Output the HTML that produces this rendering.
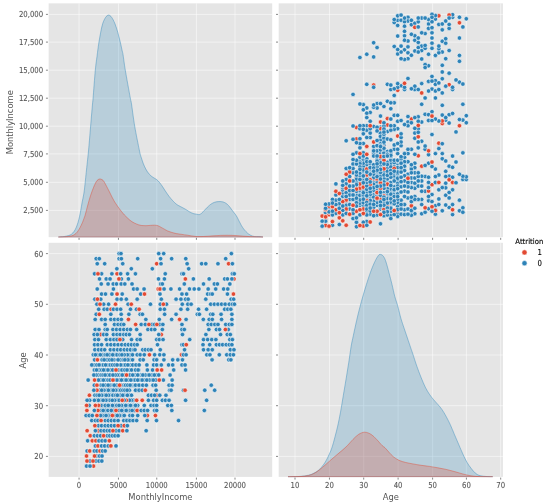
<!DOCTYPE html>
<html lang="en"><head><meta charset="utf-8"><title>Pairplot: MonthlyIncome vs Age by Attrition</title>
<style>html,body{margin:0;padding:0;background:#fff}svg{display:block}</style></head>
<body>
<svg width="550" height="504" viewBox="0 0 550 504" font-family="'DejaVu Sans', 'Liberation Sans', sans-serif">
<rect width="550" height="504" fill="#ffffff"/>
<rect x="48.65" y="3.35" width="223.55" height="233.80" fill="#E5E5E5"/>
<rect x="278.7" y="3.35" width="224.20" height="233.80" fill="#E5E5E5"/>
<rect x="48.65" y="242.8" width="223.55" height="234.10" fill="#E5E5E5"/>
<rect x="278.7" y="242.8" width="224.20" height="234.10" fill="#E5E5E5"/>
<path d="M79.05,3.35V237.15M118.45,3.35V237.15M156.75,3.35V237.15M196.40,3.35V237.15M235.00,3.35V237.15M48.65,210.40H272.2M48.65,182.30H272.2M48.65,153.90H272.2M48.65,126.20H272.2M48.65,98.20H272.2M48.65,70.20H272.2M48.65,42.10H272.2M48.65,14.40H272.2M295.00,3.35V237.15M329.45,3.35V237.15M363.70,3.35V237.15M398.10,3.35V237.15M432.60,3.35V237.15M466.40,3.35V237.15M500.70,3.35V237.15M278.7,210.40H502.9M278.7,182.30H502.9M278.7,153.90H502.9M278.7,126.20H502.9M278.7,98.20H502.9M278.7,70.20H502.9M278.7,42.10H502.9M278.7,14.40H502.9M79.05,242.8V476.9M118.45,242.8V476.9M156.75,242.8V476.9M196.40,242.8V476.9M235.00,242.8V476.9M48.65,456.40H272.2M48.65,405.70H272.2M48.65,355.00H272.2M48.65,304.30H272.2M48.65,253.60H272.2M295.00,242.8V476.9M329.45,242.8V476.9M363.70,242.8V476.9M398.10,242.8V476.9M432.60,242.8V476.9M466.40,242.8V476.9M500.70,242.8V476.9M278.7,456.40H502.9M278.7,405.70H502.9M278.7,355.00H502.9M278.7,304.30H502.9M278.7,253.60H502.9" stroke="#ffffff" stroke-width="0.52" fill="none"/>
<path d="M79.05,237.85v2.0M118.45,237.85v2.0M156.75,237.85v2.0M196.40,237.85v2.0M235.00,237.85v2.0M47.949999999999996,210.40h-2.0M47.949999999999996,182.30h-2.0M47.949999999999996,153.90h-2.0M47.949999999999996,126.20h-2.0M47.949999999999996,98.20h-2.0M47.949999999999996,70.20h-2.0M47.949999999999996,42.10h-2.0M47.949999999999996,14.40h-2.0M295.00,237.85v2.0M329.45,237.85v2.0M363.70,237.85v2.0M398.10,237.85v2.0M432.60,237.85v2.0M466.40,237.85v2.0M500.70,237.85v2.0M278.0,210.40h-2.0M278.0,182.30h-2.0M278.0,153.90h-2.0M278.0,126.20h-2.0M278.0,98.20h-2.0M278.0,70.20h-2.0M278.0,42.10h-2.0M278.0,14.40h-2.0M79.05,477.59999999999997v2.0M118.45,477.59999999999997v2.0M156.75,477.59999999999997v2.0M196.40,477.59999999999997v2.0M235.00,477.59999999999997v2.0M47.949999999999996,456.40h-2.0M47.949999999999996,405.70h-2.0M47.949999999999996,355.00h-2.0M47.949999999999996,304.30h-2.0M47.949999999999996,253.60h-2.0M295.00,477.59999999999997v2.0M329.45,477.59999999999997v2.0M363.70,477.59999999999997v2.0M398.10,477.59999999999997v2.0M432.60,477.59999999999997v2.0M466.40,477.59999999999997v2.0M500.70,477.59999999999997v2.0M278.0,456.40h-2.0M278.0,405.70h-2.0M278.0,355.00h-2.0M278.0,304.30h-2.0M278.0,253.60h-2.0" stroke="#555555" stroke-width="0.7" fill="none"/>
<clipPath id="ctl"><rect x="48.65" y="3.35" width="223.55" height="234.25"/></clipPath>
<clipPath id="cbr"><rect x="278.7" y="242.8" width="224.20" height="234.55"/></clipPath>
<g clip-path="url(#ctl)"><path d="M58.40,237.10C59.37,237.00 62.52,236.75 64.20,236.50C65.88,236.25 67.28,235.98 68.50,235.60C69.72,235.22 70.55,234.92 71.50,234.20C72.45,233.48 73.42,232.42 74.20,231.30C74.98,230.18 75.57,228.97 76.20,227.50C76.83,226.03 77.45,224.32 78.00,222.50C78.55,220.68 79.05,218.57 79.50,216.60C79.95,214.63 80.25,213.13 80.70,210.70C81.15,208.27 81.72,204.62 82.20,202.00C82.68,199.38 83.20,197.33 83.60,195.00C84.00,192.67 84.17,191.72 84.60,188.00C85.03,184.28 85.53,179.03 86.20,172.70C86.87,166.37 87.92,157.12 88.60,150.00C89.28,142.88 89.65,137.67 90.30,130.00C90.95,122.33 92.03,109.33 92.50,104.00C92.97,98.67 92.63,103.63 93.10,98.00C93.57,92.37 94.62,77.37 95.30,70.20C95.98,63.03 96.80,58.22 97.20,55.00C97.60,51.78 97.40,53.10 97.70,50.90C98.00,48.70 98.52,44.83 99.00,41.80C99.48,38.77 99.98,35.73 100.60,32.70C101.22,29.67 101.87,26.15 102.70,23.60C103.53,21.05 104.62,18.82 105.60,17.40C106.58,15.98 107.60,15.12 108.60,15.10C109.60,15.08 110.55,15.88 111.60,17.30C112.65,18.72 113.85,21.03 114.90,23.60C115.95,26.17 117.02,29.67 117.90,32.70C118.78,35.73 119.48,38.77 120.20,41.80C120.92,44.83 121.72,48.70 122.20,50.90C122.68,53.10 122.58,51.78 123.10,55.00C123.62,58.22 124.10,63.03 125.30,70.20C126.50,77.37 129.27,92.37 130.30,98.00C131.33,103.63 130.77,99.30 131.50,104.00C132.23,108.70 133.40,118.53 134.70,126.20C136.00,133.87 138.27,144.95 139.30,150.00C140.33,155.05 140.27,154.32 140.90,156.50C141.53,158.68 142.28,161.00 143.10,163.10C143.92,165.20 144.80,167.28 145.80,169.10C146.80,170.92 147.92,172.63 149.10,174.00C150.28,175.37 151.63,176.37 152.90,177.30C154.17,178.23 155.57,178.70 156.70,179.60C157.83,180.50 158.73,181.53 159.70,182.70C160.67,183.87 161.58,185.25 162.50,186.60C163.42,187.95 164.30,189.43 165.20,190.80C166.10,192.17 166.97,193.52 167.90,194.80C168.83,196.08 169.92,197.43 170.80,198.50C171.68,199.57 172.35,200.32 173.20,201.20C174.05,202.08 175.00,203.07 175.90,203.80C176.80,204.53 177.53,204.98 178.60,205.60C179.67,206.22 181.08,206.85 182.30,207.50C183.52,208.15 184.70,208.78 185.90,209.50C187.10,210.22 188.28,211.13 189.50,211.80C190.72,212.47 192.02,213.10 193.20,213.50C194.38,213.90 195.50,214.03 196.60,214.20C197.70,214.37 198.73,214.88 199.80,214.50C200.87,214.12 201.75,213.10 203.00,211.90C204.25,210.70 205.98,208.58 207.30,207.30C208.62,206.02 209.70,205.03 210.90,204.20C212.10,203.37 213.28,202.73 214.50,202.30C215.72,201.87 216.98,201.70 218.20,201.60C219.42,201.50 220.75,201.55 221.80,201.70C222.85,201.85 223.58,202.07 224.50,202.50C225.42,202.93 226.38,203.50 227.30,204.30C228.22,205.10 229.10,206.18 230.00,207.30C230.90,208.42 231.82,209.83 232.70,211.00C233.58,212.17 234.55,213.25 235.30,214.30C236.05,215.35 236.52,216.07 237.20,217.30C237.88,218.53 238.68,220.30 239.40,221.70C240.12,223.10 240.78,224.48 241.50,225.70C242.22,226.92 242.97,228.03 243.70,229.00C244.43,229.97 245.17,230.72 245.90,231.50C246.63,232.28 247.25,233.03 248.10,233.70C248.95,234.37 249.92,235.02 251.00,235.50C252.08,235.98 253.27,236.42 254.60,236.60C255.93,236.78 257.60,236.52 259.00,236.60C260.40,236.68 262.33,237.02 263.00,237.10L263.00,237.15L58.40,237.15Z" fill="#348ABD" fill-opacity="0.25" stroke="#348ABD" stroke-opacity="1" stroke-width="0.45" stroke-linejoin="round"/><path d="M58.40,237.10C59.67,237.05 63.82,237.00 66.00,236.80C68.18,236.60 70.08,236.27 71.50,235.90C72.92,235.53 73.53,235.25 74.50,234.60C75.47,233.95 76.42,233.10 77.30,232.00C78.18,230.90 78.92,229.63 79.80,228.00C80.68,226.37 81.75,224.20 82.60,222.20C83.45,220.20 84.23,218.12 84.90,216.00C85.57,213.88 85.90,212.10 86.60,209.50C87.30,206.90 88.35,202.98 89.10,200.40C89.85,197.82 90.35,196.18 91.10,194.00C91.85,191.82 92.75,189.33 93.60,187.30C94.45,185.27 95.43,183.08 96.20,181.80C96.97,180.52 97.57,180.07 98.20,179.60C98.83,179.13 99.38,179.00 100.00,179.00C100.62,179.00 101.27,179.22 101.90,179.60C102.53,179.98 103.03,180.20 103.80,181.30C104.57,182.40 105.58,184.48 106.50,186.20C107.42,187.92 108.38,189.78 109.30,191.60C110.22,193.42 111.10,195.37 112.00,197.10C112.90,198.83 113.70,200.37 114.70,202.00C115.70,203.63 116.90,205.35 118.00,206.90C119.10,208.45 120.22,209.93 121.30,211.30C122.38,212.67 123.42,213.93 124.50,215.10C125.58,216.27 126.70,217.30 127.80,218.30C128.90,219.30 130.02,220.32 131.10,221.10C132.18,221.88 133.10,222.40 134.30,223.00C135.50,223.60 137.05,224.28 138.30,224.70C139.55,225.12 140.53,225.33 141.80,225.50C143.07,225.67 144.48,225.72 145.90,225.70C147.32,225.68 148.85,225.48 150.30,225.40C151.75,225.32 153.33,225.15 154.60,225.20C155.87,225.25 156.80,225.33 157.90,225.70C159.00,226.07 160.12,226.82 161.20,227.40C162.28,227.98 163.32,228.60 164.40,229.20C165.48,229.80 166.42,230.45 167.70,231.00C168.98,231.55 170.65,232.07 172.10,232.50C173.55,232.93 174.77,233.28 176.40,233.60C178.03,233.92 180.08,234.13 181.90,234.40C183.72,234.67 185.12,234.87 187.30,235.20C189.48,235.53 192.88,236.17 195.00,236.40C197.12,236.63 198.00,236.62 200.00,236.60C202.00,236.58 204.73,236.43 207.00,236.30C209.27,236.17 211.35,235.95 213.60,235.80C215.85,235.65 218.22,235.48 220.50,235.40C222.78,235.32 224.88,235.28 227.30,235.30C229.72,235.32 232.50,235.37 235.00,235.50C237.50,235.63 239.88,235.92 242.30,236.10C244.72,236.28 247.22,236.47 249.50,236.60C251.78,236.73 253.75,236.82 256.00,236.90C258.25,236.98 261.83,237.07 263.00,237.10L263.00,237.15L58.40,237.15Z" fill="#E24A33" fill-opacity="0.25" stroke="#E24A33" stroke-opacity="1" stroke-width="0.45" stroke-linejoin="round"/></g>
<g clip-path="url(#cbr)"><path d="M288.00,476.95C288.65,476.93 289.87,476.93 291.90,476.84C293.93,476.75 297.42,476.67 300.20,476.40C302.98,476.12 306.28,475.74 308.60,475.18C310.92,474.63 312.25,474.09 314.10,473.09C315.95,472.09 317.85,471.01 319.70,469.20C321.55,467.39 323.58,464.75 325.20,462.20C326.82,459.65 328.23,456.45 329.40,453.90C330.57,451.35 331.28,449.68 332.20,446.90C333.12,444.12 333.98,440.67 334.90,437.20C335.82,433.73 336.77,430.27 337.70,426.10C338.63,421.93 339.57,417.28 340.50,412.20C341.43,407.12 342.37,401.15 343.30,395.60C344.23,390.05 345.18,384.47 346.10,378.90C347.02,373.33 347.95,367.68 348.80,362.20C349.65,356.72 350.45,350.40 351.20,346.00C351.95,341.60 352.40,340.03 353.30,335.80C354.20,331.57 355.52,325.32 356.60,320.60C357.68,315.88 358.72,311.68 359.80,307.50C360.88,303.32 362.00,299.33 363.10,295.50C364.20,291.67 365.32,287.97 366.40,284.50C367.48,281.03 368.52,277.78 369.60,274.70C370.68,271.62 371.80,268.62 372.90,266.00C374.00,263.38 375.28,260.75 376.20,259.00C377.12,257.25 377.78,256.27 378.40,255.50C379.02,254.73 379.18,254.40 379.90,254.40C380.62,254.40 381.77,254.48 382.70,255.50C383.63,256.52 384.48,257.75 385.50,260.50C386.52,263.25 387.72,268.00 388.80,272.00C389.88,276.00 391.00,280.42 392.00,284.50C393.00,288.58 393.87,293.00 394.80,296.50C395.73,300.00 396.58,301.85 397.60,305.50C398.62,309.15 399.82,314.62 400.90,318.40C401.98,322.18 403.02,324.93 404.10,328.20C405.18,331.47 406.30,334.73 407.40,338.00C408.50,341.27 409.80,345.15 410.70,347.80C411.60,350.45 411.77,350.80 412.80,353.90C413.83,357.00 415.52,362.47 416.90,366.40C418.28,370.33 419.70,374.03 421.10,377.50C422.50,380.97 423.92,384.42 425.30,387.20C426.68,389.98 428.02,392.12 429.40,394.20C430.78,396.28 432.20,398.00 433.60,399.70C435.00,401.40 436.42,402.78 437.80,404.40C439.18,406.02 440.52,407.40 441.90,409.40C443.28,411.40 444.70,413.85 446.10,416.40C447.50,418.95 448.92,421.70 450.30,424.70C451.68,427.70 453.02,431.15 454.40,434.40C455.78,437.65 457.20,440.95 458.60,444.20C460.00,447.45 461.42,450.90 462.80,453.90C464.18,456.90 465.52,459.80 466.90,462.20C468.28,464.60 469.70,466.49 471.10,468.30C472.50,470.11 473.68,471.83 475.30,473.09C476.92,474.35 477.90,475.20 480.80,475.85C483.70,476.49 490.72,476.77 492.70,476.95L492.70,476.9L288.00,476.9Z" fill="#348ABD" fill-opacity="0.25" stroke="#348ABD" stroke-opacity="1" stroke-width="0.45" stroke-linejoin="round"/><path d="M288.00,476.95C288.67,476.93 289.97,476.89 292.00,476.84C294.03,476.78 297.43,476.84 300.20,476.62C302.97,476.40 306.28,476.05 308.60,475.52C310.92,474.98 312.25,474.39 314.10,473.42C315.95,472.45 317.85,471.10 319.70,469.70C321.55,468.30 323.35,466.62 325.20,465.00C327.05,463.38 328.95,461.62 330.80,460.00C332.65,458.38 334.45,456.87 336.30,455.30C338.15,453.73 340.05,452.22 341.90,450.60C343.75,448.98 345.55,447.47 347.40,445.60C349.25,443.73 351.13,441.27 353.00,439.40C354.87,437.53 356.65,435.60 358.60,434.40C360.55,433.20 362.62,432.20 364.70,432.20C366.78,432.20 369.12,433.20 371.10,434.40C373.08,435.60 374.75,437.53 376.60,439.40C378.45,441.27 380.80,444.20 382.20,445.60C383.60,447.00 383.83,446.65 385.00,447.80C386.17,448.95 387.82,451.02 389.20,452.50C390.58,453.98 391.68,455.40 393.30,456.70C394.92,458.00 396.82,459.33 398.90,460.30C400.98,461.27 403.48,461.90 405.80,462.50C408.12,463.10 410.25,463.43 412.80,463.90C415.35,464.37 418.33,464.88 421.10,465.30C423.87,465.72 426.62,465.98 429.40,466.40C432.18,466.82 435.02,467.30 437.80,467.80C440.58,468.30 443.33,468.78 446.10,469.40C448.87,470.02 451.62,470.78 454.40,471.54C457.18,472.31 460.02,473.25 462.80,473.97C465.58,474.69 468.10,475.39 471.10,475.85C474.10,476.31 477.20,476.55 480.80,476.73C484.40,476.91 490.72,476.91 492.70,476.95L492.70,476.9L288.00,476.9Z" fill="#E24A33" fill-opacity="0.25" stroke="#E24A33" stroke-opacity="1" stroke-width="0.45" stroke-linejoin="round"/></g>
<g stroke="#ffffff" stroke-width="0.55"><circle cx="107.63" cy="364.92" r="2.25" fill="#2E83B8"/><circle cx="161.32" cy="334.56" r="2.25" fill="#E24A33"/><circle cx="118.40" cy="385.16" r="2.25" fill="#2E83B8"/><circle cx="106.35" cy="375.04" r="2.25" fill="#2E83B8"/><circle cx="108.95" cy="364.92" r="2.25" fill="#2E83B8"/><circle cx="124.82" cy="425.64" r="2.25" fill="#2E83B8"/><circle cx="87.13" cy="450.94" r="2.25" fill="#2E83B8"/><circle cx="125.17" cy="385.16" r="2.25" fill="#2E83B8"/><circle cx="131.20" cy="344.68" r="2.25" fill="#2E83B8"/><circle cx="113.27" cy="410.46" r="2.25" fill="#E24A33"/><circle cx="102.67" cy="380.10" r="2.25" fill="#2E83B8"/><circle cx="120.53" cy="354.80" r="2.25" fill="#2E83B8"/><circle cx="133.82" cy="364.92" r="2.25" fill="#E24A33"/><circle cx="125.44" cy="369.98" r="2.25" fill="#2E83B8"/><circle cx="150.63" cy="380.10" r="2.25" fill="#2E83B8"/><circle cx="96.89" cy="461.06" r="2.25" fill="#E24A33"/><circle cx="120.57" cy="339.62" r="2.25" fill="#2E83B8"/><circle cx="104.85" cy="410.46" r="2.25" fill="#2E83B8"/><circle cx="102.67" cy="364.92" r="2.25" fill="#2E83B8"/><circle cx="97.79" cy="450.94" r="2.25" fill="#E24A33"/><circle cx="116.50" cy="375.04" r="2.25" fill="#2E83B8"/><circle cx="100.22" cy="380.10" r="2.25" fill="#E24A33"/><circle cx="137.70" cy="415.52" r="2.25" fill="#2E83B8"/><circle cx="100.18" cy="450.94" r="2.25" fill="#E24A33"/><circle cx="130.65" cy="344.68" r="2.25" fill="#2E83B8"/><circle cx="209.19" cy="278.90" r="2.25" fill="#2E83B8"/><circle cx="102.08" cy="390.22" r="2.25" fill="#E24A33"/><circle cx="114.11" cy="354.80" r="2.25" fill="#E24A33"/><circle cx="116.76" cy="395.28" r="2.25" fill="#2E83B8"/><circle cx="136.46" cy="309.26" r="2.25" fill="#2E83B8"/><circle cx="120.94" cy="359.86" r="2.25" fill="#2E83B8"/><circle cx="112.49" cy="430.70" r="2.25" fill="#E24A33"/><circle cx="214.35" cy="283.96" r="2.25" fill="#2E83B8"/><circle cx="104.61" cy="395.28" r="2.25" fill="#2E83B8"/><circle cx="109.53" cy="390.22" r="2.25" fill="#2E83B8"/><circle cx="113.90" cy="385.16" r="2.25" fill="#2E83B8"/><circle cx="117.26" cy="339.62" r="2.25" fill="#2E83B8"/><circle cx="110.64" cy="425.64" r="2.25" fill="#2E83B8"/><circle cx="104.49" cy="405.40" r="2.25" fill="#2E83B8"/><circle cx="127.66" cy="369.98" r="2.25" fill="#2E83B8"/><circle cx="113.63" cy="369.98" r="2.25" fill="#2E83B8"/><circle cx="130.27" cy="410.46" r="2.25" fill="#2E83B8"/><circle cx="102.84" cy="359.86" r="2.25" fill="#2E83B8"/><circle cx="104.67" cy="400.34" r="2.25" fill="#2E83B8"/><circle cx="116.79" cy="354.80" r="2.25" fill="#2E83B8"/><circle cx="126.91" cy="359.86" r="2.25" fill="#2E83B8"/><circle cx="95.38" cy="445.88" r="2.25" fill="#2E83B8"/><circle cx="118.63" cy="375.04" r="2.25" fill="#2E83B8"/><circle cx="97.53" cy="354.80" r="2.25" fill="#E24A33"/><circle cx="99.98" cy="334.56" r="2.25" fill="#E24A33"/><circle cx="128.20" cy="390.22" r="2.25" fill="#2E83B8"/><circle cx="89.77" cy="461.06" r="2.25" fill="#E24A33"/><circle cx="118.70" cy="359.86" r="2.25" fill="#2E83B8"/><circle cx="105.51" cy="380.10" r="2.25" fill="#E24A33"/><circle cx="138.64" cy="369.98" r="2.25" fill="#2E83B8"/><circle cx="111.49" cy="390.22" r="2.25" fill="#2E83B8"/><circle cx="107.25" cy="390.22" r="2.25" fill="#E24A33"/><circle cx="112.72" cy="354.80" r="2.25" fill="#2E83B8"/><circle cx="149.85" cy="380.10" r="2.25" fill="#2E83B8"/><circle cx="113.11" cy="354.80" r="2.25" fill="#2E83B8"/><circle cx="115.43" cy="354.80" r="2.25" fill="#2E83B8"/><circle cx="134.86" cy="364.92" r="2.25" fill="#2E83B8"/><circle cx="124.66" cy="380.10" r="2.25" fill="#2E83B8"/><circle cx="111.78" cy="435.76" r="2.25" fill="#2E83B8"/><circle cx="117.52" cy="415.52" r="2.25" fill="#2E83B8"/><circle cx="215.69" cy="289.02" r="2.25" fill="#2E83B8"/><circle cx="138.73" cy="380.10" r="2.25" fill="#2E83B8"/><circle cx="231.89" cy="319.38" r="2.25" fill="#2E83B8"/><circle cx="97.96" cy="400.34" r="2.25" fill="#E24A33"/><circle cx="112.93" cy="329.50" r="2.25" fill="#2E83B8"/><circle cx="90.84" cy="461.06" r="2.25" fill="#E24A33"/><circle cx="107.09" cy="354.80" r="2.25" fill="#2E83B8"/><circle cx="118.83" cy="395.28" r="2.25" fill="#2E83B8"/><circle cx="136.57" cy="405.40" r="2.25" fill="#2E83B8"/><circle cx="121.53" cy="380.10" r="2.25" fill="#E24A33"/><circle cx="130.37" cy="380.10" r="2.25" fill="#2E83B8"/><circle cx="131.85" cy="400.34" r="2.25" fill="#2E83B8"/><circle cx="104.43" cy="369.98" r="2.25" fill="#2E83B8"/><circle cx="132.75" cy="375.04" r="2.25" fill="#2E83B8"/><circle cx="138.72" cy="390.22" r="2.25" fill="#2E83B8"/><circle cx="124.72" cy="385.16" r="2.25" fill="#2E83B8"/><circle cx="109.57" cy="369.98" r="2.25" fill="#2E83B8"/><circle cx="125.39" cy="359.86" r="2.25" fill="#2E83B8"/><circle cx="121.97" cy="395.28" r="2.25" fill="#2E83B8"/><circle cx="130.12" cy="410.46" r="2.25" fill="#2E83B8"/><circle cx="187.12" cy="263.72" r="2.25" fill="#2E83B8"/><circle cx="106.90" cy="375.04" r="2.25" fill="#E24A33"/><circle cx="122.73" cy="339.62" r="2.25" fill="#2E83B8"/><circle cx="101.19" cy="405.40" r="2.25" fill="#E24A33"/><circle cx="104.30" cy="334.56" r="2.25" fill="#2E83B8"/><circle cx="107.01" cy="395.28" r="2.25" fill="#2E83B8"/><circle cx="102.37" cy="380.10" r="2.25" fill="#2E83B8"/><circle cx="102.93" cy="405.40" r="2.25" fill="#2E83B8"/><circle cx="100.92" cy="430.70" r="2.25" fill="#E24A33"/><circle cx="122.62" cy="385.16" r="2.25" fill="#2E83B8"/><circle cx="101.43" cy="395.28" r="2.25" fill="#2E83B8"/><circle cx="89.06" cy="415.52" r="2.25" fill="#E24A33"/><circle cx="101.88" cy="405.40" r="2.25" fill="#E24A33"/><circle cx="126.42" cy="385.16" r="2.25" fill="#2E83B8"/><circle cx="112.18" cy="390.22" r="2.25" fill="#2E83B8"/><circle cx="106.34" cy="430.70" r="2.25" fill="#E24A33"/><circle cx="164.62" cy="314.32" r="2.25" fill="#2E83B8"/><circle cx="108.86" cy="364.92" r="2.25" fill="#2E83B8"/><circle cx="159.77" cy="324.44" r="2.25" fill="#2E83B8"/><circle cx="188.66" cy="268.78" r="2.25" fill="#2E83B8"/><circle cx="126.66" cy="410.46" r="2.25" fill="#E24A33"/><circle cx="140.68" cy="294.08" r="2.25" fill="#2E83B8"/><circle cx="122.63" cy="375.04" r="2.25" fill="#E24A33"/><circle cx="104.66" cy="415.52" r="2.25" fill="#2E83B8"/><circle cx="106.53" cy="359.86" r="2.25" fill="#E24A33"/><circle cx="160.28" cy="309.26" r="2.25" fill="#2E83B8"/><circle cx="179.58" cy="319.38" r="2.25" fill="#E24A33"/><circle cx="128.41" cy="319.38" r="2.25" fill="#E24A33"/><circle cx="135.24" cy="364.92" r="2.25" fill="#2E83B8"/><circle cx="181.96" cy="364.92" r="2.25" fill="#2E83B8"/><circle cx="122.51" cy="395.28" r="2.25" fill="#2E83B8"/><circle cx="126.44" cy="390.22" r="2.25" fill="#2E83B8"/><circle cx="148.27" cy="375.04" r="2.25" fill="#2E83B8"/><circle cx="114.51" cy="395.28" r="2.25" fill="#E24A33"/><circle cx="97.79" cy="420.58" r="2.25" fill="#E24A33"/><circle cx="173.70" cy="369.98" r="2.25" fill="#2E83B8"/><circle cx="96.82" cy="400.34" r="2.25" fill="#E24A33"/><circle cx="109.66" cy="435.76" r="2.25" fill="#2E83B8"/><circle cx="114.37" cy="375.04" r="2.25" fill="#E24A33"/><circle cx="121.08" cy="390.22" r="2.25" fill="#2E83B8"/><circle cx="114.91" cy="385.16" r="2.25" fill="#2E83B8"/><circle cx="134.54" cy="349.74" r="2.25" fill="#2E83B8"/><circle cx="98.48" cy="425.64" r="2.25" fill="#2E83B8"/><circle cx="97.38" cy="395.28" r="2.25" fill="#2E83B8"/><circle cx="98.46" cy="461.06" r="2.25" fill="#E24A33"/><circle cx="117.84" cy="385.16" r="2.25" fill="#2E83B8"/><circle cx="103.78" cy="430.70" r="2.25" fill="#E24A33"/><circle cx="124.47" cy="390.22" r="2.25" fill="#2E83B8"/><circle cx="127.05" cy="349.74" r="2.25" fill="#2E83B8"/><circle cx="104.36" cy="415.52" r="2.25" fill="#E24A33"/><circle cx="92.28" cy="364.92" r="2.25" fill="#2E83B8"/><circle cx="177.83" cy="359.86" r="2.25" fill="#2E83B8"/><circle cx="111.14" cy="405.40" r="2.25" fill="#2E83B8"/><circle cx="117.86" cy="400.34" r="2.25" fill="#2E83B8"/><circle cx="107.02" cy="369.98" r="2.25" fill="#E24A33"/><circle cx="120.12" cy="354.80" r="2.25" fill="#2E83B8"/><circle cx="123.86" cy="364.92" r="2.25" fill="#2E83B8"/><circle cx="126.15" cy="385.16" r="2.25" fill="#2E83B8"/><circle cx="136.32" cy="369.98" r="2.25" fill="#2E83B8"/><circle cx="107.42" cy="400.34" r="2.25" fill="#2E83B8"/><circle cx="101.84" cy="385.16" r="2.25" fill="#2E83B8"/><circle cx="131.48" cy="380.10" r="2.25" fill="#E24A33"/><circle cx="97.13" cy="400.34" r="2.25" fill="#E24A33"/><circle cx="108.41" cy="405.40" r="2.25" fill="#2E83B8"/><circle cx="155.52" cy="375.04" r="2.25" fill="#2E83B8"/><circle cx="109.65" cy="364.92" r="2.25" fill="#2E83B8"/><circle cx="104.99" cy="410.46" r="2.25" fill="#2E83B8"/><circle cx="98.90" cy="440.82" r="2.25" fill="#2E83B8"/><circle cx="103.57" cy="334.56" r="2.25" fill="#2E83B8"/><circle cx="146.15" cy="430.70" r="2.25" fill="#2E83B8"/><circle cx="109.02" cy="354.80" r="2.25" fill="#2E83B8"/><circle cx="154.61" cy="354.80" r="2.25" fill="#2E83B8"/><circle cx="181.96" cy="273.84" r="2.25" fill="#2E83B8"/><circle cx="99.36" cy="400.34" r="2.25" fill="#E24A33"/><circle cx="138.54" cy="385.16" r="2.25" fill="#2E83B8"/><circle cx="97.78" cy="364.92" r="2.25" fill="#E24A33"/><circle cx="136.87" cy="375.04" r="2.25" fill="#2E83B8"/><circle cx="162.86" cy="324.44" r="2.25" fill="#2E83B8"/><circle cx="233.96" cy="278.90" r="2.25" fill="#E24A33"/><circle cx="132.55" cy="364.92" r="2.25" fill="#E24A33"/><circle cx="130.09" cy="395.28" r="2.25" fill="#2E83B8"/><circle cx="112.98" cy="354.80" r="2.25" fill="#2E83B8"/><circle cx="97.17" cy="420.58" r="2.25" fill="#E24A33"/><circle cx="96.03" cy="369.98" r="2.25" fill="#2E83B8"/><circle cx="151.80" cy="375.04" r="2.25" fill="#E24A33"/><circle cx="224.67" cy="309.26" r="2.25" fill="#2E83B8"/><circle cx="98.26" cy="435.76" r="2.25" fill="#E24A33"/><circle cx="100.16" cy="430.70" r="2.25" fill="#E24A33"/><circle cx="132.04" cy="354.80" r="2.25" fill="#2E83B8"/><circle cx="133.28" cy="380.10" r="2.25" fill="#2E83B8"/><circle cx="110.80" cy="405.40" r="2.25" fill="#2E83B8"/><circle cx="130.12" cy="410.46" r="2.25" fill="#E24A33"/><circle cx="120.52" cy="425.64" r="2.25" fill="#E24A33"/><circle cx="101.40" cy="435.76" r="2.25" fill="#E24A33"/><circle cx="209.70" cy="344.68" r="2.25" fill="#2E83B8"/><circle cx="123.29" cy="410.46" r="2.25" fill="#E24A33"/><circle cx="99.91" cy="334.56" r="2.25" fill="#2E83B8"/><circle cx="141.29" cy="380.10" r="2.25" fill="#2E83B8"/><circle cx="126.94" cy="420.58" r="2.25" fill="#2E83B8"/><circle cx="105.37" cy="410.46" r="2.25" fill="#2E83B8"/><circle cx="108.11" cy="415.52" r="2.25" fill="#2E83B8"/><circle cx="114.70" cy="435.76" r="2.25" fill="#2E83B8"/><circle cx="109.01" cy="400.34" r="2.25" fill="#E24A33"/><circle cx="131.19" cy="410.46" r="2.25" fill="#2E83B8"/><circle cx="156.28" cy="375.04" r="2.25" fill="#E24A33"/><circle cx="128.47" cy="359.86" r="2.25" fill="#2E83B8"/><circle cx="135.63" cy="324.44" r="2.25" fill="#E24A33"/><circle cx="159.77" cy="354.80" r="2.25" fill="#2E83B8"/><circle cx="96.85" cy="334.56" r="2.25" fill="#2E83B8"/><circle cx="105.70" cy="395.28" r="2.25" fill="#2E83B8"/><circle cx="109.24" cy="420.58" r="2.25" fill="#2E83B8"/><circle cx="106.50" cy="375.04" r="2.25" fill="#2E83B8"/><circle cx="107.18" cy="369.98" r="2.25" fill="#E24A33"/><circle cx="231.17" cy="299.14" r="2.25" fill="#2E83B8"/><circle cx="137.06" cy="390.22" r="2.25" fill="#E24A33"/><circle cx="122.04" cy="369.98" r="2.25" fill="#2E83B8"/><circle cx="120.60" cy="390.22" r="2.25" fill="#2E83B8"/><circle cx="111.99" cy="425.64" r="2.25" fill="#E24A33"/><circle cx="136.74" cy="369.98" r="2.25" fill="#2E83B8"/><circle cx="104.11" cy="380.10" r="2.25" fill="#2E83B8"/><circle cx="159.25" cy="319.38" r="2.25" fill="#2E83B8"/><circle cx="98.12" cy="364.92" r="2.25" fill="#2E83B8"/><circle cx="154.61" cy="380.10" r="2.25" fill="#E24A33"/><circle cx="107.76" cy="364.92" r="2.25" fill="#E24A33"/><circle cx="114.56" cy="400.34" r="2.25" fill="#2E83B8"/><circle cx="131.33" cy="349.74" r="2.25" fill="#2E83B8"/><circle cx="120.64" cy="415.52" r="2.25" fill="#E24A33"/><circle cx="103.09" cy="400.34" r="2.25" fill="#2E83B8"/><circle cx="135.13" cy="380.10" r="2.25" fill="#E24A33"/><circle cx="98.93" cy="400.34" r="2.25" fill="#E24A33"/><circle cx="99.90" cy="380.10" r="2.25" fill="#2E83B8"/><circle cx="121.25" cy="324.44" r="2.25" fill="#2E83B8"/><circle cx="115.57" cy="354.80" r="2.25" fill="#2E83B8"/><circle cx="141.33" cy="375.04" r="2.25" fill="#E24A33"/><circle cx="104.22" cy="400.34" r="2.25" fill="#E24A33"/><circle cx="131.27" cy="380.10" r="2.25" fill="#2E83B8"/><circle cx="171.64" cy="258.66" r="2.25" fill="#2E83B8"/><circle cx="143.71" cy="380.10" r="2.25" fill="#2E83B8"/><circle cx="117.62" cy="415.52" r="2.25" fill="#E24A33"/><circle cx="104.60" cy="359.86" r="2.25" fill="#2E83B8"/><circle cx="106.31" cy="395.28" r="2.25" fill="#E24A33"/><circle cx="101.72" cy="440.82" r="2.25" fill="#E24A33"/><circle cx="125.24" cy="425.64" r="2.25" fill="#2E83B8"/><circle cx="112.96" cy="395.28" r="2.25" fill="#2E83B8"/><circle cx="119.73" cy="390.22" r="2.25" fill="#E24A33"/><circle cx="121.18" cy="395.28" r="2.25" fill="#2E83B8"/><circle cx="129.40" cy="369.98" r="2.25" fill="#2E83B8"/><circle cx="131.34" cy="375.04" r="2.25" fill="#2E83B8"/><circle cx="129.01" cy="395.28" r="2.25" fill="#E24A33"/><circle cx="110.03" cy="385.16" r="2.25" fill="#E24A33"/><circle cx="92.56" cy="461.06" r="2.25" fill="#E24A33"/><circle cx="104.18" cy="354.80" r="2.25" fill="#2E83B8"/><circle cx="96.99" cy="375.04" r="2.25" fill="#2E83B8"/><circle cx="133.04" cy="385.16" r="2.25" fill="#2E83B8"/><circle cx="112.95" cy="375.04" r="2.25" fill="#E24A33"/><circle cx="96.88" cy="369.98" r="2.25" fill="#2E83B8"/><circle cx="107.51" cy="430.70" r="2.25" fill="#2E83B8"/><circle cx="149.43" cy="380.10" r="2.25" fill="#2E83B8"/><circle cx="92.50" cy="461.06" r="2.25" fill="#2E83B8"/><circle cx="129.50" cy="380.10" r="2.25" fill="#2E83B8"/><circle cx="120.59" cy="380.10" r="2.25" fill="#E24A33"/><circle cx="103.88" cy="359.86" r="2.25" fill="#2E83B8"/><circle cx="134.45" cy="344.68" r="2.25" fill="#2E83B8"/><circle cx="128.34" cy="344.68" r="2.25" fill="#2E83B8"/><circle cx="145.84" cy="319.38" r="2.25" fill="#2E83B8"/><circle cx="150.62" cy="380.10" r="2.25" fill="#2E83B8"/><circle cx="97.73" cy="435.76" r="2.25" fill="#E24A33"/><circle cx="138.32" cy="380.10" r="2.25" fill="#2E83B8"/><circle cx="140.16" cy="334.56" r="2.25" fill="#2E83B8"/><circle cx="100.42" cy="456.00" r="2.25" fill="#E24A33"/><circle cx="120.70" cy="385.16" r="2.25" fill="#2E83B8"/><circle cx="136.61" cy="380.10" r="2.25" fill="#2E83B8"/><circle cx="117.44" cy="415.52" r="2.25" fill="#2E83B8"/><circle cx="108.81" cy="420.58" r="2.25" fill="#2E83B8"/><circle cx="116.49" cy="364.92" r="2.25" fill="#2E83B8"/><circle cx="132.17" cy="354.80" r="2.25" fill="#2E83B8"/><circle cx="149.45" cy="354.80" r="2.25" fill="#E24A33"/><circle cx="203.31" cy="319.38" r="2.25" fill="#2E83B8"/><circle cx="115.62" cy="395.28" r="2.25" fill="#E24A33"/><circle cx="147.31" cy="380.10" r="2.25" fill="#2E83B8"/><circle cx="95.54" cy="461.06" r="2.25" fill="#2E83B8"/><circle cx="140.16" cy="314.32" r="2.25" fill="#2E83B8"/><circle cx="104.38" cy="405.40" r="2.25" fill="#E24A33"/><circle cx="109.84" cy="369.98" r="2.25" fill="#2E83B8"/><circle cx="214.66" cy="390.22" r="2.25" fill="#2E83B8"/><circle cx="103.43" cy="450.94" r="2.25" fill="#E24A33"/><circle cx="118.53" cy="380.10" r="2.25" fill="#2E83B8"/><circle cx="102.65" cy="354.80" r="2.25" fill="#E24A33"/><circle cx="160.59" cy="258.66" r="2.25" fill="#2E83B8"/><circle cx="98.18" cy="375.04" r="2.25" fill="#E24A33"/><circle cx="113.16" cy="380.10" r="2.25" fill="#2E83B8"/><circle cx="121.19" cy="380.10" r="2.25" fill="#2E83B8"/><circle cx="98.01" cy="299.14" r="2.25" fill="#2E83B8"/><circle cx="113.84" cy="359.86" r="2.25" fill="#E24A33"/><circle cx="97.55" cy="430.70" r="2.25" fill="#E24A33"/><circle cx="113.40" cy="435.76" r="2.25" fill="#2E83B8"/><circle cx="118.52" cy="395.28" r="2.25" fill="#2E83B8"/><circle cx="140.42" cy="375.04" r="2.25" fill="#2E83B8"/><circle cx="128.25" cy="390.22" r="2.25" fill="#2E83B8"/><circle cx="112.07" cy="405.40" r="2.25" fill="#2E83B8"/><circle cx="116.00" cy="405.40" r="2.25" fill="#2E83B8"/><circle cx="104.51" cy="405.40" r="2.25" fill="#2E83B8"/><circle cx="119.22" cy="354.80" r="2.25" fill="#2E83B8"/><circle cx="227.25" cy="334.56" r="2.25" fill="#2E83B8"/><circle cx="106.45" cy="385.16" r="2.25" fill="#2E83B8"/><circle cx="97.96" cy="445.88" r="2.25" fill="#E24A33"/><circle cx="130.81" cy="359.86" r="2.25" fill="#2E83B8"/><circle cx="100.00" cy="450.94" r="2.25" fill="#E24A33"/><circle cx="113.71" cy="400.34" r="2.25" fill="#E24A33"/><circle cx="129.91" cy="349.74" r="2.25" fill="#2E83B8"/><circle cx="94.35" cy="385.16" r="2.25" fill="#2E83B8"/><circle cx="170.09" cy="375.04" r="2.25" fill="#2E83B8"/><circle cx="123.21" cy="354.80" r="2.25" fill="#2E83B8"/><circle cx="95.18" cy="329.50" r="2.25" fill="#2E83B8"/><circle cx="216.41" cy="329.50" r="2.25" fill="#2E83B8"/><circle cx="122.56" cy="359.86" r="2.25" fill="#E24A33"/><circle cx="230.34" cy="349.74" r="2.25" fill="#2E83B8"/><circle cx="126.75" cy="359.86" r="2.25" fill="#E24A33"/><circle cx="142.66" cy="380.10" r="2.25" fill="#2E83B8"/><circle cx="108.90" cy="425.64" r="2.25" fill="#E24A33"/><circle cx="113.04" cy="410.46" r="2.25" fill="#E24A33"/><circle cx="131.58" cy="380.10" r="2.25" fill="#2E83B8"/><circle cx="107.63" cy="375.04" r="2.25" fill="#E24A33"/><circle cx="113.75" cy="405.40" r="2.25" fill="#E24A33"/><circle cx="118.41" cy="385.16" r="2.25" fill="#2E83B8"/><circle cx="108.85" cy="359.86" r="2.25" fill="#2E83B8"/><circle cx="115.59" cy="405.40" r="2.25" fill="#E24A33"/><circle cx="101.92" cy="440.82" r="2.25" fill="#E24A33"/><circle cx="105.19" cy="420.58" r="2.25" fill="#2E83B8"/><circle cx="181.44" cy="354.80" r="2.25" fill="#E24A33"/><circle cx="114.48" cy="324.44" r="2.25" fill="#2E83B8"/><circle cx="111.12" cy="420.58" r="2.25" fill="#E24A33"/><circle cx="108.90" cy="359.86" r="2.25" fill="#2E83B8"/><circle cx="159.97" cy="294.08" r="2.25" fill="#2E83B8"/><circle cx="105.19" cy="415.52" r="2.25" fill="#2E83B8"/><circle cx="126.15" cy="364.92" r="2.25" fill="#2E83B8"/><circle cx="140.16" cy="359.86" r="2.25" fill="#2E83B8"/><circle cx="110.86" cy="314.32" r="2.25" fill="#2E83B8"/><circle cx="227.45" cy="294.08" r="2.25" fill="#2E83B8"/><circle cx="109.52" cy="354.80" r="2.25" fill="#2E83B8"/><circle cx="116.04" cy="430.70" r="2.25" fill="#2E83B8"/><circle cx="118.11" cy="405.40" r="2.25" fill="#2E83B8"/><circle cx="110.45" cy="430.70" r="2.25" fill="#E24A33"/><circle cx="110.02" cy="385.16" r="2.25" fill="#E24A33"/><circle cx="125.40" cy="390.22" r="2.25" fill="#2E83B8"/><circle cx="106.73" cy="375.04" r="2.25" fill="#2E83B8"/><circle cx="181.96" cy="329.50" r="2.25" fill="#2E83B8"/><circle cx="102.27" cy="364.92" r="2.25" fill="#2E83B8"/><circle cx="129.69" cy="385.16" r="2.25" fill="#2E83B8"/><circle cx="113.70" cy="375.04" r="2.25" fill="#2E83B8"/><circle cx="212.08" cy="359.86" r="2.25" fill="#2E83B8"/><circle cx="132.90" cy="375.04" r="2.25" fill="#E24A33"/><circle cx="113.44" cy="334.56" r="2.25" fill="#2E83B8"/><circle cx="128.10" cy="304.20" r="2.25" fill="#2E83B8"/><circle cx="107.62" cy="375.04" r="2.25" fill="#2E83B8"/><circle cx="227.76" cy="309.26" r="2.25" fill="#2E83B8"/><circle cx="126.87" cy="334.56" r="2.25" fill="#2E83B8"/><circle cx="107.10" cy="405.40" r="2.25" fill="#2E83B8"/><circle cx="154.02" cy="375.04" r="2.25" fill="#2E83B8"/><circle cx="132.49" cy="354.80" r="2.25" fill="#2E83B8"/><circle cx="116.85" cy="415.52" r="2.25" fill="#2E83B8"/><circle cx="209.19" cy="319.38" r="2.25" fill="#2E83B8"/><circle cx="114.24" cy="400.34" r="2.25" fill="#2E83B8"/><circle cx="89.71" cy="450.94" r="2.25" fill="#E24A33"/><circle cx="120.99" cy="390.22" r="2.25" fill="#2E83B8"/><circle cx="101.63" cy="415.52" r="2.25" fill="#E24A33"/><circle cx="121.18" cy="314.32" r="2.25" fill="#2E83B8"/><circle cx="124.11" cy="405.40" r="2.25" fill="#2E83B8"/><circle cx="110.60" cy="410.46" r="2.25" fill="#2E83B8"/><circle cx="118.88" cy="395.28" r="2.25" fill="#E24A33"/><circle cx="131.02" cy="369.98" r="2.25" fill="#2E83B8"/><circle cx="172.67" cy="359.86" r="2.25" fill="#2E83B8"/><circle cx="132.50" cy="375.04" r="2.25" fill="#E24A33"/><circle cx="116.54" cy="329.50" r="2.25" fill="#2E83B8"/><circle cx="137.25" cy="380.10" r="2.25" fill="#E24A33"/><circle cx="125.03" cy="405.40" r="2.25" fill="#2E83B8"/><circle cx="143.37" cy="375.04" r="2.25" fill="#2E83B8"/><circle cx="231.38" cy="253.60" r="2.25" fill="#2E83B8"/><circle cx="93.96" cy="375.04" r="2.25" fill="#2E83B8"/><circle cx="111.59" cy="359.86" r="2.25" fill="#2E83B8"/><circle cx="143.26" cy="359.86" r="2.25" fill="#2E83B8"/><circle cx="105.01" cy="369.98" r="2.25" fill="#2E83B8"/><circle cx="102.96" cy="405.40" r="2.25" fill="#2E83B8"/><circle cx="115.55" cy="364.92" r="2.25" fill="#2E83B8"/><circle cx="89.68" cy="415.52" r="2.25" fill="#2E83B8"/><circle cx="148.88" cy="375.04" r="2.25" fill="#2E83B8"/><circle cx="123.36" cy="400.34" r="2.25" fill="#2E83B8"/><circle cx="101.27" cy="283.96" r="2.25" fill="#2E83B8"/><circle cx="128.41" cy="278.90" r="2.25" fill="#2E83B8"/><circle cx="223.64" cy="289.02" r="2.25" fill="#2E83B8"/><circle cx="204.34" cy="410.46" r="2.25" fill="#2E83B8"/><circle cx="115.79" cy="369.98" r="2.25" fill="#E24A33"/><circle cx="120.12" cy="369.98" r="2.25" fill="#2E83B8"/><circle cx="136.43" cy="405.40" r="2.25" fill="#2E83B8"/><circle cx="106.76" cy="390.22" r="2.25" fill="#E24A33"/><circle cx="116.54" cy="430.70" r="2.25" fill="#2E83B8"/><circle cx="116.28" cy="339.62" r="2.25" fill="#2E83B8"/><circle cx="134.35" cy="364.92" r="2.25" fill="#2E83B8"/><circle cx="107.25" cy="435.76" r="2.25" fill="#2E83B8"/><circle cx="134.26" cy="375.04" r="2.25" fill="#2E83B8"/><circle cx="100.15" cy="369.98" r="2.25" fill="#E24A33"/><circle cx="232.41" cy="273.84" r="2.25" fill="#2E83B8"/><circle cx="104.60" cy="395.28" r="2.25" fill="#2E83B8"/><circle cx="92.33" cy="364.92" r="2.25" fill="#E24A33"/><circle cx="105.55" cy="354.80" r="2.25" fill="#2E83B8"/><circle cx="101.00" cy="349.74" r="2.25" fill="#2E83B8"/><circle cx="105.20" cy="369.98" r="2.25" fill="#2E83B8"/><circle cx="102.54" cy="410.46" r="2.25" fill="#2E83B8"/><circle cx="105.49" cy="369.98" r="2.25" fill="#2E83B8"/><circle cx="130.36" cy="364.92" r="2.25" fill="#2E83B8"/><circle cx="125.78" cy="364.92" r="2.25" fill="#2E83B8"/><circle cx="115.51" cy="304.20" r="2.25" fill="#E24A33"/><circle cx="129.65" cy="369.98" r="2.25" fill="#2E83B8"/><circle cx="129.53" cy="420.58" r="2.25" fill="#2E83B8"/><circle cx="96.24" cy="456.00" r="2.25" fill="#E24A33"/><circle cx="105.64" cy="364.92" r="2.25" fill="#E24A33"/><circle cx="132.98" cy="380.10" r="2.25" fill="#2E83B8"/><circle cx="147.92" cy="375.04" r="2.25" fill="#2E83B8"/><circle cx="205.89" cy="334.56" r="2.25" fill="#2E83B8"/><circle cx="106.07" cy="385.16" r="2.25" fill="#E24A33"/><circle cx="133.47" cy="400.34" r="2.25" fill="#2E83B8"/><circle cx="123.17" cy="395.28" r="2.25" fill="#2E83B8"/><circle cx="176.07" cy="314.32" r="2.25" fill="#2E83B8"/><circle cx="118.59" cy="395.28" r="2.25" fill="#2E83B8"/><circle cx="126.35" cy="410.46" r="2.25" fill="#2E83B8"/><circle cx="125.95" cy="364.92" r="2.25" fill="#2E83B8"/><circle cx="98.16" cy="461.06" r="2.25" fill="#E24A33"/><circle cx="129.60" cy="410.46" r="2.25" fill="#E24A33"/><circle cx="94.35" cy="450.94" r="2.25" fill="#2E83B8"/><circle cx="104.76" cy="430.70" r="2.25" fill="#E24A33"/><circle cx="117.06" cy="334.56" r="2.25" fill="#2E83B8"/><circle cx="110.19" cy="390.22" r="2.25" fill="#2E83B8"/><circle cx="144.08" cy="289.02" r="2.25" fill="#2E83B8"/><circle cx="113.65" cy="400.34" r="2.25" fill="#2E83B8"/><circle cx="108.85" cy="385.16" r="2.25" fill="#2E83B8"/><circle cx="116.68" cy="380.10" r="2.25" fill="#E24A33"/><circle cx="137.18" cy="375.04" r="2.25" fill="#2E83B8"/><circle cx="87.13" cy="430.70" r="2.25" fill="#E24A33"/><circle cx="106.38" cy="390.22" r="2.25" fill="#E24A33"/><circle cx="109.61" cy="415.52" r="2.25" fill="#2E83B8"/><circle cx="102.60" cy="369.98" r="2.25" fill="#2E83B8"/><circle cx="102.40" cy="405.40" r="2.25" fill="#E24A33"/><circle cx="117.57" cy="395.28" r="2.25" fill="#E24A33"/><circle cx="115.14" cy="380.10" r="2.25" fill="#2E83B8"/><circle cx="150.70" cy="375.04" r="2.25" fill="#2E83B8"/><circle cx="126.79" cy="420.58" r="2.25" fill="#2E83B8"/><circle cx="105.28" cy="380.10" r="2.25" fill="#2E83B8"/><circle cx="120.76" cy="359.86" r="2.25" fill="#2E83B8"/><circle cx="99.15" cy="369.98" r="2.25" fill="#2E83B8"/><circle cx="111.92" cy="385.16" r="2.25" fill="#2E83B8"/><circle cx="107.20" cy="359.86" r="2.25" fill="#2E83B8"/><circle cx="120.44" cy="395.28" r="2.25" fill="#2E83B8"/><circle cx="101.06" cy="385.16" r="2.25" fill="#2E83B8"/><circle cx="130.21" cy="364.92" r="2.25" fill="#2E83B8"/><circle cx="100.84" cy="364.92" r="2.25" fill="#2E83B8"/><circle cx="102.85" cy="405.40" r="2.25" fill="#2E83B8"/><circle cx="124.23" cy="395.28" r="2.25" fill="#2E83B8"/><circle cx="101.70" cy="369.98" r="2.25" fill="#2E83B8"/><circle cx="185.57" cy="369.98" r="2.25" fill="#2E83B8"/><circle cx="129.09" cy="395.28" r="2.25" fill="#2E83B8"/><circle cx="119.58" cy="369.98" r="2.25" fill="#2E83B8"/><circle cx="113.96" cy="359.86" r="2.25" fill="#2E83B8"/><circle cx="123.19" cy="364.92" r="2.25" fill="#2E83B8"/><circle cx="117.14" cy="400.34" r="2.25" fill="#2E83B8"/><circle cx="117.91" cy="369.98" r="2.25" fill="#2E83B8"/><circle cx="96.00" cy="461.06" r="2.25" fill="#2E83B8"/><circle cx="96.93" cy="385.16" r="2.25" fill="#E24A33"/><circle cx="181.96" cy="344.68" r="2.25" fill="#2E83B8"/><circle cx="110.52" cy="395.28" r="2.25" fill="#2E83B8"/><circle cx="109.83" cy="435.76" r="2.25" fill="#2E83B8"/><circle cx="108.01" cy="364.92" r="2.25" fill="#2E83B8"/><circle cx="102.95" cy="354.80" r="2.25" fill="#2E83B8"/><circle cx="234.27" cy="273.84" r="2.25" fill="#2E83B8"/><circle cx="93.88" cy="364.92" r="2.25" fill="#2E83B8"/><circle cx="106.22" cy="339.62" r="2.25" fill="#2E83B8"/><circle cx="124.05" cy="380.10" r="2.25" fill="#2E83B8"/><circle cx="107.72" cy="400.34" r="2.25" fill="#2E83B8"/><circle cx="119.71" cy="375.04" r="2.25" fill="#2E83B8"/><circle cx="123.29" cy="385.16" r="2.25" fill="#2E83B8"/><circle cx="111.90" cy="294.08" r="2.25" fill="#2E83B8"/><circle cx="101.06" cy="405.40" r="2.25" fill="#2E83B8"/><circle cx="108.43" cy="415.52" r="2.25" fill="#2E83B8"/><circle cx="107.30" cy="375.04" r="2.25" fill="#2E83B8"/><circle cx="105.69" cy="369.98" r="2.25" fill="#2E83B8"/><circle cx="101.58" cy="319.38" r="2.25" fill="#2E83B8"/><circle cx="100.89" cy="380.10" r="2.25" fill="#2E83B8"/><circle cx="96.50" cy="456.00" r="2.25" fill="#2E83B8"/><circle cx="180.92" cy="309.26" r="2.25" fill="#2E83B8"/><circle cx="127.83" cy="410.46" r="2.25" fill="#2E83B8"/><circle cx="165.24" cy="273.84" r="2.25" fill="#2E83B8"/><circle cx="130.04" cy="354.80" r="2.25" fill="#2E83B8"/><circle cx="151.41" cy="380.10" r="2.25" fill="#2E83B8"/><circle cx="130.09" cy="410.46" r="2.25" fill="#2E83B8"/><circle cx="119.12" cy="410.46" r="2.25" fill="#2E83B8"/><circle cx="122.24" cy="415.52" r="2.25" fill="#2E83B8"/><circle cx="156.67" cy="339.62" r="2.25" fill="#2E83B8"/><circle cx="140.93" cy="375.04" r="2.25" fill="#2E83B8"/><circle cx="105.60" cy="385.16" r="2.25" fill="#2E83B8"/><circle cx="129.44" cy="390.22" r="2.25" fill="#2E83B8"/><circle cx="136.66" cy="369.98" r="2.25" fill="#2E83B8"/><circle cx="136.03" cy="375.04" r="2.25" fill="#2E83B8"/><circle cx="110.64" cy="369.98" r="2.25" fill="#2E83B8"/><circle cx="114.51" cy="354.80" r="2.25" fill="#2E83B8"/><circle cx="116.87" cy="354.80" r="2.25" fill="#2E83B8"/><circle cx="129.96" cy="375.04" r="2.25" fill="#2E83B8"/><circle cx="94.87" cy="299.14" r="2.25" fill="#2E83B8"/><circle cx="117.90" cy="390.22" r="2.25" fill="#2E83B8"/><circle cx="110.35" cy="339.62" r="2.25" fill="#2E83B8"/><circle cx="119.12" cy="258.66" r="2.25" fill="#2E83B8"/><circle cx="93.50" cy="466.12" r="2.25" fill="#E24A33"/><circle cx="142.74" cy="349.74" r="2.25" fill="#2E83B8"/><circle cx="98.48" cy="380.10" r="2.25" fill="#2E83B8"/><circle cx="137.72" cy="380.10" r="2.25" fill="#2E83B8"/><circle cx="96.98" cy="400.34" r="2.25" fill="#2E83B8"/><circle cx="149.19" cy="380.10" r="2.25" fill="#2E83B8"/><circle cx="155.64" cy="380.10" r="2.25" fill="#2E83B8"/><circle cx="110.35" cy="349.74" r="2.25" fill="#2E83B8"/><circle cx="110.86" cy="415.52" r="2.25" fill="#2E83B8"/><circle cx="123.28" cy="359.86" r="2.25" fill="#2E83B8"/><circle cx="171.64" cy="319.38" r="2.25" fill="#2E83B8"/><circle cx="112.25" cy="380.10" r="2.25" fill="#2E83B8"/><circle cx="144.02" cy="380.10" r="2.25" fill="#2E83B8"/><circle cx="229.83" cy="339.62" r="2.25" fill="#2E83B8"/><circle cx="97.24" cy="289.02" r="2.25" fill="#2E83B8"/><circle cx="233.65" cy="299.14" r="2.25" fill="#2E83B8"/><circle cx="127.38" cy="354.80" r="2.25" fill="#2E83B8"/><circle cx="125.35" cy="364.92" r="2.25" fill="#2E83B8"/><circle cx="124.28" cy="354.80" r="2.25" fill="#2E83B8"/><circle cx="110.10" cy="410.46" r="2.25" fill="#2E83B8"/><circle cx="134.60" cy="410.46" r="2.25" fill="#2E83B8"/><circle cx="120.57" cy="390.22" r="2.25" fill="#2E83B8"/><circle cx="98.32" cy="375.04" r="2.25" fill="#2E83B8"/><circle cx="128.21" cy="380.10" r="2.25" fill="#2E83B8"/><circle cx="158.22" cy="289.02" r="2.25" fill="#E24A33"/><circle cx="101.06" cy="410.46" r="2.25" fill="#2E83B8"/><circle cx="106.69" cy="390.22" r="2.25" fill="#2E83B8"/><circle cx="112.41" cy="435.76" r="2.25" fill="#2E83B8"/><circle cx="128.15" cy="405.40" r="2.25" fill="#2E83B8"/><circle cx="135.36" cy="364.92" r="2.25" fill="#2E83B8"/><circle cx="120.67" cy="364.92" r="2.25" fill="#2E83B8"/><circle cx="137.18" cy="299.14" r="2.25" fill="#2E83B8"/><circle cx="110.86" cy="319.38" r="2.25" fill="#2E83B8"/><circle cx="107.25" cy="344.68" r="2.25" fill="#2E83B8"/><circle cx="152.03" cy="324.44" r="2.25" fill="#2E83B8"/><circle cx="109.95" cy="400.34" r="2.25" fill="#2E83B8"/><circle cx="135.20" cy="375.04" r="2.25" fill="#2E83B8"/><circle cx="113.96" cy="410.46" r="2.25" fill="#2E83B8"/><circle cx="114.49" cy="405.40" r="2.25" fill="#2E83B8"/><circle cx="147.38" cy="369.98" r="2.25" fill="#2E83B8"/><circle cx="153.28" cy="380.10" r="2.25" fill="#2E83B8"/><circle cx="99.51" cy="390.22" r="2.25" fill="#2E83B8"/><circle cx="105.66" cy="410.46" r="2.25" fill="#2E83B8"/><circle cx="134.96" cy="380.10" r="2.25" fill="#2E83B8"/><circle cx="159.25" cy="339.62" r="2.25" fill="#2E83B8"/><circle cx="123.76" cy="420.58" r="2.25" fill="#2E83B8"/><circle cx="104.48" cy="395.28" r="2.25" fill="#2E83B8"/><circle cx="152.54" cy="369.98" r="2.25" fill="#2E83B8"/><circle cx="98.13" cy="354.80" r="2.25" fill="#2E83B8"/><circle cx="147.61" cy="375.04" r="2.25" fill="#2E83B8"/><circle cx="159.97" cy="289.02" r="2.25" fill="#E24A33"/><circle cx="153.58" cy="400.34" r="2.25" fill="#2E83B8"/><circle cx="156.67" cy="263.72" r="2.25" fill="#E24A33"/><circle cx="210.74" cy="304.20" r="2.25" fill="#2E83B8"/><circle cx="111.51" cy="390.22" r="2.25" fill="#2E83B8"/><circle cx="108.65" cy="395.28" r="2.25" fill="#2E83B8"/><circle cx="130.47" cy="309.26" r="2.25" fill="#2E83B8"/><circle cx="96.15" cy="375.04" r="2.25" fill="#2E83B8"/><circle cx="133.11" cy="405.40" r="2.25" fill="#2E83B8"/><circle cx="110.26" cy="364.92" r="2.25" fill="#2E83B8"/><circle cx="142.22" cy="400.34" r="2.25" fill="#E24A33"/><circle cx="164.41" cy="278.90" r="2.25" fill="#2E83B8"/><circle cx="163.38" cy="380.10" r="2.25" fill="#2E83B8"/><circle cx="208.16" cy="289.02" r="2.25" fill="#2E83B8"/><circle cx="154.09" cy="359.86" r="2.25" fill="#2E83B8"/><circle cx="122.85" cy="390.22" r="2.25" fill="#2E83B8"/><circle cx="96.93" cy="304.20" r="2.25" fill="#2E83B8"/><circle cx="124.28" cy="375.04" r="2.25" fill="#2E83B8"/><circle cx="86.50" cy="456.00" r="2.25" fill="#E24A33"/><circle cx="114.50" cy="380.10" r="2.25" fill="#2E83B8"/><circle cx="129.67" cy="359.86" r="2.25" fill="#2E83B8"/><circle cx="206.61" cy="400.34" r="2.25" fill="#2E83B8"/><circle cx="203.51" cy="339.62" r="2.25" fill="#2E83B8"/><circle cx="133.28" cy="380.10" r="2.25" fill="#2E83B8"/><circle cx="112.96" cy="395.28" r="2.25" fill="#2E83B8"/><circle cx="135.00" cy="380.10" r="2.25" fill="#2E83B8"/><circle cx="228.28" cy="329.50" r="2.25" fill="#2E83B8"/><circle cx="121.08" cy="385.16" r="2.25" fill="#2E83B8"/><circle cx="148.42" cy="395.28" r="2.25" fill="#2E83B8"/><circle cx="94.50" cy="456.00" r="2.25" fill="#E24A33"/><circle cx="182.47" cy="359.86" r="2.25" fill="#2E83B8"/><circle cx="109.86" cy="405.40" r="2.25" fill="#2E83B8"/><circle cx="129.49" cy="369.98" r="2.25" fill="#2E83B8"/><circle cx="101.58" cy="273.84" r="2.25" fill="#2E83B8"/><circle cx="94.35" cy="369.98" r="2.25" fill="#2E83B8"/><circle cx="109.68" cy="359.86" r="2.25" fill="#2E83B8"/><circle cx="132.12" cy="410.46" r="2.25" fill="#2E83B8"/><circle cx="87.64" cy="440.82" r="2.25" fill="#2E83B8"/><circle cx="117.39" cy="375.04" r="2.25" fill="#2E83B8"/><circle cx="108.36" cy="390.22" r="2.25" fill="#2E83B8"/><circle cx="112.52" cy="364.92" r="2.25" fill="#2E83B8"/><circle cx="98.48" cy="405.40" r="2.25" fill="#E24A33"/><circle cx="123.60" cy="410.46" r="2.25" fill="#2E83B8"/><circle cx="217.96" cy="263.72" r="2.25" fill="#2E83B8"/><circle cx="139.80" cy="380.10" r="2.25" fill="#2E83B8"/><circle cx="156.46" cy="375.04" r="2.25" fill="#2E83B8"/><circle cx="121.39" cy="258.66" r="2.25" fill="#2E83B8"/><circle cx="91.77" cy="364.92" r="2.25" fill="#2E83B8"/><circle cx="115.51" cy="415.52" r="2.25" fill="#2E83B8"/><circle cx="119.12" cy="400.34" r="2.25" fill="#2E83B8"/><circle cx="105.35" cy="354.80" r="2.25" fill="#2E83B8"/><circle cx="123.63" cy="405.40" r="2.25" fill="#2E83B8"/><circle cx="99.51" cy="278.90" r="2.25" fill="#2E83B8"/><circle cx="111.99" cy="359.86" r="2.25" fill="#2E83B8"/><circle cx="114.66" cy="400.34" r="2.25" fill="#2E83B8"/><circle cx="121.99" cy="369.98" r="2.25" fill="#2E83B8"/><circle cx="164.10" cy="289.02" r="2.25" fill="#2E83B8"/><circle cx="136.66" cy="329.50" r="2.25" fill="#2E83B8"/><circle cx="102.86" cy="415.52" r="2.25" fill="#2E83B8"/><circle cx="109.75" cy="385.16" r="2.25" fill="#2E83B8"/><circle cx="137.70" cy="364.92" r="2.25" fill="#2E83B8"/><circle cx="225.39" cy="329.50" r="2.25" fill="#E24A33"/><circle cx="114.48" cy="319.38" r="2.25" fill="#2E83B8"/><circle cx="110.86" cy="344.68" r="2.25" fill="#2E83B8"/><circle cx="211.25" cy="385.16" r="2.25" fill="#2E83B8"/><circle cx="113.96" cy="349.74" r="2.25" fill="#2E83B8"/><circle cx="114.88" cy="364.92" r="2.25" fill="#2E83B8"/><circle cx="152.20" cy="375.04" r="2.25" fill="#2E83B8"/><circle cx="119.20" cy="385.16" r="2.25" fill="#2E83B8"/><circle cx="108.59" cy="304.20" r="2.25" fill="#2E83B8"/><circle cx="157.19" cy="369.98" r="2.25" fill="#E24A33"/><circle cx="214.35" cy="304.20" r="2.25" fill="#2E83B8"/><circle cx="224.67" cy="278.90" r="2.25" fill="#2E83B8"/><circle cx="115.56" cy="369.98" r="2.25" fill="#2E83B8"/><circle cx="94.56" cy="359.86" r="2.25" fill="#2E83B8"/><circle cx="232.41" cy="339.62" r="2.25" fill="#2E83B8"/><circle cx="176.07" cy="299.14" r="2.25" fill="#2E83B8"/><circle cx="112.27" cy="400.34" r="2.25" fill="#2E83B8"/><circle cx="115.64" cy="395.28" r="2.25" fill="#2E83B8"/><circle cx="90.00" cy="461.06" r="2.25" fill="#2E83B8"/><circle cx="108.10" cy="385.16" r="2.25" fill="#2E83B8"/><circle cx="109.50" cy="354.80" r="2.25" fill="#2E83B8"/><circle cx="100.33" cy="354.80" r="2.25" fill="#2E83B8"/><circle cx="133.57" cy="289.02" r="2.25" fill="#2E83B8"/><circle cx="156.16" cy="390.22" r="2.25" fill="#2E83B8"/><circle cx="101.82" cy="395.28" r="2.25" fill="#2E83B8"/><circle cx="116.02" cy="445.88" r="2.25" fill="#2E83B8"/><circle cx="96.83" cy="364.92" r="2.25" fill="#2E83B8"/><circle cx="131.95" cy="385.16" r="2.25" fill="#2E83B8"/><circle cx="157.50" cy="344.68" r="2.25" fill="#2E83B8"/><circle cx="160.28" cy="349.74" r="2.25" fill="#2E83B8"/><circle cx="94.87" cy="395.28" r="2.25" fill="#2E83B8"/><circle cx="112.47" cy="405.40" r="2.25" fill="#2E83B8"/><circle cx="228.80" cy="359.86" r="2.25" fill="#2E83B8"/><circle cx="115.23" cy="375.04" r="2.25" fill="#2E83B8"/><circle cx="207.64" cy="339.62" r="2.25" fill="#2E83B8"/><circle cx="132.54" cy="359.86" r="2.25" fill="#2E83B8"/><circle cx="230.34" cy="334.56" r="2.25" fill="#2E83B8"/><circle cx="184.54" cy="349.74" r="2.25" fill="#2E83B8"/><circle cx="189.70" cy="339.62" r="2.25" fill="#2E83B8"/><circle cx="116.80" cy="405.40" r="2.25" fill="#2E83B8"/><circle cx="93.00" cy="461.06" r="2.25" fill="#E24A33"/><circle cx="103.22" cy="364.92" r="2.25" fill="#2E83B8"/><circle cx="146.77" cy="380.10" r="2.25" fill="#2E83B8"/><circle cx="109.83" cy="375.04" r="2.25" fill="#2E83B8"/><circle cx="92.29" cy="440.82" r="2.25" fill="#E24A33"/><circle cx="131.50" cy="369.98" r="2.25" fill="#2E83B8"/><circle cx="111.90" cy="273.84" r="2.25" fill="#2E83B8"/><circle cx="130.81" cy="380.10" r="2.25" fill="#2E83B8"/><circle cx="107.93" cy="410.46" r="2.25" fill="#2E83B8"/><circle cx="112.93" cy="375.04" r="2.25" fill="#2E83B8"/><circle cx="133.57" cy="400.34" r="2.25" fill="#2E83B8"/><circle cx="125.55" cy="385.16" r="2.25" fill="#2E83B8"/><circle cx="154.61" cy="324.44" r="2.25" fill="#2E83B8"/><circle cx="107.90" cy="369.98" r="2.25" fill="#2E83B8"/><circle cx="131.50" cy="395.28" r="2.25" fill="#2E83B8"/><circle cx="217.96" cy="304.20" r="2.25" fill="#2E83B8"/><circle cx="118.09" cy="319.38" r="2.25" fill="#2E83B8"/><circle cx="145.21" cy="375.04" r="2.25" fill="#2E83B8"/><circle cx="102.09" cy="359.86" r="2.25" fill="#2E83B8"/><circle cx="87.00" cy="461.06" r="2.25" fill="#E24A33"/><circle cx="161.63" cy="369.98" r="2.25" fill="#E24A33"/><circle cx="115.73" cy="390.22" r="2.25" fill="#2E83B8"/><circle cx="101.11" cy="400.34" r="2.25" fill="#2E83B8"/><circle cx="138.10" cy="375.04" r="2.25" fill="#2E83B8"/><circle cx="187.63" cy="309.26" r="2.25" fill="#2E83B8"/><circle cx="127.74" cy="385.16" r="2.25" fill="#2E83B8"/><circle cx="184.33" cy="283.96" r="2.25" fill="#2E83B8"/><circle cx="119.44" cy="380.10" r="2.25" fill="#2E83B8"/><circle cx="97.45" cy="359.86" r="2.25" fill="#E24A33"/><circle cx="130.05" cy="385.16" r="2.25" fill="#2E83B8"/><circle cx="204.75" cy="390.22" r="2.25" fill="#2E83B8"/><circle cx="120.01" cy="354.80" r="2.25" fill="#2E83B8"/><circle cx="131.56" cy="400.34" r="2.25" fill="#2E83B8"/><circle cx="116.83" cy="385.16" r="2.25" fill="#2E83B8"/><circle cx="132.70" cy="364.92" r="2.25" fill="#2E83B8"/><circle cx="124.89" cy="390.22" r="2.25" fill="#2E83B8"/><circle cx="132.54" cy="354.80" r="2.25" fill="#2E83B8"/><circle cx="206.81" cy="354.80" r="2.25" fill="#2E83B8"/><circle cx="121.87" cy="354.80" r="2.25" fill="#2E83B8"/><circle cx="93.84" cy="375.04" r="2.25" fill="#2E83B8"/><circle cx="160.59" cy="283.96" r="2.25" fill="#2E83B8"/><circle cx="86.10" cy="415.52" r="2.25" fill="#2E83B8"/><circle cx="112.62" cy="369.98" r="2.25" fill="#2E83B8"/><circle cx="93.32" cy="354.80" r="2.25" fill="#2E83B8"/><circle cx="127.83" cy="364.92" r="2.25" fill="#2E83B8"/><circle cx="126.18" cy="410.46" r="2.25" fill="#2E83B8"/><circle cx="158.74" cy="253.60" r="2.25" fill="#2E83B8"/><circle cx="230.86" cy="359.86" r="2.25" fill="#2E83B8"/><circle cx="113.30" cy="390.22" r="2.25" fill="#2E83B8"/><circle cx="230.86" cy="309.26" r="2.25" fill="#2E83B8"/><circle cx="158.74" cy="375.04" r="2.25" fill="#2E83B8"/><circle cx="101.58" cy="425.64" r="2.25" fill="#2E83B8"/><circle cx="103.94" cy="390.22" r="2.25" fill="#2E83B8"/><circle cx="129.44" cy="400.34" r="2.25" fill="#2E83B8"/><circle cx="127.83" cy="359.86" r="2.25" fill="#2E83B8"/><circle cx="119.47" cy="415.52" r="2.25" fill="#2E83B8"/><circle cx="118.09" cy="359.86" r="2.25" fill="#2E83B8"/><circle cx="142.12" cy="380.10" r="2.25" fill="#2E83B8"/><circle cx="156.88" cy="324.44" r="2.25" fill="#E24A33"/><circle cx="180.92" cy="299.14" r="2.25" fill="#2E83B8"/><circle cx="111.34" cy="410.46" r="2.25" fill="#2E83B8"/><circle cx="116.93" cy="380.10" r="2.25" fill="#2E83B8"/><circle cx="100.54" cy="415.52" r="2.25" fill="#2E83B8"/><circle cx="106.21" cy="395.28" r="2.25" fill="#2E83B8"/><circle cx="103.12" cy="385.16" r="2.25" fill="#2E83B8"/><circle cx="121.57" cy="405.40" r="2.25" fill="#2E83B8"/><circle cx="183.50" cy="273.84" r="2.25" fill="#2E83B8"/><circle cx="105.88" cy="400.34" r="2.25" fill="#2E83B8"/><circle cx="172.15" cy="380.10" r="2.25" fill="#2E83B8"/><circle cx="156.67" cy="400.34" r="2.25" fill="#2E83B8"/><circle cx="98.40" cy="400.34" r="2.25" fill="#2E83B8"/><circle cx="97.24" cy="263.72" r="2.25" fill="#2E83B8"/><circle cx="198.56" cy="309.26" r="2.25" fill="#2E83B8"/><circle cx="134.60" cy="385.16" r="2.25" fill="#2E83B8"/><circle cx="122.75" cy="395.28" r="2.25" fill="#2E83B8"/><circle cx="108.01" cy="380.10" r="2.25" fill="#2E83B8"/><circle cx="97.14" cy="395.28" r="2.25" fill="#2E83B8"/><circle cx="101.13" cy="375.04" r="2.25" fill="#2E83B8"/><circle cx="122.29" cy="375.04" r="2.25" fill="#2E83B8"/><circle cx="135.52" cy="369.98" r="2.25" fill="#2E83B8"/><circle cx="94.35" cy="400.34" r="2.25" fill="#2E83B8"/><circle cx="161.32" cy="299.14" r="2.25" fill="#2E83B8"/><circle cx="106.05" cy="415.52" r="2.25" fill="#2E83B8"/><circle cx="105.58" cy="364.92" r="2.25" fill="#2E83B8"/><circle cx="126.12" cy="380.10" r="2.25" fill="#2E83B8"/><circle cx="209.91" cy="354.80" r="2.25" fill="#2E83B8"/><circle cx="124.84" cy="369.98" r="2.25" fill="#2E83B8"/><circle cx="117.38" cy="395.28" r="2.25" fill="#2E83B8"/><circle cx="127.37" cy="395.28" r="2.25" fill="#2E83B8"/><circle cx="89.19" cy="415.52" r="2.25" fill="#2E83B8"/><circle cx="110.14" cy="380.10" r="2.25" fill="#2E83B8"/><circle cx="99.16" cy="395.28" r="2.25" fill="#2E83B8"/><circle cx="136.66" cy="400.34" r="2.25" fill="#E24A33"/><circle cx="227.45" cy="278.90" r="2.25" fill="#2E83B8"/><circle cx="134.97" cy="405.40" r="2.25" fill="#2E83B8"/><circle cx="103.38" cy="380.10" r="2.25" fill="#2E83B8"/><circle cx="185.57" cy="299.14" r="2.25" fill="#2E83B8"/><circle cx="104.13" cy="359.86" r="2.25" fill="#2E83B8"/><circle cx="121.39" cy="319.38" r="2.25" fill="#2E83B8"/><circle cx="126.34" cy="400.34" r="2.25" fill="#E24A33"/><circle cx="126.34" cy="299.14" r="2.25" fill="#2E83B8"/><circle cx="136.03" cy="364.92" r="2.25" fill="#2E83B8"/><circle cx="112.71" cy="354.80" r="2.25" fill="#2E83B8"/><circle cx="125.77" cy="405.40" r="2.25" fill="#2E83B8"/><circle cx="142.83" cy="375.04" r="2.25" fill="#2E83B8"/><circle cx="121.47" cy="380.10" r="2.25" fill="#2E83B8"/><circle cx="126.55" cy="375.04" r="2.25" fill="#E24A33"/><circle cx="127.00" cy="369.98" r="2.25" fill="#2E83B8"/><circle cx="101.67" cy="390.22" r="2.25" fill="#2E83B8"/><circle cx="137.18" cy="339.62" r="2.25" fill="#2E83B8"/><circle cx="99.06" cy="364.92" r="2.25" fill="#2E83B8"/><circle cx="137.70" cy="380.10" r="2.25" fill="#2E83B8"/><circle cx="122.73" cy="263.72" r="2.25" fill="#2E83B8"/><circle cx="89.40" cy="395.28" r="2.25" fill="#E24A33"/><circle cx="130.49" cy="405.40" r="2.25" fill="#2E83B8"/><circle cx="95.44" cy="354.80" r="2.25" fill="#2E83B8"/><circle cx="119.64" cy="385.16" r="2.25" fill="#E24A33"/><circle cx="89.71" cy="400.34" r="2.25" fill="#2E83B8"/><circle cx="107.17" cy="354.80" r="2.25" fill="#2E83B8"/><circle cx="137.70" cy="385.16" r="2.25" fill="#2E83B8"/><circle cx="95.18" cy="319.38" r="2.25" fill="#2E83B8"/><circle cx="103.59" cy="369.98" r="2.25" fill="#2E83B8"/><circle cx="117.31" cy="415.52" r="2.25" fill="#2E83B8"/><circle cx="119.05" cy="405.40" r="2.25" fill="#2E83B8"/><circle cx="131.50" cy="339.62" r="2.25" fill="#2E83B8"/><circle cx="152.34" cy="268.78" r="2.25" fill="#2E83B8"/><circle cx="149.16" cy="375.04" r="2.25" fill="#2E83B8"/><circle cx="103.09" cy="375.04" r="2.25" fill="#2E83B8"/><circle cx="116.02" cy="369.98" r="2.25" fill="#E24A33"/><circle cx="137.70" cy="390.22" r="2.25" fill="#2E83B8"/><circle cx="117.06" cy="294.08" r="2.25" fill="#E24A33"/><circle cx="137.18" cy="289.02" r="2.25" fill="#2E83B8"/><circle cx="159.25" cy="380.10" r="2.25" fill="#E24A33"/><circle cx="127.12" cy="390.22" r="2.25" fill="#2E83B8"/><circle cx="96.51" cy="369.98" r="2.25" fill="#2E83B8"/><circle cx="203.00" cy="344.68" r="2.25" fill="#2E83B8"/><circle cx="233.96" cy="349.74" r="2.25" fill="#2E83B8"/><circle cx="124.86" cy="359.86" r="2.25" fill="#2E83B8"/><circle cx="137.70" cy="375.04" r="2.25" fill="#2E83B8"/><circle cx="137.70" cy="405.40" r="2.25" fill="#2E83B8"/><circle cx="124.28" cy="415.52" r="2.25" fill="#2E83B8"/><circle cx="219.51" cy="329.50" r="2.25" fill="#2E83B8"/><circle cx="121.67" cy="410.46" r="2.25" fill="#2E83B8"/><circle cx="105.19" cy="425.64" r="2.25" fill="#2E83B8"/><circle cx="90.22" cy="435.76" r="2.25" fill="#E24A33"/><circle cx="105.35" cy="405.40" r="2.25" fill="#2E83B8"/><circle cx="151.00" cy="405.40" r="2.25" fill="#2E83B8"/><circle cx="108.21" cy="405.40" r="2.25" fill="#2E83B8"/><circle cx="154.36" cy="375.04" r="2.25" fill="#2E83B8"/><circle cx="98.69" cy="309.26" r="2.25" fill="#2E83B8"/><circle cx="114.48" cy="344.68" r="2.25" fill="#2E83B8"/><circle cx="112.93" cy="380.10" r="2.25" fill="#E24A33"/><circle cx="117.06" cy="364.92" r="2.25" fill="#2E83B8"/><circle cx="103.19" cy="410.46" r="2.25" fill="#2E83B8"/><circle cx="108.08" cy="283.96" r="2.25" fill="#2E83B8"/><circle cx="116.02" cy="410.46" r="2.25" fill="#E24A33"/><circle cx="105.10" cy="375.04" r="2.25" fill="#2E83B8"/><circle cx="114.23" cy="385.16" r="2.25" fill="#2E83B8"/><circle cx="112.41" cy="415.52" r="2.25" fill="#E24A33"/><circle cx="138.10" cy="369.98" r="2.25" fill="#2E83B8"/><circle cx="121.39" cy="278.90" r="2.25" fill="#2E83B8"/><circle cx="132.68" cy="375.04" r="2.25" fill="#2E83B8"/><circle cx="205.78" cy="299.14" r="2.25" fill="#2E83B8"/><circle cx="94.56" cy="344.68" r="2.25" fill="#2E83B8"/><circle cx="103.11" cy="400.34" r="2.25" fill="#2E83B8"/><circle cx="228.59" cy="263.72" r="2.25" fill="#E24A33"/><circle cx="124.28" cy="400.34" r="2.25" fill="#2E83B8"/><circle cx="233.44" cy="294.08" r="2.25" fill="#E24A33"/><circle cx="118.09" cy="344.68" r="2.25" fill="#2E83B8"/><circle cx="185.57" cy="400.34" r="2.25" fill="#2E83B8"/><circle cx="135.52" cy="405.40" r="2.25" fill="#2E83B8"/><circle cx="144.49" cy="294.08" r="2.25" fill="#E24A33"/><circle cx="189.49" cy="289.02" r="2.25" fill="#2E83B8"/><circle cx="120.15" cy="334.56" r="2.25" fill="#2E83B8"/><circle cx="155.43" cy="415.52" r="2.25" fill="#E24A33"/><circle cx="161.01" cy="263.72" r="2.25" fill="#2E83B8"/><circle cx="91.77" cy="420.58" r="2.25" fill="#2E83B8"/><circle cx="162.35" cy="283.96" r="2.25" fill="#2E83B8"/><circle cx="231.89" cy="314.32" r="2.25" fill="#2E83B8"/><circle cx="104.16" cy="309.26" r="2.25" fill="#2E83B8"/><circle cx="121.70" cy="344.68" r="2.25" fill="#2E83B8"/><circle cx="128.92" cy="314.32" r="2.25" fill="#2E83B8"/><circle cx="140.16" cy="339.62" r="2.25" fill="#2E83B8"/><circle cx="88.16" cy="380.10" r="2.25" fill="#2E83B8"/><circle cx="226.73" cy="354.80" r="2.25" fill="#2E83B8"/><circle cx="113.44" cy="289.02" r="2.25" fill="#2E83B8"/><circle cx="125.31" cy="344.68" r="2.25" fill="#2E83B8"/><circle cx="225.70" cy="324.44" r="2.25" fill="#2E83B8"/><circle cx="94.87" cy="349.74" r="2.25" fill="#2E83B8"/><circle cx="131.30" cy="304.20" r="2.25" fill="#E24A33"/><circle cx="99.50" cy="456.00" r="2.25" fill="#2E83B8"/><circle cx="135.52" cy="385.16" r="2.25" fill="#2E83B8"/><circle cx="137.18" cy="354.80" r="2.25" fill="#2E83B8"/><circle cx="230.34" cy="354.80" r="2.25" fill="#2E83B8"/><circle cx="178.55" cy="420.58" r="2.25" fill="#2E83B8"/><circle cx="86.50" cy="466.12" r="2.25" fill="#2E83B8"/><circle cx="169.06" cy="385.16" r="2.25" fill="#2E83B8"/><circle cx="97.96" cy="344.68" r="2.25" fill="#2E83B8"/><circle cx="183.50" cy="344.68" r="2.25" fill="#2E83B8"/><circle cx="151.51" cy="395.28" r="2.25" fill="#2E83B8"/><circle cx="87.13" cy="400.34" r="2.25" fill="#2E83B8"/><circle cx="232.41" cy="263.72" r="2.25" fill="#2E83B8"/><circle cx="186.29" cy="344.68" r="2.25" fill="#E24A33"/><circle cx="150.48" cy="304.20" r="2.25" fill="#2E83B8"/><circle cx="163.90" cy="359.86" r="2.25" fill="#2E83B8"/><circle cx="122.22" cy="400.34" r="2.25" fill="#E24A33"/><circle cx="107.25" cy="309.26" r="2.25" fill="#2E83B8"/><circle cx="163.07" cy="339.62" r="2.25" fill="#2E83B8"/><circle cx="194.22" cy="289.02" r="2.25" fill="#2E83B8"/><circle cx="166.48" cy="304.20" r="2.25" fill="#2E83B8"/><circle cx="144.29" cy="405.40" r="2.25" fill="#2E83B8"/><circle cx="96.93" cy="450.94" r="2.25" fill="#2E83B8"/><circle cx="140.16" cy="354.80" r="2.25" fill="#2E83B8"/><circle cx="229.31" cy="324.44" r="2.25" fill="#2E83B8"/><circle cx="95.38" cy="420.58" r="2.25" fill="#2E83B8"/><circle cx="100.75" cy="299.14" r="2.25" fill="#2E83B8"/><circle cx="156.67" cy="395.28" r="2.25" fill="#E24A33"/><circle cx="156.47" cy="420.58" r="2.25" fill="#2E83B8"/><circle cx="101.58" cy="294.08" r="2.25" fill="#2E83B8"/><circle cx="201.65" cy="263.72" r="2.25" fill="#2E83B8"/><circle cx="98.48" cy="430.70" r="2.25" fill="#E24A33"/><circle cx="227.76" cy="289.02" r="2.25" fill="#2E83B8"/><circle cx="154.61" cy="395.28" r="2.25" fill="#2E83B8"/><circle cx="185.36" cy="278.90" r="2.25" fill="#E24A33"/><circle cx="105.50" cy="294.08" r="2.25" fill="#2E83B8"/><circle cx="90.00" cy="466.12" r="2.25" fill="#2E83B8"/><circle cx="139.13" cy="364.92" r="2.25" fill="#2E83B8"/><circle cx="102.00" cy="456.00" r="2.25" fill="#2E83B8"/><circle cx="172.15" cy="385.16" r="2.25" fill="#2E83B8"/><circle cx="105.19" cy="329.50" r="2.25" fill="#2E83B8"/><circle cx="169.57" cy="390.22" r="2.25" fill="#2E83B8"/><circle cx="120.15" cy="329.50" r="2.25" fill="#2E83B8"/><circle cx="233.44" cy="354.80" r="2.25" fill="#2E83B8"/><circle cx="94.15" cy="334.56" r="2.25" fill="#2E83B8"/><circle cx="147.90" cy="329.50" r="2.25" fill="#2E83B8"/><circle cx="101.58" cy="344.68" r="2.25" fill="#2E83B8"/><circle cx="165.96" cy="395.28" r="2.25" fill="#2E83B8"/><circle cx="139.13" cy="385.16" r="2.25" fill="#2E83B8"/><circle cx="206.61" cy="309.26" r="2.25" fill="#2E83B8"/><circle cx="231.89" cy="324.44" r="2.25" fill="#2E83B8"/><circle cx="104.67" cy="263.72" r="2.25" fill="#2E83B8"/><circle cx="205.78" cy="263.72" r="2.25" fill="#2E83B8"/><circle cx="111.07" cy="309.26" r="2.25" fill="#E24A33"/><circle cx="198.87" cy="289.02" r="2.25" fill="#2E83B8"/><circle cx="97.96" cy="420.58" r="2.25" fill="#2E83B8"/><circle cx="147.38" cy="415.52" r="2.25" fill="#E24A33"/><circle cx="101.06" cy="430.70" r="2.25" fill="#2E83B8"/><circle cx="159.77" cy="395.28" r="2.25" fill="#2E83B8"/><circle cx="116.02" cy="430.70" r="2.25" fill="#2E83B8"/><circle cx="89.19" cy="405.40" r="2.25" fill="#2E83B8"/><circle cx="158.53" cy="278.90" r="2.25" fill="#2E83B8"/><circle cx="121.18" cy="425.64" r="2.25" fill="#2E83B8"/><circle cx="145.32" cy="349.74" r="2.25" fill="#2E83B8"/><circle cx="139.13" cy="309.26" r="2.25" fill="#E24A33"/><circle cx="95.38" cy="430.70" r="2.25" fill="#2E83B8"/><circle cx="137.18" cy="410.46" r="2.25" fill="#E24A33"/><circle cx="162.35" cy="329.50" r="2.25" fill="#2E83B8"/><circle cx="100.03" cy="450.94" r="2.25" fill="#E24A33"/><circle cx="124.28" cy="425.64" r="2.25" fill="#E24A33"/><circle cx="117.06" cy="273.84" r="2.25" fill="#E24A33"/><circle cx="107.25" cy="329.50" r="2.25" fill="#2E83B8"/><circle cx="151.51" cy="329.50" r="2.25" fill="#2E83B8"/><circle cx="225.70" cy="258.66" r="2.25" fill="#2E83B8"/><circle cx="94.87" cy="425.64" r="2.25" fill="#E24A33"/><circle cx="123.76" cy="329.50" r="2.25" fill="#2E83B8"/><circle cx="95.38" cy="405.40" r="2.25" fill="#E24A33"/><circle cx="144.29" cy="354.80" r="2.25" fill="#2E83B8"/><circle cx="137.70" cy="258.66" r="2.25" fill="#2E83B8"/><circle cx="211.77" cy="339.62" r="2.25" fill="#2E83B8"/><circle cx="183.50" cy="354.80" r="2.25" fill="#2E83B8"/><circle cx="154.81" cy="329.50" r="2.25" fill="#2E83B8"/><circle cx="100.75" cy="334.56" r="2.25" fill="#E24A33"/><circle cx="135.43" cy="273.84" r="2.25" fill="#2E83B8"/><circle cx="94.56" cy="380.10" r="2.25" fill="#E24A33"/><circle cx="158.74" cy="334.56" r="2.25" fill="#2E83B8"/><circle cx="154.09" cy="405.40" r="2.25" fill="#2E83B8"/><circle cx="98.48" cy="349.74" r="2.25" fill="#2E83B8"/><circle cx="104.16" cy="430.70" r="2.25" fill="#2E83B8"/><circle cx="141.19" cy="410.46" r="2.25" fill="#2E83B8"/><circle cx="171.12" cy="390.22" r="2.25" fill="#2E83B8"/><circle cx="105.19" cy="324.44" r="2.25" fill="#2E83B8"/><circle cx="120.67" cy="273.84" r="2.25" fill="#2E83B8"/><circle cx="171.84" cy="410.46" r="2.25" fill="#2E83B8"/><circle cx="103.64" cy="334.56" r="2.25" fill="#2E83B8"/><circle cx="144.29" cy="410.46" r="2.25" fill="#2E83B8"/><circle cx="102.61" cy="450.94" r="2.25" fill="#2E83B8"/><circle cx="142.74" cy="385.16" r="2.25" fill="#2E83B8"/><circle cx="113.44" cy="309.26" r="2.25" fill="#2E83B8"/><circle cx="144.80" cy="415.52" r="2.25" fill="#2E83B8"/><circle cx="147.59" cy="410.46" r="2.25" fill="#2E83B8"/><circle cx="101.06" cy="420.58" r="2.25" fill="#E24A33"/><circle cx="183.50" cy="390.22" r="2.25" fill="#2E83B8"/><circle cx="113.24" cy="283.96" r="2.25" fill="#2E83B8"/><circle cx="182.27" cy="304.20" r="2.25" fill="#2E83B8"/><circle cx="170.91" cy="289.02" r="2.25" fill="#2E83B8"/><circle cx="108.28" cy="425.64" r="2.25" fill="#2E83B8"/><circle cx="186.08" cy="354.80" r="2.25" fill="#2E83B8"/><circle cx="163.69" cy="253.60" r="2.25" fill="#2E83B8"/><circle cx="101.58" cy="445.88" r="2.25" fill="#2E83B8"/><circle cx="156.67" cy="405.40" r="2.25" fill="#2E83B8"/><circle cx="86.61" cy="405.40" r="2.25" fill="#E24A33"/><circle cx="119.12" cy="430.70" r="2.25" fill="#2E83B8"/><circle cx="94.87" cy="339.62" r="2.25" fill="#2E83B8"/><circle cx="116.54" cy="283.96" r="2.25" fill="#2E83B8"/><circle cx="141.19" cy="324.44" r="2.25" fill="#2E83B8"/><circle cx="127.38" cy="425.64" r="2.25" fill="#2E83B8"/><circle cx="113.96" cy="339.62" r="2.25" fill="#2E83B8"/><circle cx="96.21" cy="258.66" r="2.25" fill="#2E83B8"/><circle cx="185.05" cy="390.22" r="2.25" fill="#E24A33"/><circle cx="216.41" cy="344.68" r="2.25" fill="#2E83B8"/><circle cx="153.58" cy="364.92" r="2.25" fill="#2E83B8"/><circle cx="97.45" cy="334.56" r="2.25" fill="#2E83B8"/><circle cx="181.96" cy="324.44" r="2.25" fill="#2E83B8"/><circle cx="117.06" cy="309.26" r="2.25" fill="#2E83B8"/><circle cx="146.35" cy="385.16" r="2.25" fill="#2E83B8"/><circle cx="179.58" cy="289.02" r="2.25" fill="#2E83B8"/><circle cx="127.58" cy="273.84" r="2.25" fill="#2E83B8"/><circle cx="147.18" cy="420.58" r="2.25" fill="#2E83B8"/><circle cx="146.87" cy="364.92" r="2.25" fill="#2E83B8"/><circle cx="101.58" cy="349.74" r="2.25" fill="#2E83B8"/><circle cx="185.05" cy="364.92" r="2.25" fill="#2E83B8"/><circle cx="160.28" cy="304.20" r="2.25" fill="#2E83B8"/><circle cx="219.51" cy="344.68" r="2.25" fill="#2E83B8"/><circle cx="119.12" cy="253.60" r="2.25" fill="#2E83B8"/><circle cx="231.89" cy="278.90" r="2.25" fill="#2E83B8"/><circle cx="107.25" cy="430.70" r="2.25" fill="#2E83B8"/><circle cx="221.57" cy="319.38" r="2.25" fill="#2E83B8"/><circle cx="106.74" cy="334.56" r="2.25" fill="#2E83B8"/><circle cx="220.54" cy="334.56" r="2.25" fill="#2E83B8"/><circle cx="142.43" cy="314.32" r="2.25" fill="#2E83B8"/><circle cx="127.38" cy="329.50" r="2.25" fill="#2E83B8"/><circle cx="105.19" cy="319.38" r="2.25" fill="#2E83B8"/><circle cx="219.30" cy="354.80" r="2.25" fill="#2E83B8"/><circle cx="182.47" cy="334.56" r="2.25" fill="#2E83B8"/><circle cx="120.98" cy="253.60" r="2.25" fill="#2E83B8"/><circle cx="94.35" cy="435.76" r="2.25" fill="#2E83B8"/><circle cx="116.85" cy="268.78" r="2.25" fill="#2E83B8"/><circle cx="126.86" cy="420.58" r="2.25" fill="#2E83B8"/><circle cx="98.48" cy="339.62" r="2.25" fill="#2E83B8"/><circle cx="187.84" cy="304.20" r="2.25" fill="#2E83B8"/><circle cx="97.45" cy="299.14" r="2.25" fill="#E24A33"/><circle cx="203.51" cy="283.96" r="2.25" fill="#2E83B8"/><circle cx="188.15" cy="299.14" r="2.25" fill="#2E83B8"/><circle cx="111.38" cy="425.64" r="2.25" fill="#2E83B8"/><circle cx="117.06" cy="299.14" r="2.25" fill="#2E83B8"/><circle cx="117.06" cy="339.62" r="2.25" fill="#2E83B8"/><circle cx="104.67" cy="349.74" r="2.25" fill="#2E83B8"/><circle cx="105.19" cy="450.94" r="2.25" fill="#2E83B8"/><circle cx="99.31" cy="258.66" r="2.25" fill="#2E83B8"/><circle cx="86.92" cy="410.46" r="2.25" fill="#E24A33"/><circle cx="154.61" cy="410.46" r="2.25" fill="#2E83B8"/><circle cx="162.35" cy="400.34" r="2.25" fill="#2E83B8"/><circle cx="120.67" cy="309.26" r="2.25" fill="#2E83B8"/><circle cx="217.44" cy="283.96" r="2.25" fill="#2E83B8"/><circle cx="130.47" cy="329.50" r="2.25" fill="#2E83B8"/><circle cx="165.44" cy="400.34" r="2.25" fill="#2E83B8"/><circle cx="122.73" cy="430.70" r="2.25" fill="#E24A33"/><circle cx="104.67" cy="445.88" r="2.25" fill="#2E83B8"/><circle cx="121.18" cy="283.96" r="2.25" fill="#2E83B8"/><circle cx="123.76" cy="334.56" r="2.25" fill="#2E83B8"/><circle cx="131.30" cy="268.78" r="2.25" fill="#2E83B8"/><circle cx="96.21" cy="314.32" r="2.25" fill="#2E83B8"/><circle cx="207.64" cy="294.08" r="2.25" fill="#2E83B8"/><circle cx="145.32" cy="324.44" r="2.25" fill="#2E83B8"/><circle cx="119.95" cy="339.62" r="2.25" fill="#E24A33"/><circle cx="222.60" cy="344.68" r="2.25" fill="#2E83B8"/><circle cx="163.38" cy="304.20" r="2.25" fill="#E24A33"/><circle cx="168.54" cy="364.92" r="2.25" fill="#2E83B8"/><circle cx="191.13" cy="304.20" r="2.25" fill="#2E83B8"/><circle cx="122.22" cy="294.08" r="2.25" fill="#2E83B8"/><circle cx="135.52" cy="390.22" r="2.25" fill="#2E83B8"/><circle cx="148.42" cy="400.34" r="2.25" fill="#2E83B8"/><circle cx="156.67" cy="364.92" r="2.25" fill="#2E83B8"/><circle cx="156.67" cy="410.46" r="2.25" fill="#2E83B8"/><circle cx="121.18" cy="299.14" r="2.25" fill="#2E83B8"/><circle cx="148.42" cy="349.74" r="2.25" fill="#2E83B8"/><circle cx="109.83" cy="430.70" r="2.25" fill="#2E83B8"/><circle cx="193.40" cy="278.90" r="2.25" fill="#2E83B8"/><circle cx="97.45" cy="435.76" r="2.25" fill="#2E83B8"/><circle cx="114.99" cy="435.76" r="2.25" fill="#2E83B8"/><circle cx="117.57" cy="349.74" r="2.25" fill="#2E83B8"/><circle cx="95.90" cy="440.82" r="2.25" fill="#E24A33"/><circle cx="126.86" cy="430.70" r="2.25" fill="#2E83B8"/><circle cx="172.67" cy="364.92" r="2.25" fill="#2E83B8"/><circle cx="203.51" cy="349.74" r="2.25" fill="#2E83B8"/><circle cx="226.22" cy="344.68" r="2.25" fill="#2E83B8"/><circle cx="215.90" cy="339.62" r="2.25" fill="#2E83B8"/><circle cx="148.93" cy="324.44" r="2.25" fill="#E24A33"/><circle cx="118.09" cy="435.76" r="2.25" fill="#2E83B8"/><circle cx="208.16" cy="349.74" r="2.25" fill="#2E83B8"/><circle cx="129.96" cy="420.58" r="2.25" fill="#2E83B8"/><circle cx="99.00" cy="440.82" r="2.25" fill="#2E83B8"/><circle cx="114.48" cy="425.64" r="2.25" fill="#2E83B8"/><circle cx="126.34" cy="334.56" r="2.25" fill="#2E83B8"/><circle cx="208.88" cy="329.50" r="2.25" fill="#2E83B8"/><circle cx="108.28" cy="445.88" r="2.25" fill="#2E83B8"/><circle cx="151.00" cy="349.74" r="2.25" fill="#2E83B8"/><circle cx="186.08" cy="319.38" r="2.25" fill="#2E83B8"/><circle cx="221.06" cy="314.32" r="2.25" fill="#2E83B8"/><circle cx="229.83" cy="283.96" r="2.25" fill="#2E83B8"/><circle cx="208.16" cy="324.44" r="2.25" fill="#2E83B8"/><circle cx="112.93" cy="430.70" r="2.25" fill="#E24A33"/><circle cx="118.09" cy="425.64" r="2.25" fill="#E24A33"/><circle cx="185.77" cy="258.66" r="2.25" fill="#2E83B8"/><circle cx="120.67" cy="349.74" r="2.25" fill="#2E83B8"/><circle cx="124.80" cy="283.96" r="2.25" fill="#2E83B8"/><circle cx="184.33" cy="329.50" r="2.25" fill="#2E83B8"/><circle cx="161.32" cy="364.92" r="2.25" fill="#2E83B8"/><circle cx="129.96" cy="415.52" r="2.25" fill="#2E83B8"/><circle cx="221.57" cy="304.20" r="2.25" fill="#2E83B8"/><circle cx="169.06" cy="400.34" r="2.25" fill="#2E83B8"/><circle cx="153.06" cy="385.16" r="2.25" fill="#2E83B8"/><circle cx="94.56" cy="273.84" r="2.25" fill="#2E83B8"/><circle cx="110.86" cy="445.88" r="2.25" fill="#E24A33"/><circle cx="163.90" cy="354.80" r="2.25" fill="#2E83B8"/><circle cx="210.53" cy="294.08" r="2.25" fill="#2E83B8"/><circle cx="229.31" cy="344.68" r="2.25" fill="#2E83B8"/><circle cx="139.13" cy="390.22" r="2.25" fill="#2E83B8"/><circle cx="197.32" cy="314.32" r="2.25" fill="#2E83B8"/><circle cx="118.91" cy="278.90" r="2.25" fill="#E24A33"/><circle cx="181.96" cy="294.08" r="2.25" fill="#2E83B8"/><circle cx="212.28" cy="294.08" r="2.25" fill="#2E83B8"/><circle cx="92.29" cy="415.52" r="2.25" fill="#2E83B8"/><circle cx="99.31" cy="314.32" r="2.25" fill="#E24A33"/><circle cx="132.02" cy="283.96" r="2.25" fill="#2E83B8"/><circle cx="102.09" cy="440.82" r="2.25" fill="#2E83B8"/><circle cx="100.54" cy="435.76" r="2.25" fill="#2E83B8"/><circle cx="106.22" cy="278.90" r="2.25" fill="#2E83B8"/><circle cx="225.18" cy="304.20" r="2.25" fill="#2E83B8"/><circle cx="97.96" cy="273.84" r="2.25" fill="#E24A33"/><circle cx="186.60" cy="294.08" r="2.25" fill="#2E83B8"/><circle cx="97.96" cy="410.46" r="2.25" fill="#E24A33"/><circle cx="156.67" cy="359.86" r="2.25" fill="#2E83B8"/><circle cx="99.00" cy="329.50" r="2.25" fill="#2E83B8"/><circle cx="108.28" cy="420.58" r="2.25" fill="#2E83B8"/><circle cx="142.22" cy="390.22" r="2.25" fill="#2E83B8"/><circle cx="124.28" cy="349.74" r="2.25" fill="#2E83B8"/><circle cx="210.74" cy="314.32" r="2.25" fill="#2E83B8"/><circle cx="167.82" cy="405.40" r="2.25" fill="#2E83B8"/><circle cx="212.28" cy="319.38" r="2.25" fill="#2E83B8"/><circle cx="99.00" cy="461.06" r="2.25" fill="#2E83B8"/><circle cx="127.38" cy="349.74" r="2.25" fill="#2E83B8"/><circle cx="103.64" cy="304.20" r="2.25" fill="#2E83B8"/><circle cx="212.28" cy="349.74" r="2.25" fill="#2E83B8"/><circle cx="133.05" cy="420.58" r="2.25" fill="#2E83B8"/><circle cx="96.93" cy="390.22" r="2.25" fill="#E24A33"/><circle cx="164.41" cy="309.26" r="2.25" fill="#2E83B8"/><circle cx="128.41" cy="344.68" r="2.25" fill="#2E83B8"/><circle cx="118.09" cy="324.44" r="2.25" fill="#2E83B8"/><circle cx="111.38" cy="420.58" r="2.25" fill="#2E83B8"/><circle cx="100.03" cy="304.20" r="2.25" fill="#E24A33"/><circle cx="211.25" cy="324.44" r="2.25" fill="#2E83B8"/><circle cx="145.32" cy="390.22" r="2.25" fill="#E24A33"/><circle cx="129.44" cy="334.56" r="2.25" fill="#2E83B8"/><circle cx="155.64" cy="385.16" r="2.25" fill="#2E83B8"/><circle cx="136.66" cy="420.58" r="2.25" fill="#2E83B8"/><circle cx="214.86" cy="324.44" r="2.25" fill="#2E83B8"/><circle cx="103.64" cy="435.76" r="2.25" fill="#E24A33"/><circle cx="132.54" cy="415.52" r="2.25" fill="#2E83B8"/><circle cx="131.50" cy="344.68" r="2.25" fill="#2E83B8"/><circle cx="93.84" cy="390.22" r="2.25" fill="#2E83B8"/><circle cx="130.47" cy="349.74" r="2.25" fill="#2E83B8"/><circle cx="101.80" cy="461.06" r="2.25" fill="#2E83B8"/><circle cx="96.93" cy="415.52" r="2.25" fill="#E24A33"/><circle cx="231.89" cy="344.68" r="2.25" fill="#2E83B8"/><circle cx="105.19" cy="440.82" r="2.25" fill="#2E83B8"/><circle cx="199.38" cy="314.32" r="2.25" fill="#2E83B8"/><circle cx="212.80" cy="314.32" r="2.25" fill="#2E83B8"/><circle cx="110.04" cy="278.90" r="2.25" fill="#2E83B8"/><circle cx="94.35" cy="410.46" r="2.25" fill="#2E83B8"/><circle cx="229.31" cy="304.20" r="2.25" fill="#2E83B8"/><circle cx="217.96" cy="324.44" r="2.25" fill="#2E83B8"/><circle cx="114.48" cy="420.58" r="2.25" fill="#2E83B8"/><circle cx="121.18" cy="324.44" r="2.25" fill="#2E83B8"/><circle cx="171.43" cy="405.40" r="2.25" fill="#2E83B8"/><circle cx="232.41" cy="304.20" r="2.25" fill="#2E83B8"/><circle cx="133.57" cy="349.74" r="2.25" fill="#2E83B8"/><circle cx="134.60" cy="344.68" r="2.25" fill="#2E83B8"/><circle cx="137.18" cy="344.68" r="2.25" fill="#2E83B8"/><circle cx="118.09" cy="420.58" r="2.25" fill="#2E83B8"/><circle cx="109.32" cy="440.82" r="2.25" fill="#E24A33"/><circle cx="123.76" cy="324.44" r="2.25" fill="#2E83B8"/><circle cx="234.47" cy="304.20" r="2.25" fill="#2E83B8"/><circle cx="135.00" cy="349.74" r="2.25" fill="#2E83B8"/></g>
<g stroke="#ffffff" stroke-width="0.55"><circle cx="373.64" cy="166.45" r="2.25" fill="#2E83B8"/><circle cx="380.50" cy="206.51" r="2.25" fill="#E24A33"/><circle cx="325.59" cy="211.27" r="2.25" fill="#E24A33"/><circle cx="373.64" cy="203.84" r="2.25" fill="#E24A33"/><circle cx="332.45" cy="206.57" r="2.25" fill="#E24A33"/><circle cx="390.80" cy="158.42" r="2.25" fill="#E24A33"/><circle cx="366.77" cy="200.13" r="2.25" fill="#2E83B8"/><circle cx="380.50" cy="203.00" r="2.25" fill="#2E83B8"/><circle cx="421.68" cy="18.06" r="2.25" fill="#2E83B8"/><circle cx="373.64" cy="196.44" r="2.25" fill="#E24A33"/><circle cx="397.66" cy="184.74" r="2.25" fill="#2E83B8"/><circle cx="366.77" cy="181.25" r="2.25" fill="#2E83B8"/><circle cx="346.18" cy="140.78" r="2.25" fill="#2E83B8"/><circle cx="380.50" cy="151.39" r="2.25" fill="#2E83B8"/><circle cx="387.36" cy="101.34" r="2.25" fill="#2E83B8"/><circle cx="366.77" cy="207.74" r="2.25" fill="#E24A33"/><circle cx="370.20" cy="204.77" r="2.25" fill="#2E83B8"/><circle cx="411.39" cy="201.71" r="2.25" fill="#2E83B8"/><circle cx="356.48" cy="181.74" r="2.25" fill="#2E83B8"/><circle cx="363.34" cy="205.11" r="2.25" fill="#E24A33"/><circle cx="356.48" cy="222.48" r="2.25" fill="#E24A33"/><circle cx="366.77" cy="161.24" r="2.25" fill="#2E83B8"/><circle cx="383.93" cy="183.21" r="2.25" fill="#2E83B8"/><circle cx="390.80" cy="172.67" r="2.25" fill="#2E83B8"/><circle cx="377.07" cy="181.29" r="2.25" fill="#2E83B8"/><circle cx="421.68" cy="122.02" r="2.25" fill="#2E83B8"/><circle cx="332.45" cy="225.24" r="2.25" fill="#2E83B8"/><circle cx="380.50" cy="176.01" r="2.25" fill="#E24A33"/><circle cx="383.93" cy="197.52" r="2.25" fill="#2E83B8"/><circle cx="353.04" cy="209.99" r="2.25" fill="#E24A33"/><circle cx="404.52" cy="162.96" r="2.25" fill="#2E83B8"/><circle cx="390.80" cy="160.23" r="2.25" fill="#E24A33"/><circle cx="380.50" cy="134.37" r="2.25" fill="#2E83B8"/><circle cx="414.82" cy="188.32" r="2.25" fill="#2E83B8"/><circle cx="411.39" cy="149.34" r="2.25" fill="#2E83B8"/><circle cx="325.59" cy="217.55" r="2.25" fill="#2E83B8"/><circle cx="387.36" cy="192.74" r="2.25" fill="#2E83B8"/><circle cx="359.91" cy="199.13" r="2.25" fill="#2E83B8"/><circle cx="380.50" cy="177.35" r="2.25" fill="#E24A33"/><circle cx="325.59" cy="221.47" r="2.25" fill="#E24A33"/><circle cx="370.20" cy="179.87" r="2.25" fill="#2E83B8"/><circle cx="383.93" cy="174.44" r="2.25" fill="#E24A33"/><circle cx="370.20" cy="198.67" r="2.25" fill="#2E83B8"/><circle cx="377.07" cy="204.19" r="2.25" fill="#2E83B8"/><circle cx="356.48" cy="181.86" r="2.25" fill="#2E83B8"/><circle cx="359.91" cy="163.49" r="2.25" fill="#2E83B8"/><circle cx="449.14" cy="50.55" r="2.25" fill="#2E83B8"/><circle cx="339.32" cy="208.39" r="2.25" fill="#2E83B8"/><circle cx="438.84" cy="148.60" r="2.25" fill="#2E83B8"/><circle cx="383.93" cy="159.95" r="2.25" fill="#2E83B8"/><circle cx="380.50" cy="136.07" r="2.25" fill="#2E83B8"/><circle cx="359.91" cy="163.71" r="2.25" fill="#2E83B8"/><circle cx="418.25" cy="186.10" r="2.25" fill="#2E83B8"/><circle cx="421.68" cy="92.92" r="2.25" fill="#E24A33"/><circle cx="370.20" cy="210.57" r="2.25" fill="#2E83B8"/><circle cx="370.20" cy="196.78" r="2.25" fill="#2E83B8"/><circle cx="442.28" cy="41.25" r="2.25" fill="#2E83B8"/><circle cx="377.07" cy="169.39" r="2.25" fill="#2E83B8"/><circle cx="390.80" cy="89.53" r="2.25" fill="#2E83B8"/><circle cx="377.07" cy="186.93" r="2.25" fill="#2E83B8"/><circle cx="397.66" cy="188.06" r="2.25" fill="#2E83B8"/><circle cx="397.66" cy="177.44" r="2.25" fill="#2E83B8"/><circle cx="394.23" cy="202.75" r="2.25" fill="#2E83B8"/><circle cx="359.91" cy="191.64" r="2.25" fill="#2E83B8"/><circle cx="370.20" cy="180.31" r="2.25" fill="#2E83B8"/><circle cx="363.34" cy="190.88" r="2.25" fill="#2E83B8"/><circle cx="394.23" cy="194.08" r="2.25" fill="#2E83B8"/><circle cx="394.23" cy="200.24" r="2.25" fill="#2E83B8"/><circle cx="377.07" cy="169.01" r="2.25" fill="#2E83B8"/><circle cx="373.64" cy="151.41" r="2.25" fill="#2E83B8"/><circle cx="380.50" cy="203.42" r="2.25" fill="#2E83B8"/><circle cx="394.23" cy="194.16" r="2.25" fill="#2E83B8"/><circle cx="342.75" cy="210.06" r="2.25" fill="#E24A33"/><circle cx="373.64" cy="197.15" r="2.25" fill="#E24A33"/><circle cx="387.36" cy="187.31" r="2.25" fill="#2E83B8"/><circle cx="346.18" cy="201.41" r="2.25" fill="#E24A33"/><circle cx="428.55" cy="120.54" r="2.25" fill="#2E83B8"/><circle cx="366.77" cy="185.99" r="2.25" fill="#2E83B8"/><circle cx="380.50" cy="154.43" r="2.25" fill="#2E83B8"/><circle cx="342.75" cy="192.99" r="2.25" fill="#2E83B8"/><circle cx="414.82" cy="89.53" r="2.25" fill="#2E83B8"/><circle cx="387.36" cy="164.75" r="2.25" fill="#2E83B8"/><circle cx="363.34" cy="189.54" r="2.25" fill="#2E83B8"/><circle cx="383.93" cy="144.75" r="2.25" fill="#2E83B8"/><circle cx="373.64" cy="176.65" r="2.25" fill="#2E83B8"/><circle cx="394.23" cy="170.48" r="2.25" fill="#2E83B8"/><circle cx="390.80" cy="156.93" r="2.25" fill="#2E83B8"/><circle cx="377.07" cy="174.44" r="2.25" fill="#2E83B8"/><circle cx="390.80" cy="195.72" r="2.25" fill="#E24A33"/><circle cx="363.34" cy="203.38" r="2.25" fill="#E24A33"/><circle cx="418.25" cy="176.40" r="2.25" fill="#2E83B8"/><circle cx="387.36" cy="196.77" r="2.25" fill="#E24A33"/><circle cx="390.80" cy="217.87" r="2.25" fill="#2E83B8"/><circle cx="363.34" cy="200.56" r="2.25" fill="#E24A33"/><circle cx="373.64" cy="153.77" r="2.25" fill="#E24A33"/><circle cx="425.12" cy="191.27" r="2.25" fill="#2E83B8"/><circle cx="380.50" cy="180.30" r="2.25" fill="#2E83B8"/><circle cx="349.61" cy="209.00" r="2.25" fill="#2E83B8"/><circle cx="377.07" cy="192.47" r="2.25" fill="#E24A33"/><circle cx="346.18" cy="205.50" r="2.25" fill="#E24A33"/><circle cx="390.80" cy="205.61" r="2.25" fill="#2E83B8"/><circle cx="407.96" cy="197.92" r="2.25" fill="#2E83B8"/><circle cx="438.84" cy="24.41" r="2.25" fill="#2E83B8"/><circle cx="325.59" cy="213.20" r="2.25" fill="#2E83B8"/><circle cx="383.93" cy="180.16" r="2.25" fill="#2E83B8"/><circle cx="421.68" cy="204.56" r="2.25" fill="#2E83B8"/><circle cx="380.50" cy="200.94" r="2.25" fill="#2E83B8"/><circle cx="394.23" cy="168.31" r="2.25" fill="#2E83B8"/><circle cx="452.57" cy="17.32" r="2.25" fill="#2E83B8"/><circle cx="356.48" cy="199.40" r="2.25" fill="#2E83B8"/><circle cx="373.64" cy="190.37" r="2.25" fill="#2E83B8"/><circle cx="390.80" cy="184.56" r="2.25" fill="#2E83B8"/><circle cx="377.07" cy="205.30" r="2.25" fill="#2E83B8"/><circle cx="377.07" cy="177.19" r="2.25" fill="#2E83B8"/><circle cx="387.36" cy="178.02" r="2.25" fill="#2E83B8"/><circle cx="325.59" cy="212.54" r="2.25" fill="#2E83B8"/><circle cx="377.07" cy="194.15" r="2.25" fill="#2E83B8"/><circle cx="380.50" cy="209.00" r="2.25" fill="#2E83B8"/><circle cx="377.07" cy="214.90" r="2.25" fill="#2E83B8"/><circle cx="390.80" cy="217.79" r="2.25" fill="#E24A33"/><circle cx="390.80" cy="195.89" r="2.25" fill="#2E83B8"/><circle cx="418.25" cy="116.85" r="2.25" fill="#2E83B8"/><circle cx="459.44" cy="82.14" r="2.25" fill="#2E83B8"/><circle cx="346.18" cy="197.75" r="2.25" fill="#E24A33"/><circle cx="394.23" cy="174.53" r="2.25" fill="#E24A33"/><circle cx="370.20" cy="182.84" r="2.25" fill="#2E83B8"/><circle cx="383.93" cy="197.73" r="2.25" fill="#2E83B8"/><circle cx="370.20" cy="165.31" r="2.25" fill="#E24A33"/><circle cx="370.20" cy="176.51" r="2.25" fill="#2E83B8"/><circle cx="359.91" cy="192.37" r="2.25" fill="#2E83B8"/><circle cx="390.80" cy="209.51" r="2.25" fill="#2E83B8"/><circle cx="390.80" cy="163.58" r="2.25" fill="#2E83B8"/><circle cx="387.36" cy="181.19" r="2.25" fill="#2E83B8"/><circle cx="387.36" cy="200.48" r="2.25" fill="#2E83B8"/><circle cx="380.50" cy="199.26" r="2.25" fill="#2E83B8"/><circle cx="373.64" cy="197.68" r="2.25" fill="#E24A33"/><circle cx="373.64" cy="193.18" r="2.25" fill="#2E83B8"/><circle cx="411.39" cy="182.41" r="2.25" fill="#2E83B8"/><circle cx="380.50" cy="161.76" r="2.25" fill="#E24A33"/><circle cx="397.66" cy="186.63" r="2.25" fill="#E24A33"/><circle cx="373.64" cy="176.78" r="2.25" fill="#2E83B8"/><circle cx="387.36" cy="154.84" r="2.25" fill="#2E83B8"/><circle cx="390.80" cy="203.57" r="2.25" fill="#2E83B8"/><circle cx="397.66" cy="160.32" r="2.25" fill="#2E83B8"/><circle cx="387.36" cy="164.38" r="2.25" fill="#2E83B8"/><circle cx="390.80" cy="192.14" r="2.25" fill="#2E83B8"/><circle cx="346.18" cy="206.59" r="2.25" fill="#E24A33"/><circle cx="397.66" cy="203.03" r="2.25" fill="#E24A33"/><circle cx="397.66" cy="196.68" r="2.25" fill="#2E83B8"/><circle cx="356.48" cy="181.60" r="2.25" fill="#E24A33"/><circle cx="380.50" cy="198.94" r="2.25" fill="#E24A33"/><circle cx="442.28" cy="123.50" r="2.25" fill="#E24A33"/><circle cx="442.28" cy="29.87" r="2.25" fill="#2E83B8"/><circle cx="462.87" cy="179.46" r="2.25" fill="#2E83B8"/><circle cx="366.77" cy="208.35" r="2.25" fill="#E24A33"/><circle cx="390.80" cy="194.02" r="2.25" fill="#2E83B8"/><circle cx="377.07" cy="159.54" r="2.25" fill="#2E83B8"/><circle cx="404.52" cy="166.27" r="2.25" fill="#2E83B8"/><circle cx="380.50" cy="130.56" r="2.25" fill="#2E83B8"/><circle cx="346.18" cy="183.15" r="2.25" fill="#2E83B8"/><circle cx="377.07" cy="170.79" r="2.25" fill="#2E83B8"/><circle cx="387.36" cy="84.36" r="2.25" fill="#2E83B8"/><circle cx="449.14" cy="114.63" r="2.25" fill="#2E83B8"/><circle cx="445.71" cy="43.17" r="2.25" fill="#2E83B8"/><circle cx="370.20" cy="186.05" r="2.25" fill="#E24A33"/><circle cx="387.36" cy="199.38" r="2.25" fill="#2E83B8"/><circle cx="387.36" cy="131.62" r="2.25" fill="#2E83B8"/><circle cx="383.93" cy="172.07" r="2.25" fill="#2E83B8"/><circle cx="411.39" cy="206.95" r="2.25" fill="#2E83B8"/><circle cx="359.91" cy="186.84" r="2.25" fill="#2E83B8"/><circle cx="353.04" cy="164.56" r="2.25" fill="#2E83B8"/><circle cx="425.12" cy="114.34" r="2.25" fill="#2E83B8"/><circle cx="394.23" cy="176.85" r="2.25" fill="#2E83B8"/><circle cx="407.96" cy="183.52" r="2.25" fill="#2E83B8"/><circle cx="383.93" cy="126.26" r="2.25" fill="#E24A33"/><circle cx="356.48" cy="152.87" r="2.25" fill="#2E83B8"/><circle cx="339.32" cy="224.50" r="2.25" fill="#2E83B8"/><circle cx="342.75" cy="189.06" r="2.25" fill="#2E83B8"/><circle cx="370.20" cy="165.19" r="2.25" fill="#2E83B8"/><circle cx="370.20" cy="177.56" r="2.25" fill="#2E83B8"/><circle cx="411.39" cy="119.06" r="2.25" fill="#E24A33"/><circle cx="383.93" cy="187.21" r="2.25" fill="#2E83B8"/><circle cx="370.20" cy="181.67" r="2.25" fill="#E24A33"/><circle cx="394.23" cy="164.35" r="2.25" fill="#2E83B8"/><circle cx="397.66" cy="178.03" r="2.25" fill="#2E83B8"/><circle cx="359.91" cy="164.45" r="2.25" fill="#E24A33"/><circle cx="359.91" cy="163.71" r="2.25" fill="#E24A33"/><circle cx="462.87" cy="104.29" r="2.25" fill="#2E83B8"/><circle cx="380.50" cy="161.63" r="2.25" fill="#2E83B8"/><circle cx="387.36" cy="199.64" r="2.25" fill="#2E83B8"/><circle cx="377.07" cy="179.34" r="2.25" fill="#2E83B8"/><circle cx="418.25" cy="121.28" r="2.25" fill="#2E83B8"/><circle cx="462.87" cy="120.10" r="2.25" fill="#2E83B8"/><circle cx="383.93" cy="196.37" r="2.25" fill="#2E83B8"/><circle cx="366.77" cy="158.91" r="2.25" fill="#2E83B8"/><circle cx="401.09" cy="205.38" r="2.25" fill="#2E83B8"/><circle cx="387.36" cy="178.80" r="2.25" fill="#2E83B8"/><circle cx="383.93" cy="178.61" r="2.25" fill="#2E83B8"/><circle cx="428.55" cy="23.96" r="2.25" fill="#2E83B8"/><circle cx="349.61" cy="171.30" r="2.25" fill="#2E83B8"/><circle cx="373.64" cy="192.24" r="2.25" fill="#2E83B8"/><circle cx="431.98" cy="194.52" r="2.25" fill="#2E83B8"/><circle cx="390.80" cy="169.39" r="2.25" fill="#2E83B8"/><circle cx="377.07" cy="180.47" r="2.25" fill="#2E83B8"/><circle cx="397.66" cy="121.28" r="2.25" fill="#2E83B8"/><circle cx="356.48" cy="194.76" r="2.25" fill="#2E83B8"/><circle cx="325.59" cy="217.46" r="2.25" fill="#E24A33"/><circle cx="325.59" cy="219.93" r="2.25" fill="#E24A33"/><circle cx="366.77" cy="187.29" r="2.25" fill="#2E83B8"/><circle cx="407.96" cy="17.32" r="2.25" fill="#2E83B8"/><circle cx="452.57" cy="204.56" r="2.25" fill="#2E83B8"/><circle cx="390.80" cy="210.00" r="2.25" fill="#E24A33"/><circle cx="397.66" cy="184.53" r="2.25" fill="#2E83B8"/><circle cx="411.39" cy="24.70" r="2.25" fill="#2E83B8"/><circle cx="366.77" cy="202.39" r="2.25" fill="#2E83B8"/><circle cx="335.88" cy="183.89" r="2.25" fill="#2E83B8"/><circle cx="394.23" cy="187.01" r="2.25" fill="#E24A33"/><circle cx="373.64" cy="194.85" r="2.25" fill="#2E83B8"/><circle cx="435.41" cy="97.94" r="2.25" fill="#2E83B8"/><circle cx="359.91" cy="198.71" r="2.25" fill="#2E83B8"/><circle cx="449.14" cy="207.52" r="2.25" fill="#2E83B8"/><circle cx="449.14" cy="166.16" r="2.25" fill="#2E83B8"/><circle cx="332.45" cy="209.98" r="2.25" fill="#E24A33"/><circle cx="404.52" cy="162.17" r="2.25" fill="#2E83B8"/><circle cx="380.50" cy="116.11" r="2.25" fill="#2E83B8"/><circle cx="387.36" cy="184.56" r="2.25" fill="#2E83B8"/><circle cx="407.96" cy="122.02" r="2.25" fill="#2E83B8"/><circle cx="383.93" cy="161.97" r="2.25" fill="#2E83B8"/><circle cx="342.75" cy="196.44" r="2.25" fill="#2E83B8"/><circle cx="435.41" cy="19.09" r="2.25" fill="#2E83B8"/><circle cx="359.91" cy="205.30" r="2.25" fill="#2E83B8"/><circle cx="366.77" cy="164.69" r="2.25" fill="#2E83B8"/><circle cx="346.18" cy="196.08" r="2.25" fill="#2E83B8"/><circle cx="387.36" cy="161.73" r="2.25" fill="#2E83B8"/><circle cx="390.80" cy="183.21" r="2.25" fill="#2E83B8"/><circle cx="380.50" cy="151.98" r="2.25" fill="#2E83B8"/><circle cx="390.80" cy="169.69" r="2.25" fill="#2E83B8"/><circle cx="359.91" cy="169.11" r="2.25" fill="#2E83B8"/><circle cx="452.57" cy="189.79" r="2.25" fill="#2E83B8"/><circle cx="411.39" cy="168.37" r="2.25" fill="#2E83B8"/><circle cx="456.00" cy="79.92" r="2.25" fill="#2E83B8"/><circle cx="346.18" cy="188.95" r="2.25" fill="#E24A33"/><circle cx="397.66" cy="188.61" r="2.25" fill="#2E83B8"/><circle cx="363.34" cy="204.13" r="2.25" fill="#E24A33"/><circle cx="373.64" cy="177.33" r="2.25" fill="#2E83B8"/><circle cx="390.80" cy="211.36" r="2.25" fill="#2E83B8"/><circle cx="418.25" cy="128.67" r="2.25" fill="#2E83B8"/><circle cx="383.93" cy="192.75" r="2.25" fill="#2E83B8"/><circle cx="390.80" cy="202.99" r="2.25" fill="#2E83B8"/><circle cx="380.50" cy="127.19" r="2.25" fill="#2E83B8"/><circle cx="373.64" cy="171.80" r="2.25" fill="#2E83B8"/><circle cx="431.98" cy="38.00" r="2.25" fill="#2E83B8"/><circle cx="383.93" cy="157.79" r="2.25" fill="#2E83B8"/><circle cx="407.96" cy="125.71" r="2.25" fill="#2E83B8"/><circle cx="370.20" cy="163.76" r="2.25" fill="#2E83B8"/><circle cx="370.20" cy="197.78" r="2.25" fill="#E24A33"/><circle cx="370.20" cy="200.23" r="2.25" fill="#2E83B8"/><circle cx="373.64" cy="189.39" r="2.25" fill="#2E83B8"/><circle cx="383.93" cy="211.12" r="2.25" fill="#2E83B8"/><circle cx="363.34" cy="183.92" r="2.25" fill="#2E83B8"/><circle cx="366.77" cy="196.20" r="2.25" fill="#2E83B8"/><circle cx="425.12" cy="149.34" r="2.25" fill="#2E83B8"/><circle cx="373.64" cy="42.72" r="2.25" fill="#2E83B8"/><circle cx="363.34" cy="184.51" r="2.25" fill="#E24A33"/><circle cx="394.23" cy="102.82" r="2.25" fill="#2E83B8"/><circle cx="359.91" cy="190.58" r="2.25" fill="#2E83B8"/><circle cx="380.50" cy="163.35" r="2.25" fill="#2E83B8"/><circle cx="359.91" cy="160.85" r="2.25" fill="#2E83B8"/><circle cx="380.50" cy="134.36" r="2.25" fill="#2E83B8"/><circle cx="363.34" cy="166.54" r="2.25" fill="#2E83B8"/><circle cx="366.77" cy="187.20" r="2.25" fill="#E24A33"/><circle cx="401.09" cy="157.39" r="2.25" fill="#2E83B8"/><circle cx="390.80" cy="163.37" r="2.25" fill="#2E83B8"/><circle cx="383.93" cy="209.22" r="2.25" fill="#2E83B8"/><circle cx="383.93" cy="137.74" r="2.25" fill="#2E83B8"/><circle cx="407.96" cy="174.29" r="2.25" fill="#2E83B8"/><circle cx="359.91" cy="199.68" r="2.25" fill="#2E83B8"/><circle cx="342.75" cy="192.75" r="2.25" fill="#2E83B8"/><circle cx="383.93" cy="215.47" r="2.25" fill="#2E83B8"/><circle cx="428.55" cy="81.40" r="2.25" fill="#2E83B8"/><circle cx="377.07" cy="202.35" r="2.25" fill="#2E83B8"/><circle cx="404.52" cy="191.27" r="2.25" fill="#2E83B8"/><circle cx="370.20" cy="197.94" r="2.25" fill="#2E83B8"/><circle cx="404.52" cy="49.81" r="2.25" fill="#2E83B8"/><circle cx="366.77" cy="198.41" r="2.25" fill="#2E83B8"/><circle cx="366.77" cy="146.39" r="2.25" fill="#E24A33"/><circle cx="377.07" cy="152.87" r="2.25" fill="#2E83B8"/><circle cx="356.48" cy="200.58" r="2.25" fill="#E24A33"/><circle cx="359.91" cy="202.26" r="2.25" fill="#2E83B8"/><circle cx="387.36" cy="167.23" r="2.25" fill="#2E83B8"/><circle cx="380.50" cy="156.73" r="2.25" fill="#2E83B8"/><circle cx="380.50" cy="147.73" r="2.25" fill="#2E83B8"/><circle cx="387.36" cy="118.62" r="2.25" fill="#E24A33"/><circle cx="438.84" cy="143.14" r="2.25" fill="#E24A33"/><circle cx="407.96" cy="153.61" r="2.25" fill="#2E83B8"/><circle cx="418.25" cy="155.82" r="2.25" fill="#E24A33"/><circle cx="356.48" cy="221.60" r="2.25" fill="#2E83B8"/><circle cx="397.66" cy="90.26" r="2.25" fill="#E24A33"/><circle cx="390.80" cy="169.92" r="2.25" fill="#2E83B8"/><circle cx="380.50" cy="187.99" r="2.25" fill="#2E83B8"/><circle cx="397.66" cy="213.35" r="2.25" fill="#2E83B8"/><circle cx="397.66" cy="206.34" r="2.25" fill="#2E83B8"/><circle cx="363.34" cy="173.01" r="2.25" fill="#2E83B8"/><circle cx="373.64" cy="170.46" r="2.25" fill="#2E83B8"/><circle cx="356.48" cy="193.07" r="2.25" fill="#2E83B8"/><circle cx="353.04" cy="168.26" r="2.25" fill="#2E83B8"/><circle cx="428.55" cy="163.21" r="2.25" fill="#2E83B8"/><circle cx="349.61" cy="199.40" r="2.25" fill="#2E83B8"/><circle cx="431.98" cy="48.33" r="2.25" fill="#2E83B8"/><circle cx="370.20" cy="214.17" r="2.25" fill="#2E83B8"/><circle cx="377.07" cy="151.67" r="2.25" fill="#2E83B8"/><circle cx="387.36" cy="198.96" r="2.25" fill="#2E83B8"/><circle cx="387.36" cy="196.54" r="2.25" fill="#E24A33"/><circle cx="459.44" cy="38.00" r="2.25" fill="#2E83B8"/><circle cx="380.50" cy="144.26" r="2.25" fill="#2E83B8"/><circle cx="404.52" cy="157.52" r="2.25" fill="#2E83B8"/><circle cx="383.93" cy="153.61" r="2.25" fill="#2E83B8"/><circle cx="359.91" cy="173.49" r="2.25" fill="#E24A33"/><circle cx="363.34" cy="159.44" r="2.25" fill="#2E83B8"/><circle cx="377.07" cy="47.60" r="2.25" fill="#2E83B8"/><circle cx="322.16" cy="216.12" r="2.25" fill="#E24A33"/><circle cx="397.66" cy="193.20" r="2.25" fill="#2E83B8"/><circle cx="363.34" cy="202.58" r="2.25" fill="#2E83B8"/><circle cx="394.23" cy="173.51" r="2.25" fill="#2E83B8"/><circle cx="383.93" cy="127.36" r="2.25" fill="#2E83B8"/><circle cx="366.77" cy="125.71" r="2.25" fill="#2E83B8"/><circle cx="349.61" cy="189.66" r="2.25" fill="#E24A33"/><circle cx="363.34" cy="154.48" r="2.25" fill="#2E83B8"/><circle cx="349.61" cy="194.09" r="2.25" fill="#E24A33"/><circle cx="380.50" cy="153.50" r="2.25" fill="#E24A33"/><circle cx="445.71" cy="205.01" r="2.25" fill="#2E83B8"/><circle cx="414.82" cy="154.35" r="2.25" fill="#2E83B8"/><circle cx="356.48" cy="195.22" r="2.25" fill="#2E83B8"/><circle cx="425.12" cy="176.50" r="2.25" fill="#2E83B8"/><circle cx="380.50" cy="152.83" r="2.25" fill="#2E83B8"/><circle cx="411.39" cy="187.58" r="2.25" fill="#2E83B8"/><circle cx="377.07" cy="164.33" r="2.25" fill="#2E83B8"/><circle cx="397.66" cy="182.78" r="2.25" fill="#2E83B8"/><circle cx="359.91" cy="187.83" r="2.25" fill="#E24A33"/><circle cx="342.75" cy="189.96" r="2.25" fill="#2E83B8"/><circle cx="380.50" cy="152.87" r="2.25" fill="#2E83B8"/><circle cx="421.68" cy="213.72" r="2.25" fill="#2E83B8"/><circle cx="428.55" cy="19.53" r="2.25" fill="#2E83B8"/><circle cx="387.36" cy="124.97" r="2.25" fill="#E24A33"/><circle cx="339.32" cy="204.08" r="2.25" fill="#E24A33"/><circle cx="387.36" cy="195.51" r="2.25" fill="#2E83B8"/><circle cx="377.07" cy="197.59" r="2.25" fill="#2E83B8"/><circle cx="366.77" cy="186.43" r="2.25" fill="#2E83B8"/><circle cx="394.23" cy="22.49" r="2.25" fill="#2E83B8"/><circle cx="387.36" cy="162.43" r="2.25" fill="#2E83B8"/><circle cx="397.66" cy="216.38" r="2.25" fill="#2E83B8"/><circle cx="363.34" cy="205.30" r="2.25" fill="#2E83B8"/><circle cx="383.93" cy="186.26" r="2.25" fill="#E24A33"/><circle cx="380.50" cy="135.47" r="2.25" fill="#2E83B8"/><circle cx="390.80" cy="193.01" r="2.25" fill="#2E83B8"/><circle cx="387.36" cy="170.42" r="2.25" fill="#2E83B8"/><circle cx="397.66" cy="200.83" r="2.25" fill="#2E83B8"/><circle cx="435.41" cy="169.12" r="2.25" fill="#2E83B8"/><circle cx="397.66" cy="163.83" r="2.25" fill="#2E83B8"/><circle cx="452.57" cy="14.66" r="2.25" fill="#2E83B8"/><circle cx="459.44" cy="119.51" r="2.25" fill="#2E83B8"/><circle cx="356.48" cy="204.49" r="2.25" fill="#E24A33"/><circle cx="397.66" cy="160.96" r="2.25" fill="#2E83B8"/><circle cx="373.64" cy="197.24" r="2.25" fill="#2E83B8"/><circle cx="397.66" cy="128.67" r="2.25" fill="#2E83B8"/><circle cx="431.98" cy="111.68" r="2.25" fill="#2E83B8"/><circle cx="325.59" cy="209.02" r="2.25" fill="#E24A33"/><circle cx="383.93" cy="195.92" r="2.25" fill="#2E83B8"/><circle cx="407.96" cy="21.01" r="2.25" fill="#2E83B8"/><circle cx="383.93" cy="155.25" r="2.25" fill="#2E83B8"/><circle cx="353.04" cy="194.21" r="2.25" fill="#2E83B8"/><circle cx="356.48" cy="177.27" r="2.25" fill="#E24A33"/><circle cx="421.68" cy="166.16" r="2.25" fill="#E24A33"/><circle cx="397.66" cy="160.78" r="2.25" fill="#2E83B8"/><circle cx="466.30" cy="18.80" r="2.25" fill="#2E83B8"/><circle cx="397.66" cy="198.88" r="2.25" fill="#2E83B8"/><circle cx="435.41" cy="205.75" r="2.25" fill="#2E83B8"/><circle cx="380.50" cy="176.49" r="2.25" fill="#2E83B8"/><circle cx="459.44" cy="125.71" r="2.25" fill="#E24A33"/><circle cx="373.64" cy="181.21" r="2.25" fill="#2E83B8"/><circle cx="383.93" cy="132.68" r="2.25" fill="#E24A33"/><circle cx="425.12" cy="18.06" r="2.25" fill="#2E83B8"/><circle cx="383.93" cy="145.53" r="2.25" fill="#2E83B8"/><circle cx="366.77" cy="209.73" r="2.25" fill="#E24A33"/><circle cx="404.52" cy="89.53" r="2.25" fill="#2E83B8"/><circle cx="380.50" cy="206.96" r="2.25" fill="#2E83B8"/><circle cx="363.34" cy="202.62" r="2.25" fill="#2E83B8"/><circle cx="380.50" cy="128.67" r="2.25" fill="#E24A33"/><circle cx="380.50" cy="166.44" r="2.25" fill="#2E83B8"/><circle cx="390.80" cy="195.36" r="2.25" fill="#2E83B8"/><circle cx="332.45" cy="221.55" r="2.25" fill="#E24A33"/><circle cx="377.07" cy="173.49" r="2.25" fill="#2E83B8"/><circle cx="414.82" cy="183.15" r="2.25" fill="#2E83B8"/><circle cx="397.66" cy="53.95" r="2.25" fill="#2E83B8"/><circle cx="359.91" cy="203.19" r="2.25" fill="#2E83B8"/><circle cx="431.98" cy="184.63" r="2.25" fill="#E24A33"/><circle cx="363.34" cy="200.36" r="2.25" fill="#2E83B8"/><circle cx="404.52" cy="209.73" r="2.25" fill="#2E83B8"/><circle cx="380.50" cy="159.62" r="2.25" fill="#2E83B8"/><circle cx="397.66" cy="136.05" r="2.25" fill="#E24A33"/><circle cx="377.07" cy="157.30" r="2.25" fill="#2E83B8"/><circle cx="383.93" cy="154.05" r="2.25" fill="#2E83B8"/><circle cx="428.55" cy="154.64" r="2.25" fill="#2E83B8"/><circle cx="363.34" cy="163.18" r="2.25" fill="#2E83B8"/><circle cx="387.36" cy="193.13" r="2.25" fill="#2E83B8"/><circle cx="363.34" cy="200.39" r="2.25" fill="#2E83B8"/><circle cx="401.09" cy="214.17" r="2.25" fill="#2E83B8"/><circle cx="387.36" cy="175.27" r="2.25" fill="#2E83B8"/><circle cx="377.07" cy="189.76" r="2.25" fill="#2E83B8"/><circle cx="394.23" cy="129.40" r="2.25" fill="#2E83B8"/><circle cx="394.23" cy="177.10" r="2.25" fill="#2E83B8"/><circle cx="373.64" cy="152.87" r="2.25" fill="#2E83B8"/><circle cx="397.66" cy="188.25" r="2.25" fill="#2E83B8"/><circle cx="335.88" cy="213.43" r="2.25" fill="#2E83B8"/><circle cx="387.36" cy="212.51" r="2.25" fill="#2E83B8"/><circle cx="411.39" cy="206.86" r="2.25" fill="#E24A33"/><circle cx="387.36" cy="201.68" r="2.25" fill="#2E83B8"/><circle cx="325.59" cy="225.43" r="2.25" fill="#E24A33"/><circle cx="442.28" cy="115.08" r="2.25" fill="#2E83B8"/><circle cx="380.50" cy="176.09" r="2.25" fill="#2E83B8"/><circle cx="366.77" cy="158.78" r="2.25" fill="#2E83B8"/><circle cx="383.93" cy="202.40" r="2.25" fill="#2E83B8"/><circle cx="449.14" cy="176.21" r="2.25" fill="#2E83B8"/><circle cx="387.36" cy="152.30" r="2.25" fill="#2E83B8"/><circle cx="359.91" cy="162.19" r="2.25" fill="#2E83B8"/><circle cx="442.28" cy="158.78" r="2.25" fill="#2E83B8"/><circle cx="414.82" cy="213.72" r="2.25" fill="#2E83B8"/><circle cx="370.20" cy="172.14" r="2.25" fill="#2E83B8"/><circle cx="366.77" cy="84.36" r="2.25" fill="#2E83B8"/><circle cx="401.09" cy="85.83" r="2.25" fill="#2E83B8"/><circle cx="428.55" cy="65.76" r="2.25" fill="#2E83B8"/><circle cx="401.09" cy="164.02" r="2.25" fill="#2E83B8"/><circle cx="394.23" cy="166.08" r="2.25" fill="#2E83B8"/><circle cx="363.34" cy="172.32" r="2.25" fill="#2E83B8"/><circle cx="383.93" cy="138.68" r="2.25" fill="#2E83B8"/><circle cx="421.68" cy="180.93" r="2.25" fill="#2E83B8"/><circle cx="380.50" cy="139.11" r="2.25" fill="#2E83B8"/><circle cx="370.20" cy="188.27" r="2.25" fill="#2E83B8"/><circle cx="401.09" cy="145.65" r="2.25" fill="#2E83B8"/><circle cx="397.66" cy="202.60" r="2.25" fill="#2E83B8"/><circle cx="394.23" cy="201.27" r="2.25" fill="#2E83B8"/><circle cx="373.64" cy="201.18" r="2.25" fill="#2E83B8"/><circle cx="383.93" cy="159.74" r="2.25" fill="#E24A33"/><circle cx="394.23" cy="197.48" r="2.25" fill="#E24A33"/><circle cx="356.48" cy="182.04" r="2.25" fill="#2E83B8"/><circle cx="366.77" cy="161.66" r="2.25" fill="#2E83B8"/><circle cx="353.04" cy="193.60" r="2.25" fill="#2E83B8"/><circle cx="377.07" cy="195.23" r="2.25" fill="#2E83B8"/><circle cx="431.98" cy="134.57" r="2.25" fill="#2E83B8"/><circle cx="383.93" cy="196.94" r="2.25" fill="#E24A33"/><circle cx="407.96" cy="58.67" r="2.25" fill="#2E83B8"/><circle cx="387.36" cy="198.68" r="2.25" fill="#2E83B8"/><circle cx="383.93" cy="136.47" r="2.25" fill="#2E83B8"/><circle cx="363.34" cy="202.74" r="2.25" fill="#2E83B8"/><circle cx="377.07" cy="180.48" r="2.25" fill="#2E83B8"/><circle cx="383.93" cy="209.43" r="2.25" fill="#E24A33"/><circle cx="407.96" cy="52.77" r="2.25" fill="#2E83B8"/><circle cx="377.07" cy="182.74" r="2.25" fill="#2E83B8"/><circle cx="359.91" cy="163.75" r="2.25" fill="#2E83B8"/><circle cx="383.93" cy="126.02" r="2.25" fill="#2E83B8"/><circle cx="363.34" cy="179.56" r="2.25" fill="#2E83B8"/><circle cx="359.91" cy="57.49" r="2.25" fill="#2E83B8"/><circle cx="377.07" cy="185.49" r="2.25" fill="#2E83B8"/><circle cx="359.91" cy="175.81" r="2.25" fill="#2E83B8"/><circle cx="428.55" cy="28.40" r="2.25" fill="#2E83B8"/><circle cx="332.45" cy="201.91" r="2.25" fill="#E24A33"/><circle cx="349.61" cy="177.46" r="2.25" fill="#E24A33"/><circle cx="380.50" cy="139.88" r="2.25" fill="#2E83B8"/><circle cx="387.36" cy="204.38" r="2.25" fill="#2E83B8"/><circle cx="397.66" cy="20.27" r="2.25" fill="#2E83B8"/><circle cx="414.82" cy="196.44" r="2.25" fill="#2E83B8"/><circle cx="380.50" cy="156.78" r="2.25" fill="#2E83B8"/><circle cx="394.23" cy="180.06" r="2.25" fill="#2E83B8"/><circle cx="387.36" cy="206.61" r="2.25" fill="#E24A33"/><circle cx="390.80" cy="188.90" r="2.25" fill="#2E83B8"/><circle cx="370.20" cy="175.38" r="2.25" fill="#2E83B8"/><circle cx="411.39" cy="55.28" r="2.25" fill="#2E83B8"/><circle cx="394.23" cy="192.97" r="2.25" fill="#2E83B8"/><circle cx="346.18" cy="191.87" r="2.25" fill="#E24A33"/><circle cx="373.64" cy="184.31" r="2.25" fill="#2E83B8"/><circle cx="373.64" cy="166.39" r="2.25" fill="#2E83B8"/><circle cx="359.91" cy="168.66" r="2.25" fill="#E24A33"/><circle cx="390.80" cy="182.41" r="2.25" fill="#2E83B8"/><circle cx="462.87" cy="152.87" r="2.25" fill="#2E83B8"/><circle cx="359.91" cy="173.05" r="2.25" fill="#2E83B8"/><circle cx="431.98" cy="43.17" r="2.25" fill="#2E83B8"/><circle cx="329.02" cy="214.69" r="2.25" fill="#E24A33"/><circle cx="414.82" cy="40.21" r="2.25" fill="#2E83B8"/><circle cx="383.93" cy="152.29" r="2.25" fill="#2E83B8"/><circle cx="329.02" cy="212.20" r="2.25" fill="#E24A33"/><circle cx="435.41" cy="153.61" r="2.25" fill="#2E83B8"/><circle cx="383.93" cy="106.51" r="2.25" fill="#2E83B8"/><circle cx="401.09" cy="168.11" r="2.25" fill="#2E83B8"/><circle cx="404.52" cy="59.41" r="2.25" fill="#2E83B8"/><circle cx="380.50" cy="159.19" r="2.25" fill="#2E83B8"/><circle cx="353.04" cy="172.81" r="2.25" fill="#2E83B8"/><circle cx="387.36" cy="168.18" r="2.25" fill="#2E83B8"/><circle cx="390.80" cy="198.75" r="2.25" fill="#E24A33"/><circle cx="370.20" cy="112.42" r="2.25" fill="#2E83B8"/><circle cx="397.66" cy="175.52" r="2.25" fill="#2E83B8"/><circle cx="445.71" cy="120.10" r="2.25" fill="#2E83B8"/><circle cx="380.50" cy="143.82" r="2.25" fill="#2E83B8"/><circle cx="363.34" cy="188.98" r="2.25" fill="#2E83B8"/><circle cx="383.93" cy="215.64" r="2.25" fill="#2E83B8"/><circle cx="359.91" cy="199.89" r="2.25" fill="#2E83B8"/><circle cx="387.36" cy="183.89" r="2.25" fill="#E24A33"/><circle cx="449.14" cy="123.05" r="2.25" fill="#2E83B8"/><circle cx="428.55" cy="54.24" r="2.25" fill="#2E83B8"/><circle cx="435.41" cy="209.67" r="2.25" fill="#2E83B8"/><circle cx="373.64" cy="168.98" r="2.25" fill="#2E83B8"/><circle cx="329.02" cy="207.54" r="2.25" fill="#2E83B8"/><circle cx="346.18" cy="183.86" r="2.25" fill="#2E83B8"/><circle cx="435.41" cy="55.42" r="2.25" fill="#2E83B8"/><circle cx="397.66" cy="210.36" r="2.25" fill="#E24A33"/><circle cx="383.93" cy="174.92" r="2.25" fill="#2E83B8"/><circle cx="363.34" cy="171.00" r="2.25" fill="#2E83B8"/><circle cx="390.80" cy="208.16" r="2.25" fill="#2E83B8"/><circle cx="383.93" cy="147.67" r="2.25" fill="#E24A33"/><circle cx="356.48" cy="139.00" r="2.25" fill="#E24A33"/><circle cx="428.55" cy="208.70" r="2.25" fill="#2E83B8"/><circle cx="407.96" cy="177.37" r="2.25" fill="#2E83B8"/><circle cx="390.80" cy="215.57" r="2.25" fill="#2E83B8"/><circle cx="421.68" cy="141.22" r="2.25" fill="#2E83B8"/><circle cx="390.80" cy="202.20" r="2.25" fill="#2E83B8"/><circle cx="394.23" cy="46.41" r="2.25" fill="#2E83B8"/><circle cx="438.84" cy="15.84" r="2.25" fill="#E24A33"/><circle cx="356.48" cy="200.14" r="2.25" fill="#2E83B8"/><circle cx="411.39" cy="211.33" r="2.25" fill="#2E83B8"/><circle cx="442.28" cy="120.98" r="2.25" fill="#E24A33"/><circle cx="387.36" cy="188.76" r="2.25" fill="#2E83B8"/><circle cx="380.50" cy="171.53" r="2.25" fill="#2E83B8"/><circle cx="390.80" cy="177.24" r="2.25" fill="#2E83B8"/><circle cx="390.80" cy="157.65" r="2.25" fill="#2E83B8"/><circle cx="390.80" cy="160.02" r="2.25" fill="#2E83B8"/><circle cx="356.48" cy="226.72" r="2.25" fill="#2E83B8"/><circle cx="342.75" cy="204.81" r="2.25" fill="#E24A33"/><circle cx="380.50" cy="189.28" r="2.25" fill="#2E83B8"/><circle cx="353.04" cy="218.60" r="2.25" fill="#2E83B8"/><circle cx="387.36" cy="151.51" r="2.25" fill="#2E83B8"/><circle cx="366.77" cy="210.93" r="2.25" fill="#E24A33"/><circle cx="363.34" cy="191.37" r="2.25" fill="#2E83B8"/><circle cx="414.82" cy="23.23" r="2.25" fill="#2E83B8"/><circle cx="442.28" cy="153.61" r="2.25" fill="#2E83B8"/><circle cx="380.50" cy="133.24" r="2.25" fill="#2E83B8"/><circle cx="421.68" cy="58.97" r="2.25" fill="#2E83B8"/><circle cx="397.66" cy="193.22" r="2.25" fill="#2E83B8"/><circle cx="349.61" cy="191.59" r="2.25" fill="#2E83B8"/><circle cx="346.18" cy="210.33" r="2.25" fill="#E24A33"/><circle cx="407.96" cy="182.11" r="2.25" fill="#2E83B8"/><circle cx="377.07" cy="150.82" r="2.25" fill="#2E83B8"/><circle cx="353.04" cy="199.40" r="2.25" fill="#2E83B8"/><circle cx="339.32" cy="204.36" r="2.25" fill="#E24A33"/><circle cx="404.52" cy="196.44" r="2.25" fill="#2E83B8"/><circle cx="383.93" cy="181.93" r="2.25" fill="#2E83B8"/><circle cx="346.18" cy="183.89" r="2.25" fill="#2E83B8"/><circle cx="377.07" cy="171.45" r="2.25" fill="#2E83B8"/><circle cx="394.23" cy="95.43" r="2.25" fill="#2E83B8"/><circle cx="383.93" cy="188.29" r="2.25" fill="#E24A33"/><circle cx="329.02" cy="206.22" r="2.25" fill="#E24A33"/><circle cx="366.77" cy="193.92" r="2.25" fill="#E24A33"/><circle cx="349.61" cy="170.70" r="2.25" fill="#2E83B8"/><circle cx="394.23" cy="162.72" r="2.25" fill="#2E83B8"/><circle cx="397.66" cy="193.90" r="2.25" fill="#2E83B8"/><circle cx="370.20" cy="194.44" r="2.25" fill="#2E83B8"/><circle cx="353.04" cy="210.87" r="2.25" fill="#E24A33"/><circle cx="390.80" cy="156.39" r="2.25" fill="#2E83B8"/><circle cx="390.80" cy="218.60" r="2.25" fill="#2E83B8"/><circle cx="359.91" cy="188.16" r="2.25" fill="#E24A33"/><circle cx="387.36" cy="203.09" r="2.25" fill="#2E83B8"/><circle cx="380.50" cy="159.19" r="2.25" fill="#2E83B8"/><circle cx="380.50" cy="185.15" r="2.25" fill="#2E83B8"/><circle cx="373.64" cy="56.90" r="2.25" fill="#2E83B8"/><circle cx="452.57" cy="113.45" r="2.25" fill="#2E83B8"/><circle cx="383.93" cy="205.20" r="2.25" fill="#2E83B8"/><circle cx="390.80" cy="194.13" r="2.25" fill="#2E83B8"/><circle cx="394.23" cy="149.34" r="2.25" fill="#2E83B8"/><circle cx="383.93" cy="160.04" r="2.25" fill="#2E83B8"/><circle cx="383.93" cy="152.87" r="2.25" fill="#2E83B8"/><circle cx="438.84" cy="204.56" r="2.25" fill="#2E83B8"/><circle cx="363.34" cy="169.93" r="2.25" fill="#2E83B8"/><circle cx="370.20" cy="174.61" r="2.25" fill="#2E83B8"/><circle cx="394.23" cy="196.52" r="2.25" fill="#2E83B8"/><circle cx="411.39" cy="205.75" r="2.25" fill="#E24A33"/><circle cx="342.75" cy="209.31" r="2.25" fill="#E24A33"/><circle cx="438.84" cy="120.98" r="2.25" fill="#2E83B8"/><circle cx="466.30" cy="179.46" r="2.25" fill="#2E83B8"/><circle cx="370.20" cy="200.24" r="2.25" fill="#2E83B8"/><circle cx="466.30" cy="176.80" r="2.25" fill="#2E83B8"/><circle cx="363.34" cy="186.08" r="2.25" fill="#2E83B8"/><circle cx="370.20" cy="121.28" r="2.25" fill="#2E83B8"/><circle cx="411.39" cy="200.67" r="2.25" fill="#2E83B8"/><circle cx="377.07" cy="103.56" r="2.25" fill="#2E83B8"/><circle cx="397.66" cy="173.60" r="2.25" fill="#2E83B8"/><circle cx="380.50" cy="136.42" r="2.25" fill="#2E83B8"/><circle cx="397.66" cy="149.34" r="2.25" fill="#2E83B8"/><circle cx="359.91" cy="157.30" r="2.25" fill="#2E83B8"/><circle cx="380.50" cy="162.06" r="2.25" fill="#2E83B8"/><circle cx="397.66" cy="25.44" r="2.25" fill="#2E83B8"/><circle cx="353.04" cy="190.90" r="2.25" fill="#E24A33"/><circle cx="387.36" cy="171.26" r="2.25" fill="#2E83B8"/><circle cx="359.91" cy="195.47" r="2.25" fill="#2E83B8"/><circle cx="366.77" cy="211.37" r="2.25" fill="#E24A33"/><circle cx="380.50" cy="156.54" r="2.25" fill="#E24A33"/><circle cx="380.50" cy="164.61" r="2.25" fill="#2E83B8"/><circle cx="431.98" cy="89.08" r="2.25" fill="#2E83B8"/><circle cx="366.77" cy="130.14" r="2.25" fill="#2E83B8"/><circle cx="459.44" cy="55.42" r="2.25" fill="#2E83B8"/><circle cx="442.28" cy="143.73" r="2.25" fill="#2E83B8"/><circle cx="366.77" cy="211.15" r="2.25" fill="#2E83B8"/><circle cx="394.23" cy="214.61" r="2.25" fill="#2E83B8"/><circle cx="401.09" cy="161.98" r="2.25" fill="#2E83B8"/><circle cx="370.20" cy="173.66" r="2.25" fill="#2E83B8"/><circle cx="370.20" cy="200.41" r="2.25" fill="#2E83B8"/><circle cx="435.41" cy="15.55" r="2.25" fill="#2E83B8"/><circle cx="377.07" cy="192.87" r="2.25" fill="#2E83B8"/><circle cx="380.50" cy="149.85" r="2.25" fill="#2E83B8"/><circle cx="370.20" cy="184.43" r="2.25" fill="#2E83B8"/><circle cx="387.36" cy="154.24" r="2.25" fill="#2E83B8"/><circle cx="452.57" cy="89.53" r="2.25" fill="#2E83B8"/><circle cx="359.91" cy="183.89" r="2.25" fill="#E24A33"/><circle cx="366.77" cy="169.12" r="2.25" fill="#E24A33"/><circle cx="421.68" cy="176.21" r="2.25" fill="#2E83B8"/><circle cx="363.34" cy="154.68" r="2.25" fill="#2E83B8"/><circle cx="383.93" cy="160.31" r="2.25" fill="#E24A33"/><circle cx="322.16" cy="226.14" r="2.25" fill="#2E83B8"/><circle cx="404.52" cy="87.31" r="2.25" fill="#2E83B8"/><circle cx="377.07" cy="107.99" r="2.25" fill="#2E83B8"/><circle cx="366.77" cy="192.59" r="2.25" fill="#2E83B8"/><circle cx="401.09" cy="200.13" r="2.25" fill="#2E83B8"/><circle cx="380.50" cy="172.40" r="2.25" fill="#2E83B8"/><circle cx="366.77" cy="200.78" r="2.25" fill="#E24A33"/><circle cx="387.36" cy="164.62" r="2.25" fill="#2E83B8"/><circle cx="404.52" cy="35.78" r="2.25" fill="#2E83B8"/><circle cx="363.34" cy="133.83" r="2.25" fill="#2E83B8"/><circle cx="421.68" cy="104.29" r="2.25" fill="#2E83B8"/><circle cx="363.34" cy="180.90" r="2.25" fill="#2E83B8"/><circle cx="363.34" cy="194.78" r="2.25" fill="#2E83B8"/><circle cx="383.93" cy="168.82" r="2.25" fill="#E24A33"/><circle cx="356.48" cy="191.27" r="2.25" fill="#2E83B8"/><circle cx="363.34" cy="187.14" r="2.25" fill="#E24A33"/><circle cx="407.96" cy="78.45" r="2.25" fill="#2E83B8"/><circle cx="411.39" cy="201.61" r="2.25" fill="#2E83B8"/><circle cx="346.18" cy="200.87" r="2.25" fill="#2E83B8"/><circle cx="390.80" cy="152.87" r="2.25" fill="#2E83B8"/><circle cx="431.98" cy="166.61" r="2.25" fill="#2E83B8"/><circle cx="329.02" cy="203.96" r="2.25" fill="#2E83B8"/><circle cx="335.88" cy="209.73" r="2.25" fill="#E24A33"/><circle cx="428.55" cy="91.00" r="2.25" fill="#2E83B8"/><circle cx="387.36" cy="214.90" r="2.25" fill="#2E83B8"/><circle cx="346.18" cy="179.46" r="2.25" fill="#2E83B8"/><circle cx="383.93" cy="136.86" r="2.25" fill="#2E83B8"/><circle cx="387.36" cy="208.04" r="2.25" fill="#2E83B8"/><circle cx="363.34" cy="196.66" r="2.25" fill="#2E83B8"/><circle cx="397.66" cy="182.68" r="2.25" fill="#2E83B8"/><circle cx="346.18" cy="205.30" r="2.25" fill="#2E83B8"/><circle cx="373.64" cy="190.34" r="2.25" fill="#2E83B8"/><circle cx="356.48" cy="182.71" r="2.25" fill="#2E83B8"/><circle cx="428.55" cy="182.41" r="2.25" fill="#2E83B8"/><circle cx="449.14" cy="15.10" r="2.25" fill="#E24A33"/><circle cx="346.18" cy="209.00" r="2.25" fill="#E24A33"/><circle cx="342.75" cy="187.65" r="2.25" fill="#2E83B8"/><circle cx="445.71" cy="183.15" r="2.25" fill="#2E83B8"/><circle cx="373.64" cy="178.58" r="2.25" fill="#E24A33"/><circle cx="346.18" cy="225.24" r="2.25" fill="#E24A33"/><circle cx="380.50" cy="162.72" r="2.25" fill="#2E83B8"/><circle cx="387.36" cy="175.34" r="2.25" fill="#2E83B8"/><circle cx="394.23" cy="166.98" r="2.25" fill="#2E83B8"/><circle cx="438.84" cy="189.79" r="2.25" fill="#2E83B8"/><circle cx="377.07" cy="178.72" r="2.25" fill="#E24A33"/><circle cx="435.41" cy="119.06" r="2.25" fill="#2E83B8"/><circle cx="401.09" cy="20.27" r="2.25" fill="#2E83B8"/><circle cx="397.66" cy="179.32" r="2.25" fill="#2E83B8"/><circle cx="397.66" cy="167.64" r="2.25" fill="#2E83B8"/><circle cx="342.75" cy="185.79" r="2.25" fill="#2E83B8"/><circle cx="449.14" cy="84.65" r="2.25" fill="#E24A33"/><circle cx="370.20" cy="191.77" r="2.25" fill="#2E83B8"/><circle cx="425.12" cy="97.94" r="2.25" fill="#2E83B8"/><circle cx="373.64" cy="155.99" r="2.25" fill="#2E83B8"/><circle cx="414.82" cy="27.36" r="2.25" fill="#E24A33"/><circle cx="414.82" cy="86.13" r="2.25" fill="#2E83B8"/><circle cx="407.96" cy="192.01" r="2.25" fill="#2E83B8"/><circle cx="449.14" cy="28.40" r="2.25" fill="#2E83B8"/><circle cx="383.93" cy="195.90" r="2.25" fill="#E24A33"/><circle cx="466.30" cy="122.76" r="2.25" fill="#2E83B8"/><circle cx="459.44" cy="17.32" r="2.25" fill="#2E83B8"/><circle cx="383.93" cy="148.97" r="2.25" fill="#2E83B8"/><circle cx="445.71" cy="86.13" r="2.25" fill="#2E83B8"/><circle cx="377.07" cy="198.81" r="2.25" fill="#2E83B8"/><circle cx="380.50" cy="195.36" r="2.25" fill="#2E83B8"/><circle cx="390.80" cy="102.82" r="2.25" fill="#2E83B8"/><circle cx="370.20" cy="184.47" r="2.25" fill="#E24A33"/><circle cx="325.59" cy="221.13" r="2.25" fill="#2E83B8"/><circle cx="363.34" cy="209.00" r="2.25" fill="#E24A33"/><circle cx="404.52" cy="124.53" r="2.25" fill="#2E83B8"/><circle cx="356.48" cy="178.95" r="2.25" fill="#2E83B8"/><circle cx="387.36" cy="211.28" r="2.25" fill="#2E83B8"/><circle cx="390.80" cy="166.99" r="2.25" fill="#2E83B8"/><circle cx="342.75" cy="210.47" r="2.25" fill="#2E83B8"/><circle cx="380.50" cy="182.59" r="2.25" fill="#2E83B8"/><circle cx="404.52" cy="170.59" r="2.25" fill="#2E83B8"/><circle cx="380.50" cy="182.95" r="2.25" fill="#E24A33"/><circle cx="383.93" cy="129.50" r="2.25" fill="#2E83B8"/><circle cx="359.91" cy="138.71" r="2.25" fill="#2E83B8"/><circle cx="373.64" cy="187.78" r="2.25" fill="#2E83B8"/><circle cx="332.45" cy="206.82" r="2.25" fill="#E24A33"/><circle cx="387.36" cy="211.81" r="2.25" fill="#2E83B8"/><circle cx="445.71" cy="187.87" r="2.25" fill="#2E83B8"/><circle cx="383.93" cy="138.24" r="2.25" fill="#2E83B8"/><circle cx="373.64" cy="177.39" r="2.25" fill="#2E83B8"/><circle cx="356.48" cy="198.16" r="2.25" fill="#2E83B8"/><circle cx="438.84" cy="198.95" r="2.25" fill="#2E83B8"/><circle cx="353.04" cy="168.38" r="2.25" fill="#2E83B8"/><circle cx="380.50" cy="201.99" r="2.25" fill="#2E83B8"/><circle cx="445.71" cy="195.26" r="2.25" fill="#2E83B8"/><circle cx="353.04" cy="163.95" r="2.25" fill="#2E83B8"/><circle cx="383.93" cy="212.34" r="2.25" fill="#2E83B8"/><circle cx="414.82" cy="35.78" r="2.25" fill="#2E83B8"/><circle cx="373.64" cy="107.25" r="2.25" fill="#2E83B8"/><circle cx="377.07" cy="198.14" r="2.25" fill="#E24A33"/><circle cx="394.23" cy="180.93" r="2.25" fill="#2E83B8"/><circle cx="435.41" cy="214.17" r="2.25" fill="#2E83B8"/><circle cx="363.34" cy="143.44" r="2.25" fill="#2E83B8"/><circle cx="373.64" cy="150.82" r="2.25" fill="#2E83B8"/><circle cx="383.93" cy="163.95" r="2.25" fill="#2E83B8"/><circle cx="414.82" cy="138.27" r="2.25" fill="#2E83B8"/><circle cx="356.48" cy="202.73" r="2.25" fill="#2E83B8"/><circle cx="373.64" cy="164.69" r="2.25" fill="#2E83B8"/><circle cx="394.23" cy="115.37" r="2.25" fill="#2E83B8"/><circle cx="390.80" cy="85.09" r="2.25" fill="#2E83B8"/><circle cx="449.14" cy="18.06" r="2.25" fill="#2E83B8"/><circle cx="462.87" cy="207.81" r="2.25" fill="#2E83B8"/><circle cx="390.80" cy="170.54" r="2.25" fill="#2E83B8"/><circle cx="366.77" cy="173.39" r="2.25" fill="#2E83B8"/><circle cx="377.07" cy="192.48" r="2.25" fill="#E24A33"/><circle cx="404.52" cy="21.75" r="2.25" fill="#2E83B8"/><circle cx="394.23" cy="160.26" r="2.25" fill="#2E83B8"/><circle cx="329.02" cy="211.83" r="2.25" fill="#2E83B8"/><circle cx="383.93" cy="197.19" r="2.25" fill="#2E83B8"/><circle cx="366.77" cy="189.26" r="2.25" fill="#2E83B8"/><circle cx="370.20" cy="137.53" r="2.25" fill="#2E83B8"/><circle cx="387.36" cy="139.00" r="2.25" fill="#2E83B8"/><circle cx="394.23" cy="186.84" r="2.25" fill="#2E83B8"/><circle cx="404.52" cy="175.76" r="2.25" fill="#2E83B8"/><circle cx="442.28" cy="23.96" r="2.25" fill="#2E83B8"/><circle cx="380.50" cy="145.77" r="2.25" fill="#2E83B8"/><circle cx="394.23" cy="144.91" r="2.25" fill="#2E83B8"/><circle cx="366.77" cy="107.99" r="2.25" fill="#2E83B8"/><circle cx="356.48" cy="175.00" r="2.25" fill="#2E83B8"/><circle cx="394.23" cy="168.53" r="2.25" fill="#E24A33"/><circle cx="435.41" cy="210.47" r="2.25" fill="#E24A33"/><circle cx="428.55" cy="200.87" r="2.25" fill="#2E83B8"/><circle cx="431.98" cy="211.21" r="2.25" fill="#2E83B8"/><circle cx="383.93" cy="129.02" r="2.25" fill="#2E83B8"/><circle cx="346.18" cy="200.01" r="2.25" fill="#E24A33"/><circle cx="442.28" cy="52.03" r="2.25" fill="#2E83B8"/><circle cx="442.28" cy="105.33" r="2.25" fill="#2E83B8"/><circle cx="342.75" cy="185.36" r="2.25" fill="#2E83B8"/><circle cx="387.36" cy="184.23" r="2.25" fill="#E24A33"/><circle cx="387.36" cy="154.35" r="2.25" fill="#2E83B8"/><circle cx="363.34" cy="195.07" r="2.25" fill="#2E83B8"/><circle cx="342.75" cy="214.90" r="2.25" fill="#2E83B8"/><circle cx="366.77" cy="195.78" r="2.25" fill="#2E83B8"/><circle cx="370.20" cy="180.22" r="2.25" fill="#2E83B8"/><circle cx="366.77" cy="202.38" r="2.25" fill="#2E83B8"/><circle cx="397.66" cy="199.16" r="2.25" fill="#2E83B8"/><circle cx="322.16" cy="221.13" r="2.25" fill="#2E83B8"/><circle cx="346.18" cy="188.32" r="2.25" fill="#E24A33"/><circle cx="380.50" cy="122.02" r="2.25" fill="#E24A33"/><circle cx="421.68" cy="50.55" r="2.25" fill="#2E83B8"/><circle cx="349.61" cy="172.07" r="2.25" fill="#E24A33"/><circle cx="370.20" cy="161.73" r="2.25" fill="#2E83B8"/><circle cx="363.34" cy="152.87" r="2.25" fill="#2E83B8"/><circle cx="394.23" cy="190.23" r="2.25" fill="#2E83B8"/><circle cx="421.68" cy="46.12" r="2.25" fill="#2E83B8"/><circle cx="370.20" cy="133.10" r="2.25" fill="#2E83B8"/><circle cx="353.04" cy="139.30" r="2.25" fill="#2E83B8"/><circle cx="370.20" cy="179.80" r="2.25" fill="#E24A33"/><circle cx="325.59" cy="209.45" r="2.25" fill="#E24A33"/><circle cx="404.52" cy="180.93" r="2.25" fill="#2E83B8"/><circle cx="383.93" cy="188.32" r="2.25" fill="#2E83B8"/><circle cx="373.64" cy="85.09" r="2.25" fill="#E24A33"/><circle cx="383.93" cy="156.44" r="2.25" fill="#2E83B8"/><circle cx="366.77" cy="221.55" r="2.25" fill="#2E83B8"/><circle cx="407.96" cy="46.86" r="2.25" fill="#2E83B8"/><circle cx="380.50" cy="103.56" r="2.25" fill="#2E83B8"/><circle cx="383.93" cy="134.26" r="2.25" fill="#2E83B8"/><circle cx="359.91" cy="166.99" r="2.25" fill="#2E83B8"/><circle cx="366.77" cy="175.02" r="2.25" fill="#E24A33"/><circle cx="462.87" cy="84.06" r="2.25" fill="#2E83B8"/><circle cx="421.68" cy="186.10" r="2.25" fill="#2E83B8"/><circle cx="418.25" cy="125.42" r="2.25" fill="#E24A33"/><circle cx="353.04" cy="213.43" r="2.25" fill="#2E83B8"/><circle cx="462.87" cy="176.21" r="2.25" fill="#2E83B8"/><circle cx="397.66" cy="87.31" r="2.25" fill="#2E83B8"/><circle cx="394.23" cy="203.83" r="2.25" fill="#2E83B8"/><circle cx="373.64" cy="126.45" r="2.25" fill="#2E83B8"/><circle cx="459.44" cy="210.77" r="2.25" fill="#2E83B8"/><circle cx="456.00" cy="131.91" r="2.25" fill="#2E83B8"/><circle cx="431.98" cy="206.78" r="2.25" fill="#E24A33"/><circle cx="428.55" cy="190.98" r="2.25" fill="#E24A33"/><circle cx="380.50" cy="205.54" r="2.25" fill="#2E83B8"/><circle cx="366.77" cy="185.84" r="2.25" fill="#2E83B8"/><circle cx="397.66" cy="153.61" r="2.25" fill="#2E83B8"/><circle cx="442.28" cy="92.92" r="2.25" fill="#2E83B8"/><circle cx="332.45" cy="206.78" r="2.25" fill="#E24A33"/><circle cx="363.34" cy="156.78" r="2.25" fill="#2E83B8"/><circle cx="377.07" cy="167.12" r="2.25" fill="#2E83B8"/><circle cx="366.77" cy="182.29" r="2.25" fill="#2E83B8"/><circle cx="363.34" cy="182.78" r="2.25" fill="#2E83B8"/><circle cx="397.66" cy="186.05" r="2.25" fill="#2E83B8"/><circle cx="363.34" cy="192.71" r="2.25" fill="#2E83B8"/><circle cx="363.34" cy="222.29" r="2.25" fill="#2E83B8"/><circle cx="325.59" cy="208.25" r="2.25" fill="#2E83B8"/><circle cx="452.57" cy="177.24" r="2.25" fill="#2E83B8"/><circle cx="401.09" cy="120.54" r="2.25" fill="#2E83B8"/><circle cx="383.93" cy="142.11" r="2.25" fill="#2E83B8"/><circle cx="435.41" cy="80.66" r="2.25" fill="#2E83B8"/><circle cx="377.07" cy="155.99" r="2.25" fill="#2E83B8"/><circle cx="466.30" cy="115.67" r="2.25" fill="#2E83B8"/><circle cx="366.77" cy="205.23" r="2.25" fill="#2E83B8"/><circle cx="366.77" cy="214.90" r="2.25" fill="#2E83B8"/><circle cx="370.20" cy="167.65" r="2.25" fill="#2E83B8"/><circle cx="387.36" cy="191.60" r="2.25" fill="#2E83B8"/><circle cx="414.82" cy="133.10" r="2.25" fill="#2E83B8"/><circle cx="452.57" cy="156.12" r="2.25" fill="#2E83B8"/><circle cx="353.04" cy="168.48" r="2.25" fill="#2E83B8"/><circle cx="356.48" cy="189.06" r="2.25" fill="#E24A33"/><circle cx="459.44" cy="174.29" r="2.25" fill="#2E83B8"/><circle cx="377.07" cy="211.21" r="2.25" fill="#E24A33"/><circle cx="383.93" cy="148.24" r="2.25" fill="#2E83B8"/><circle cx="363.34" cy="104.59" r="2.25" fill="#2E83B8"/><circle cx="452.57" cy="182.41" r="2.25" fill="#E24A33"/><circle cx="401.09" cy="141.96" r="2.25" fill="#2E83B8"/><circle cx="411.39" cy="34.30" r="2.25" fill="#2E83B8"/><circle cx="332.45" cy="214.90" r="2.25" fill="#2E83B8"/><circle cx="407.96" cy="149.34" r="2.25" fill="#2E83B8"/><circle cx="428.55" cy="114.63" r="2.25" fill="#2E83B8"/><circle cx="363.34" cy="125.71" r="2.25" fill="#2E83B8"/><circle cx="377.07" cy="161.10" r="2.25" fill="#2E83B8"/><circle cx="407.96" cy="40.95" r="2.25" fill="#2E83B8"/><circle cx="390.80" cy="156.21" r="2.25" fill="#2E83B8"/><circle cx="401.09" cy="52.03" r="2.25" fill="#2E83B8"/><circle cx="380.50" cy="169.43" r="2.25" fill="#2E83B8"/><circle cx="383.93" cy="185.03" r="2.25" fill="#2E83B8"/><circle cx="377.07" cy="170.25" r="2.25" fill="#2E83B8"/><circle cx="359.91" cy="214.90" r="2.25" fill="#2E83B8"/><circle cx="421.68" cy="83.62" r="2.25" fill="#2E83B8"/><circle cx="459.44" cy="22.78" r="2.25" fill="#E24A33"/><circle cx="394.23" cy="125.71" r="2.25" fill="#2E83B8"/><circle cx="390.80" cy="173.63" r="2.25" fill="#2E83B8"/><circle cx="363.34" cy="175.95" r="2.25" fill="#2E83B8"/><circle cx="390.80" cy="198.83" r="2.25" fill="#2E83B8"/><circle cx="380.50" cy="188.32" r="2.25" fill="#E24A33"/><circle cx="435.41" cy="84.36" r="2.25" fill="#2E83B8"/><circle cx="373.64" cy="174.11" r="2.25" fill="#2E83B8"/><circle cx="370.20" cy="204.21" r="2.25" fill="#2E83B8"/><circle cx="431.98" cy="27.66" r="2.25" fill="#2E83B8"/><circle cx="401.09" cy="192.01" r="2.25" fill="#2E83B8"/><circle cx="383.93" cy="122.76" r="2.25" fill="#2E83B8"/><circle cx="366.77" cy="209.11" r="2.25" fill="#2E83B8"/><circle cx="445.71" cy="160.99" r="2.25" fill="#2E83B8"/><circle cx="370.20" cy="128.67" r="2.25" fill="#2E83B8"/><circle cx="435.41" cy="182.41" r="2.25" fill="#2E83B8"/><circle cx="418.25" cy="21.75" r="2.25" fill="#2E83B8"/><circle cx="366.77" cy="54.24" r="2.25" fill="#2E83B8"/><circle cx="425.12" cy="48.33" r="2.25" fill="#2E83B8"/><circle cx="373.64" cy="207.52" r="2.25" fill="#2E83B8"/><circle cx="373.64" cy="146.39" r="2.25" fill="#2E83B8"/><circle cx="390.80" cy="119.06" r="2.25" fill="#2E83B8"/><circle cx="359.91" cy="179.46" r="2.25" fill="#2E83B8"/><circle cx="397.66" cy="178.18" r="2.25" fill="#2E83B8"/><circle cx="394.23" cy="189.66" r="2.25" fill="#2E83B8"/><circle cx="383.93" cy="132.12" r="2.25" fill="#2E83B8"/><circle cx="370.20" cy="174.26" r="2.25" fill="#2E83B8"/><circle cx="407.96" cy="161.73" r="2.25" fill="#2E83B8"/><circle cx="370.20" cy="210.91" r="2.25" fill="#2E83B8"/><circle cx="346.18" cy="192.75" r="2.25" fill="#2E83B8"/><circle cx="359.91" cy="169.35" r="2.25" fill="#2E83B8"/><circle cx="390.80" cy="155.25" r="2.25" fill="#2E83B8"/><circle cx="438.84" cy="175.02" r="2.25" fill="#2E83B8"/><circle cx="397.66" cy="209.50" r="2.25" fill="#2E83B8"/><circle cx="421.68" cy="199.40" r="2.25" fill="#2E83B8"/><circle cx="353.04" cy="154.35" r="2.25" fill="#2E83B8"/><circle cx="353.04" cy="180.93" r="2.25" fill="#2E83B8"/><circle cx="356.48" cy="206.04" r="2.25" fill="#2E83B8"/><circle cx="428.55" cy="150.82" r="2.25" fill="#E24A33"/><circle cx="421.68" cy="191.27" r="2.25" fill="#2E83B8"/><circle cx="418.25" cy="136.79" r="2.25" fill="#E24A33"/><circle cx="397.66" cy="172.07" r="2.25" fill="#2E83B8"/><circle cx="377.07" cy="176.65" r="2.25" fill="#2E83B8"/><circle cx="380.50" cy="186.07" r="2.25" fill="#2E83B8"/><circle cx="377.07" cy="127.19" r="2.25" fill="#2E83B8"/><circle cx="397.66" cy="15.84" r="2.25" fill="#2E83B8"/><circle cx="407.96" cy="209.00" r="2.25" fill="#2E83B8"/><circle cx="377.07" cy="186.46" r="2.25" fill="#2E83B8"/><circle cx="435.41" cy="91.00" r="2.25" fill="#2E83B8"/><circle cx="442.28" cy="210.77" r="2.25" fill="#2E83B8"/><circle cx="390.80" cy="185.53" r="2.25" fill="#2E83B8"/><circle cx="418.25" cy="47.60" r="2.25" fill="#2E83B8"/><circle cx="339.32" cy="217.86" r="2.25" fill="#E24A33"/><circle cx="418.25" cy="132.36" r="2.25" fill="#2E83B8"/><circle cx="394.23" cy="19.53" r="2.25" fill="#2E83B8"/><circle cx="438.84" cy="182.41" r="2.25" fill="#E24A33"/><circle cx="363.34" cy="225.98" r="2.25" fill="#E24A33"/><circle cx="459.44" cy="61.33" r="2.25" fill="#2E83B8"/><circle cx="356.48" cy="163.95" r="2.25" fill="#2E83B8"/><circle cx="380.50" cy="214.61" r="2.25" fill="#E24A33"/><circle cx="370.20" cy="221.99" r="2.25" fill="#E24A33"/><circle cx="445.71" cy="117.59" r="2.25" fill="#2E83B8"/><circle cx="370.20" cy="188.27" r="2.25" fill="#2E83B8"/><circle cx="366.77" cy="179.46" r="2.25" fill="#2E83B8"/><circle cx="359.91" cy="104.00" r="2.25" fill="#2E83B8"/><circle cx="380.50" cy="192.31" r="2.25" fill="#2E83B8"/><circle cx="394.23" cy="200.91" r="2.25" fill="#2E83B8"/><circle cx="394.23" cy="88.79" r="2.25" fill="#2E83B8"/><circle cx="442.28" cy="71.97" r="2.25" fill="#2E83B8"/><circle cx="329.02" cy="226.14" r="2.25" fill="#E24A33"/><circle cx="418.25" cy="42.43" r="2.25" fill="#2E83B8"/><circle cx="339.32" cy="203.83" r="2.25" fill="#2E83B8"/><circle cx="449.14" cy="179.75" r="2.25" fill="#E24A33"/><circle cx="370.20" cy="181.95" r="2.25" fill="#2E83B8"/><circle cx="428.55" cy="177.24" r="2.25" fill="#2E83B8"/><circle cx="431.98" cy="32.83" r="2.25" fill="#2E83B8"/><circle cx="325.59" cy="216.84" r="2.25" fill="#E24A33"/><circle cx="356.48" cy="211.21" r="2.25" fill="#E24A33"/><circle cx="353.04" cy="209.73" r="2.25" fill="#2E83B8"/><circle cx="377.07" cy="145.65" r="2.25" fill="#2E83B8"/><circle cx="404.52" cy="83.32" r="2.25" fill="#E24A33"/><circle cx="425.12" cy="212.24" r="2.25" fill="#2E83B8"/><circle cx="370.20" cy="208.03" r="2.25" fill="#2E83B8"/><circle cx="397.66" cy="160.26" r="2.25" fill="#2E83B8"/><circle cx="363.34" cy="155.99" r="2.25" fill="#2E83B8"/><circle cx="349.61" cy="204.56" r="2.25" fill="#2E83B8"/><circle cx="356.48" cy="184.63" r="2.25" fill="#2E83B8"/><circle cx="401.09" cy="186.84" r="2.25" fill="#2E83B8"/><circle cx="418.25" cy="199.40" r="2.25" fill="#2E83B8"/><circle cx="366.77" cy="225.24" r="2.25" fill="#2E83B8"/><circle cx="456.00" cy="182.71" r="2.25" fill="#2E83B8"/><circle cx="346.18" cy="168.38" r="2.25" fill="#2E83B8"/><circle cx="356.48" cy="222.29" r="2.25" fill="#2E83B8"/><circle cx="363.34" cy="199.17" r="2.25" fill="#2E83B8"/><circle cx="377.07" cy="163.82" r="2.25" fill="#2E83B8"/><circle cx="380.50" cy="178.99" r="2.25" fill="#2E83B8"/><circle cx="342.75" cy="180.93" r="2.25" fill="#2E83B8"/><circle cx="383.93" cy="199.52" r="2.25" fill="#2E83B8"/><circle cx="373.64" cy="168.01" r="2.25" fill="#2E83B8"/><circle cx="397.66" cy="115.37" r="2.25" fill="#2E83B8"/><circle cx="431.98" cy="201.61" r="2.25" fill="#2E83B8"/><circle cx="390.80" cy="150.82" r="2.25" fill="#2E83B8"/><circle cx="438.84" cy="52.77" r="2.25" fill="#2E83B8"/><circle cx="390.80" cy="108.73" r="2.25" fill="#2E83B8"/><circle cx="373.64" cy="141.96" r="2.25" fill="#E24A33"/><circle cx="332.45" cy="211.21" r="2.25" fill="#2E83B8"/><circle cx="452.57" cy="87.31" r="2.25" fill="#2E83B8"/><circle cx="394.23" cy="210.47" r="2.25" fill="#E24A33"/><circle cx="366.77" cy="117.59" r="2.25" fill="#2E83B8"/><circle cx="373.64" cy="171.19" r="2.25" fill="#2E83B8"/><circle cx="438.84" cy="82.88" r="2.25" fill="#2E83B8"/><circle cx="397.66" cy="143.44" r="2.25" fill="#2E83B8"/><circle cx="349.61" cy="167.64" r="2.25" fill="#2E83B8"/><circle cx="411.39" cy="20.27" r="2.25" fill="#2E83B8"/><circle cx="425.12" cy="45.38" r="2.25" fill="#2E83B8"/><circle cx="442.28" cy="187.58" r="2.25" fill="#2E83B8"/><circle cx="366.77" cy="154.35" r="2.25" fill="#E24A33"/><circle cx="335.88" cy="194.96" r="2.25" fill="#2E83B8"/><circle cx="442.28" cy="78.74" r="2.25" fill="#2E83B8"/><circle cx="401.09" cy="181.67" r="2.25" fill="#2E83B8"/><circle cx="335.88" cy="191.27" r="2.25" fill="#E24A33"/><circle cx="346.18" cy="213.43" r="2.25" fill="#2E83B8"/><circle cx="356.48" cy="127.48" r="2.25" fill="#E24A33"/><circle cx="404.52" cy="18.06" r="2.25" fill="#2E83B8"/><circle cx="462.87" cy="212.24" r="2.25" fill="#2E83B8"/><circle cx="407.96" cy="186.84" r="2.25" fill="#2E83B8"/><circle cx="401.09" cy="209.00" r="2.25" fill="#2E83B8"/><circle cx="335.88" cy="200.13" r="2.25" fill="#2E83B8"/><circle cx="418.25" cy="18.06" r="2.25" fill="#2E83B8"/><circle cx="349.61" cy="194.96" r="2.25" fill="#2E83B8"/><circle cx="404.52" cy="157.30" r="2.25" fill="#2E83B8"/><circle cx="397.66" cy="49.52" r="2.25" fill="#2E83B8"/><circle cx="431.98" cy="120.54" r="2.25" fill="#2E83B8"/><circle cx="445.71" cy="58.67" r="2.25" fill="#2E83B8"/><circle cx="411.39" cy="177.98" r="2.25" fill="#2E83B8"/><circle cx="401.09" cy="15.10" r="2.25" fill="#2E83B8"/><circle cx="390.80" cy="139.74" r="2.25" fill="#2E83B8"/><circle cx="411.39" cy="215.20" r="2.25" fill="#2E83B8"/><circle cx="401.09" cy="158.78" r="2.25" fill="#2E83B8"/><circle cx="414.82" cy="199.40" r="2.25" fill="#2E83B8"/><circle cx="404.52" cy="214.61" r="2.25" fill="#2E83B8"/><circle cx="397.66" cy="196.55" r="2.25" fill="#2E83B8"/><circle cx="363.34" cy="213.43" r="2.25" fill="#E24A33"/><circle cx="380.50" cy="146.54" r="2.25" fill="#2E83B8"/><circle cx="414.82" cy="128.37" r="2.25" fill="#2E83B8"/><circle cx="459.44" cy="200.13" r="2.25" fill="#2E83B8"/><circle cx="431.98" cy="162.03" r="2.25" fill="#E24A33"/><circle cx="418.25" cy="89.53" r="2.25" fill="#2E83B8"/><circle cx="373.64" cy="87.31" r="2.25" fill="#2E83B8"/><circle cx="353.04" cy="94.40" r="2.25" fill="#2E83B8"/><circle cx="339.32" cy="212.69" r="2.25" fill="#E24A33"/><circle cx="380.50" cy="223.77" r="2.25" fill="#2E83B8"/><circle cx="404.52" cy="161.73" r="2.25" fill="#2E83B8"/><circle cx="387.36" cy="155.99" r="2.25" fill="#2E83B8"/><circle cx="431.98" cy="116.11" r="2.25" fill="#E24A33"/><circle cx="394.23" cy="171.25" r="2.25" fill="#2E83B8"/><circle cx="404.52" cy="31.35" r="2.25" fill="#2E83B8"/><circle cx="431.98" cy="81.11" r="2.25" fill="#2E83B8"/><circle cx="449.14" cy="24.41" r="2.25" fill="#2E83B8"/><circle cx="349.61" cy="190.53" r="2.25" fill="#2E83B8"/><circle cx="462.87" cy="26.92" r="2.25" fill="#2E83B8"/><circle cx="353.04" cy="126.01" r="2.25" fill="#2E83B8"/><circle cx="397.66" cy="36.08" r="2.25" fill="#2E83B8"/><circle cx="431.98" cy="14.36" r="2.25" fill="#2E83B8"/><circle cx="339.32" cy="193.49" r="2.25" fill="#E24A33"/><circle cx="404.52" cy="26.18" r="2.25" fill="#2E83B8"/><circle cx="407.96" cy="116.55" r="2.25" fill="#2E83B8"/><circle cx="373.64" cy="204.42" r="2.25" fill="#2E83B8"/><circle cx="425.12" cy="207.81" r="2.25" fill="#E24A33"/><circle cx="418.25" cy="141.96" r="2.25" fill="#2E83B8"/><circle cx="342.75" cy="220.81" r="2.25" fill="#E24A33"/><circle cx="353.04" cy="190.53" r="2.25" fill="#2E83B8"/><circle cx="359.91" cy="128.67" r="2.25" fill="#2E83B8"/><circle cx="397.66" cy="188.63" r="2.25" fill="#2E83B8"/><circle cx="359.91" cy="209.73" r="2.25" fill="#E24A33"/><circle cx="356.48" cy="172.07" r="2.25" fill="#2E83B8"/><circle cx="438.84" cy="89.53" r="2.25" fill="#2E83B8"/><circle cx="401.09" cy="156.73" r="2.25" fill="#2E83B8"/><circle cx="359.91" cy="153.61" r="2.25" fill="#E24A33"/><circle cx="418.25" cy="26.92" r="2.25" fill="#2E83B8"/><circle cx="359.91" cy="143.44" r="2.25" fill="#2E83B8"/><circle cx="397.66" cy="83.62" r="2.25" fill="#2E83B8"/><circle cx="411.39" cy="197.18" r="2.25" fill="#2E83B8"/><circle cx="401.09" cy="177.24" r="2.25" fill="#2E83B8"/><circle cx="428.55" cy="187.58" r="2.25" fill="#2E83B8"/><circle cx="445.71" cy="38.73" r="2.25" fill="#2E83B8"/><circle cx="407.96" cy="182.41" r="2.25" fill="#2E83B8"/><circle cx="404.52" cy="204.56" r="2.25" fill="#2E83B8"/><circle cx="449.14" cy="73.15" r="2.25" fill="#2E83B8"/><circle cx="425.12" cy="146.09" r="2.25" fill="#2E83B8"/><circle cx="435.41" cy="176.50" r="2.25" fill="#2E83B8"/><circle cx="404.52" cy="186.10" r="2.25" fill="#2E83B8"/><circle cx="425.12" cy="165.42" r="2.25" fill="#2E83B8"/><circle cx="445.71" cy="21.01" r="2.25" fill="#2E83B8"/><circle cx="359.91" cy="147.87" r="2.25" fill="#2E83B8"/><circle cx="366.77" cy="172.07" r="2.25" fill="#2E83B8"/><circle cx="414.82" cy="172.81" r="2.25" fill="#2E83B8"/><circle cx="418.25" cy="38.00" r="2.25" fill="#2E83B8"/><circle cx="332.45" cy="199.40" r="2.25" fill="#2E83B8"/><circle cx="442.28" cy="65.32" r="2.25" fill="#2E83B8"/><circle cx="414.82" cy="117.59" r="2.25" fill="#2E83B8"/><circle cx="411.39" cy="122.76" r="2.25" fill="#2E83B8"/><circle cx="438.84" cy="48.63" r="2.25" fill="#2E83B8"/><circle cx="414.82" cy="163.21" r="2.25" fill="#2E83B8"/><circle cx="414.82" cy="167.64" r="2.25" fill="#2E83B8"/><circle cx="363.34" cy="129.40" r="2.25" fill="#2E83B8"/><circle cx="428.55" cy="196.44" r="2.25" fill="#2E83B8"/><circle cx="411.39" cy="169.12" r="2.25" fill="#2E83B8"/><circle cx="401.09" cy="58.67" r="2.25" fill="#2E83B8"/><circle cx="414.82" cy="177.98" r="2.25" fill="#2E83B8"/><circle cx="356.48" cy="142.70" r="2.25" fill="#2E83B8"/><circle cx="353.04" cy="186.10" r="2.25" fill="#2E83B8"/><circle cx="370.20" cy="125.71" r="2.25" fill="#E24A33"/><circle cx="418.25" cy="176.50" r="2.25" fill="#2E83B8"/><circle cx="366.77" cy="137.53" r="2.25" fill="#2E83B8"/><circle cx="411.39" cy="210.47" r="2.25" fill="#2E83B8"/><circle cx="349.61" cy="176.50" r="2.25" fill="#2E83B8"/><circle cx="346.18" cy="174.29" r="2.25" fill="#E24A33"/><circle cx="401.09" cy="172.07" r="2.25" fill="#2E83B8"/><circle cx="359.91" cy="125.71" r="2.25" fill="#2E83B8"/><circle cx="377.07" cy="140.48" r="2.25" fill="#2E83B8"/><circle cx="366.77" cy="113.16" r="2.25" fill="#2E83B8"/><circle cx="411.39" cy="88.79" r="2.25" fill="#2E83B8"/><circle cx="325.59" cy="204.24" r="2.25" fill="#2E83B8"/><circle cx="401.09" cy="204.56" r="2.25" fill="#2E83B8"/><circle cx="401.09" cy="137.53" r="2.25" fill="#2E83B8"/><circle cx="373.64" cy="105.03" r="2.25" fill="#2E83B8"/><circle cx="425.12" cy="33.57" r="2.25" fill="#2E83B8"/><circle cx="431.98" cy="17.32" r="2.25" fill="#2E83B8"/><circle cx="342.75" cy="201.61" r="2.25" fill="#E24A33"/><circle cx="418.25" cy="147.87" r="2.25" fill="#2E83B8"/><circle cx="404.52" cy="166.16" r="2.25" fill="#2E83B8"/><circle cx="373.64" cy="215.64" r="2.25" fill="#2E83B8"/><circle cx="404.52" cy="40.21" r="2.25" fill="#2E83B8"/><circle cx="449.14" cy="192.45" r="2.25" fill="#2E83B8"/><circle cx="452.57" cy="167.34" r="2.25" fill="#2E83B8"/><circle cx="349.61" cy="214.17" r="2.25" fill="#E24A33"/><circle cx="335.88" cy="204.56" r="2.25" fill="#2E83B8"/><circle cx="411.39" cy="172.81" r="2.25" fill="#2E83B8"/><circle cx="373.64" cy="211.21" r="2.25" fill="#E24A33"/><circle cx="425.12" cy="64.58" r="2.25" fill="#2E83B8"/><circle cx="353.04" cy="205.30" r="2.25" fill="#E24A33"/><circle cx="401.09" cy="167.64" r="2.25" fill="#2E83B8"/><circle cx="411.39" cy="164.69" r="2.25" fill="#2E83B8"/><circle cx="456.00" cy="162.03" r="2.25" fill="#2E83B8"/><circle cx="349.61" cy="180.93" r="2.25" fill="#E24A33"/><circle cx="401.09" cy="133.83" r="2.25" fill="#2E83B8"/><circle cx="332.45" cy="203.09" r="2.25" fill="#2E83B8"/><circle cx="421.68" cy="32.83" r="2.25" fill="#2E83B8"/><circle cx="407.96" cy="214.17" r="2.25" fill="#2E83B8"/><circle cx="452.57" cy="214.61" r="2.25" fill="#2E83B8"/><circle cx="431.98" cy="76.40" r="2.25" fill="#2E83B8"/><circle cx="407.96" cy="178.27" r="2.25" fill="#E24A33"/><circle cx="414.82" cy="50.99" r="2.25" fill="#2E83B8"/><circle cx="390.80" cy="130.14" r="2.25" fill="#2E83B8"/><circle cx="390.80" cy="125.71" r="2.25" fill="#2E83B8"/><circle cx="346.18" cy="196.44" r="2.25" fill="#2E83B8"/><circle cx="359.91" cy="225.54" r="2.25" fill="#E24A33"/><circle cx="452.57" cy="209.73" r="2.25" fill="#E24A33"/><circle cx="356.48" cy="160.26" r="2.25" fill="#2E83B8"/><circle cx="339.32" cy="208.26" r="2.25" fill="#2E83B8"/><circle cx="418.25" cy="52.03" r="2.25" fill="#2E83B8"/><circle cx="377.07" cy="130.88" r="2.25" fill="#2E83B8"/><circle cx="425.12" cy="67.54" r="2.25" fill="#2E83B8"/><circle cx="445.71" cy="176.50" r="2.25" fill="#2E83B8"/><circle cx="414.82" cy="208.26" r="2.25" fill="#2E83B8"/><circle cx="353.04" cy="159.52" r="2.25" fill="#2E83B8"/><circle cx="449.14" cy="197.92" r="2.25" fill="#2E83B8"/><circle cx="363.34" cy="109.76" r="2.25" fill="#2E83B8"/><circle cx="349.61" cy="186.10" r="2.25" fill="#2E83B8"/><circle cx="342.75" cy="206.04" r="2.25" fill="#2E83B8"/><circle cx="445.71" cy="171.33" r="2.25" fill="#2E83B8"/><circle cx="438.84" cy="46.12" r="2.25" fill="#2E83B8"/><circle cx="401.09" cy="46.12" r="2.25" fill="#2E83B8"/><circle cx="418.25" cy="172.81" r="2.25" fill="#2E83B8"/><circle cx="404.52" cy="153.61" r="2.25" fill="#2E83B8"/><circle cx="401.09" cy="163.21" r="2.25" fill="#2E83B8"/><circle cx="356.48" cy="217.86" r="2.25" fill="#2E83B8"/><circle cx="418.25" cy="180.93" r="2.25" fill="#2E83B8"/><circle cx="339.32" cy="199.40" r="2.25" fill="#2E83B8"/><circle cx="353.04" cy="194.96" r="2.25" fill="#2E83B8"/><circle cx="431.98" cy="21.75" r="2.25" fill="#2E83B8"/></g>
<g font-size="6.94" fill="#555555" stroke="#555555" stroke-width="0.08"><text transform="translate(43.15,213.40) scale(1,1.18)" text-anchor="end">2,500</text><text transform="translate(43.15,185.30) scale(1,1.18)" text-anchor="end">5,000</text><text transform="translate(43.15,156.90) scale(1,1.18)" text-anchor="end">7,500</text><text transform="translate(43.15,129.20) scale(1,1.18)" text-anchor="end">10,000</text><text transform="translate(43.15,101.20) scale(1,1.18)" text-anchor="end">12,500</text><text transform="translate(43.15,73.20) scale(1,1.18)" text-anchor="end">15,000</text><text transform="translate(43.15,45.10) scale(1,1.18)" text-anchor="end">17,500</text><text transform="translate(43.15,17.40) scale(1,1.18)" text-anchor="end">20,000</text><text transform="translate(43.15,459.40) scale(1,1.18)" text-anchor="end">20</text><text transform="translate(43.15,408.70) scale(1,1.18)" text-anchor="end">30</text><text transform="translate(43.15,358.00) scale(1,1.18)" text-anchor="end">40</text><text transform="translate(43.15,307.30) scale(1,1.18)" text-anchor="end">50</text><text transform="translate(43.15,256.60) scale(1,1.18)" text-anchor="end">60</text><text transform="translate(79.05,488.25) scale(1,1.18)" text-anchor="middle">0</text><text transform="translate(118.45,488.25) scale(1,1.18)" text-anchor="middle">5000</text><text transform="translate(156.75,488.25) scale(1,1.18)" text-anchor="middle">10000</text><text transform="translate(196.40,488.25) scale(1,1.18)" text-anchor="middle">15000</text><text transform="translate(235.00,488.25) scale(1,1.18)" text-anchor="middle">20000</text><text transform="translate(295.00,488.25) scale(1,1.18)" text-anchor="middle">10</text><text transform="translate(329.45,488.25) scale(1,1.18)" text-anchor="middle">20</text><text transform="translate(363.70,488.25) scale(1,1.18)" text-anchor="middle">30</text><text transform="translate(398.10,488.25) scale(1,1.18)" text-anchor="middle">40</text><text transform="translate(432.60,488.25) scale(1,1.18)" text-anchor="middle">50</text><text transform="translate(466.40,488.25) scale(1,1.18)" text-anchor="middle">60</text><text transform="translate(500.70,488.25) scale(1,1.18)" text-anchor="middle">70</text></g>
<g font-size="8.35" fill="#555555"><text x="160.42" y="499.7" text-anchor="middle">MonthlyIncome</text><text x="390.80" y="499.7" text-anchor="middle">Age</text><text transform="translate(12.7,122.25) rotate(-90)" text-anchor="middle">MonthlyIncome</text><text transform="translate(26.2,360.35) rotate(-90)" text-anchor="middle">Age</text></g>
<text transform="translate(529.3,244.4) scale(1,1.08)" font-size="6.9" fill="#000000" stroke="#000000" stroke-width="0.12" text-anchor="middle">Attrition</text>
<g stroke="#ffffff" stroke-width="0.55"><circle cx="524.5" cy="252.4" r="2.6" fill="#E24A33"/><circle cx="524.5" cy="263.2" r="2.6" fill="#2E83B8"/></g>
<g font-size="6.94" fill="#000000" stroke="#000000" stroke-width="0.1"><text transform="translate(537.6,255.4) scale(1,1.18)">1</text><text transform="translate(537.6,266.2) scale(1,1.18)">0</text></g>
</svg>
</body></html>
